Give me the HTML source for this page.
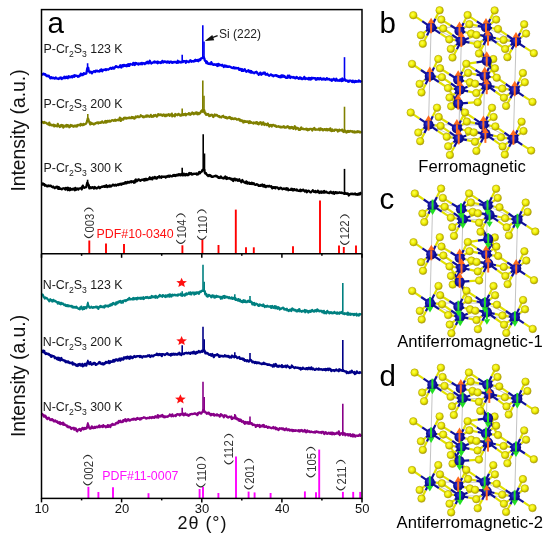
<!DOCTYPE html><html><head><meta charset="utf-8"><style>html,body{margin:0;padding:0;background:#fff;}svg{display:block;}text{font-family:"Liberation Sans",Arial,sans-serif;}</style></head><body>
<svg width="550" height="542" viewBox="0 0 550 542">
<rect width="550" height="542" fill="#fff"/>
<line x1="89.3" y1="240.5" x2="89.3" y2="253" stroke="#ff0000" stroke-width="1.9"/>
<line x1="106.0" y1="243.5" x2="106.0" y2="253" stroke="#ff0000" stroke-width="1.9"/>
<line x1="124.0" y1="244.0" x2="124.0" y2="253" stroke="#ff0000" stroke-width="1.9"/>
<line x1="182.4" y1="245.3" x2="182.4" y2="253" stroke="#ff0000" stroke-width="1.9"/>
<line x1="202.4" y1="239.5" x2="202.4" y2="253" stroke="#ff0000" stroke-width="1.9"/>
<line x1="218.5" y1="245.0" x2="218.5" y2="253" stroke="#ff0000" stroke-width="1.9"/>
<line x1="235.8" y1="209.6" x2="235.8" y2="253" stroke="#ff0000" stroke-width="1.9"/>
<line x1="246.0" y1="247.3" x2="246.0" y2="253" stroke="#ff0000" stroke-width="1.9"/>
<line x1="253.8" y1="247.3" x2="253.8" y2="253" stroke="#ff0000" stroke-width="1.9"/>
<line x1="293.0" y1="246.3" x2="293.0" y2="253" stroke="#ff0000" stroke-width="1.9"/>
<line x1="320.0" y1="200.5" x2="320.0" y2="253" stroke="#ff0000" stroke-width="1.9"/>
<line x1="339.0" y1="245.6" x2="339.0" y2="253" stroke="#ff0000" stroke-width="1.9"/>
<line x1="343.8" y1="247.0" x2="343.8" y2="253" stroke="#ff0000" stroke-width="1.9"/>
<line x1="356.0" y1="245.6" x2="356.0" y2="253" stroke="#ff0000" stroke-width="1.9"/>
<line x1="88.4" y1="486.8" x2="88.4" y2="498" stroke="#ff00ff" stroke-width="1.9"/>
<line x1="98.4" y1="492.0" x2="98.4" y2="498" stroke="#ff00ff" stroke-width="1.9"/>
<line x1="113.0" y1="487.3" x2="113.0" y2="498" stroke="#ff00ff" stroke-width="1.9"/>
<line x1="148.5" y1="493.2" x2="148.5" y2="498" stroke="#ff00ff" stroke-width="1.9"/>
<line x1="199.6" y1="489.0" x2="199.6" y2="498" stroke="#ff00ff" stroke-width="1.9"/>
<line x1="203.0" y1="487.0" x2="203.0" y2="498" stroke="#ff00ff" stroke-width="1.9"/>
<line x1="218.4" y1="493.0" x2="218.4" y2="498" stroke="#ff00ff" stroke-width="1.9"/>
<line x1="236.0" y1="456.4" x2="236.0" y2="498" stroke="#ff00ff" stroke-width="1.9"/>
<line x1="248.6" y1="491.6" x2="248.6" y2="498" stroke="#ff00ff" stroke-width="1.9"/>
<line x1="254.6" y1="492.4" x2="254.6" y2="498" stroke="#ff00ff" stroke-width="1.9"/>
<line x1="270.6" y1="493.0" x2="270.6" y2="498" stroke="#ff00ff" stroke-width="1.9"/>
<line x1="304.9" y1="491.4" x2="304.9" y2="498" stroke="#ff00ff" stroke-width="1.9"/>
<line x1="316.0" y1="492.2" x2="316.0" y2="498" stroke="#ff00ff" stroke-width="1.9"/>
<line x1="319.2" y1="449.6" x2="319.2" y2="498" stroke="#ff00ff" stroke-width="1.9"/>
<line x1="342.9" y1="491.9" x2="342.9" y2="498" stroke="#ff00ff" stroke-width="1.9"/>
<line x1="353.2" y1="491.9" x2="353.2" y2="498" stroke="#ff00ff" stroke-width="1.9"/>
<line x1="360.2" y1="491.9" x2="360.2" y2="498" stroke="#ff00ff" stroke-width="1.9"/>
<path d="M41.8 74.32 L42.3 74.67 L42.8 74.05 L43.3 73.63 L43.8 73.57 L44.3 74.44 L44.8 74.15 L45.3 74.08 L45.8 75.27 L46.3 75.62 L46.8 76.13 L47.3 75.52 L47.8 76.15 L48.3 76.33 L48.8 75.61 L49.3 76.85 L49.8 77.03 L50.3 78.42 L50.8 77.43 L51.3 77.19 L51.8 78.09 L52.3 77.72 L52.8 78.19 L53.3 77.59 L53.8 77.94 L54.3 78.55 L54.8 78.52 L55.3 78.23 L55.8 77.52 L56.3 78.36 L56.8 78.30 L57.3 78.69 L57.8 78.44 L58.3 78.92 L58.8 78.29 L59.3 78.33 L59.8 78.58 L60.3 77.53 L60.8 77.74 L61.3 77.67 L61.8 79.10 L62.3 78.01 L62.8 78.25 L63.3 78.21 L63.8 77.62 L64.3 76.72 L64.8 78.05 L65.3 77.39 L65.8 77.91 L66.3 76.73 L66.8 77.02 L67.3 78.03 L67.8 78.23 L68.3 76.56 L68.8 76.24 L69.3 76.91 L69.8 77.41 L70.3 77.09 L70.8 77.06 L71.3 76.23 L71.8 76.99 L72.3 77.36 L72.8 76.43 L73.3 75.62 L73.8 75.85 L74.3 76.73 L74.8 75.30 L75.3 76.01 L75.8 75.52 L76.3 75.90 L76.8 75.82 L77.3 75.90 L77.8 76.74 L78.3 76.15 L78.8 76.54 L79.3 75.64 L79.8 75.24 L80.3 75.61 L80.8 73.64 L81.3 74.94 L81.8 75.16 L82.3 74.26 L82.8 75.04 L83.3 74.45 L83.8 73.12 L84.3 74.16 L84.8 73.74 L85.3 73.81 L85.8 73.73 L86.3 73.61 L86.8 70.89 L87.3 68.26 L87.8 67.74 L88.3 67.85 L88.8 71.43 L89.3 71.47 L89.8 72.57 L90.3 71.80 L90.8 71.76 L91.3 72.05 L91.8 73.40 L92.3 72.80 L92.8 71.85 L93.3 71.80 L93.8 71.18 L94.3 71.66 L94.8 71.32 L95.3 71.95 L95.8 70.70 L96.3 71.03 L96.8 70.68 L97.3 70.61 L97.8 71.38 L98.3 71.05 L98.8 71.19 L99.3 71.50 L99.8 71.44 L100.3 69.84 L100.8 70.67 L101.3 69.35 L101.8 70.09 L102.3 71.32 L102.8 70.16 L103.3 69.81 L103.8 70.00 L104.3 69.86 L104.8 69.76 L105.3 69.19 L105.8 70.11 L106.3 70.04 L106.8 69.27 L107.3 69.37 L107.8 69.49 L108.3 69.63 L108.8 69.16 L109.3 69.17 L109.8 68.49 L110.3 67.80 L110.8 67.93 L111.3 68.76 L111.8 68.75 L112.3 68.15 L112.8 67.53 L113.3 67.86 L113.8 68.62 L114.3 68.44 L114.8 67.09 L115.3 67.16 L115.8 66.22 L116.3 66.17 L116.8 66.85 L117.3 66.75 L117.8 67.20 L118.3 67.35 L118.8 67.01 L119.3 67.15 L119.8 65.95 L120.3 65.34 L120.8 66.16 L121.3 67.52 L121.8 66.26 L122.3 65.09 L122.8 65.68 L123.3 66.41 L123.8 64.97 L124.3 65.79 L124.8 64.99 L125.3 65.94 L125.8 65.72 L126.3 65.33 L126.8 66.22 L127.3 64.84 L127.8 64.40 L128.3 65.79 L128.8 64.30 L129.3 65.86 L129.8 64.69 L130.3 63.87 L130.8 64.31 L131.3 64.41 L131.8 64.42 L132.3 64.14 L132.8 64.81 L133.3 62.83 L133.8 63.54 L134.3 63.78 L134.8 65.02 L135.3 62.88 L135.8 63.50 L136.3 63.07 L136.8 63.25 L137.3 64.02 L137.8 63.96 L138.3 64.53 L138.8 63.35 L139.3 63.65 L139.8 64.20 L140.3 64.08 L140.8 63.28 L141.3 64.00 L141.8 62.84 L142.3 64.26 L142.8 63.44 L143.3 63.11 L143.8 63.25 L144.3 63.58 L144.8 64.12 L145.3 63.03 L145.8 62.70 L146.3 63.18 L146.8 62.34 L147.3 61.68 L147.8 63.06 L148.3 62.50 L148.8 63.29 L149.3 62.08 L149.8 60.74 L150.3 62.42 L150.8 62.56 L151.3 63.42 L151.8 62.87 L152.3 62.63 L152.8 62.74 L153.3 62.16 L153.8 62.31 L154.3 61.46 L154.8 62.43 L155.3 61.76 L155.8 61.85 L156.3 62.53 L156.8 62.74 L157.3 61.60 L157.8 63.22 L158.3 61.89 L158.8 62.53 L159.3 62.68 L159.8 62.25 L160.3 62.13 L160.8 63.08 L161.3 62.66 L161.8 62.32 L162.3 60.89 L162.8 61.31 L163.3 62.51 L163.8 62.09 L164.3 61.33 L164.8 61.39 L165.3 61.59 L165.8 62.21 L166.3 62.12 L166.8 62.47 L167.3 61.43 L167.8 62.35 L168.3 61.59 L168.8 61.60 L169.3 62.82 L169.8 62.00 L170.3 61.75 L170.8 61.67 L171.3 61.55 L171.8 62.69 L172.3 62.75 L172.8 62.36 L173.3 61.98 L173.8 62.43 L174.3 61.83 L174.8 62.05 L175.3 62.05 L175.8 61.86 L176.3 62.77 L176.8 62.96 L177.3 62.73 L177.8 60.75 L178.3 62.70 L178.8 62.30 L179.3 61.54 L179.8 61.67 L180.3 62.38 L180.8 62.50 L181.3 62.31 L181.8 61.83 L182.3 61.68 L182.8 62.11 L183.3 61.60 L183.8 61.02 L184.3 61.08 L184.8 61.35 L185.3 61.65 L185.8 62.83 L186.3 60.80 L186.8 61.57 L187.3 61.32 L187.8 61.49 L188.3 62.11 L188.8 62.11 L189.3 61.24 L189.8 60.84 L190.3 60.26 L190.8 60.91 L191.3 61.76 L191.8 60.94 L192.3 61.36 L192.8 61.38 L193.3 61.15 L193.8 61.48 L194.3 60.76 L194.8 60.17 L195.3 59.83 L195.8 60.99 L196.3 60.33 L196.8 60.21 L197.3 60.82 L197.8 59.88 L198.3 61.21 L198.8 60.63 L199.3 59.67 L199.8 59.27 L200.3 60.03 L200.8 58.55 L201.3 58.38 L201.8 58.41 L202.3 58.07 L202.8 57.36 L203.3 57.20 L203.8 57.19 L204.3 58.35 L204.8 60.38 L205.3 61.14 L205.8 61.24 L206.3 63.05 L206.8 61.48 L207.3 62.73 L207.8 63.45 L208.3 63.89 L208.8 63.56 L209.3 63.32 L209.8 63.95 L210.3 63.66 L210.8 64.09 L211.3 62.22 L211.8 63.95 L212.3 63.57 L212.8 64.62 L213.3 64.74 L213.8 64.82 L214.3 64.25 L214.8 64.77 L215.3 64.43 L215.8 64.77 L216.3 64.68 L216.8 64.28 L217.3 65.99 L217.8 65.56 L218.3 63.89 L218.8 65.48 L219.3 64.41 L219.8 65.01 L220.3 64.96 L220.8 65.05 L221.3 65.60 L221.8 65.41 L222.3 64.78 L222.8 65.63 L223.3 66.05 L223.8 67.03 L224.3 65.94 L224.8 65.39 L225.3 65.87 L225.8 66.64 L226.3 65.91 L226.8 65.97 L227.3 66.83 L227.8 66.70 L228.3 66.90 L228.8 66.50 L229.3 66.40 L229.8 66.77 L230.3 67.01 L230.8 67.02 L231.3 67.58 L231.8 67.82 L232.3 67.95 L232.8 68.03 L233.3 67.31 L233.8 67.17 L234.3 68.40 L234.8 68.21 L235.3 68.34 L235.8 67.70 L236.3 68.27 L236.8 68.20 L237.3 68.16 L237.8 68.39 L238.3 68.00 L238.8 68.99 L239.3 69.89 L239.8 68.99 L240.3 69.43 L240.8 68.88 L241.3 69.94 L241.8 70.90 L242.3 69.27 L242.8 69.71 L243.3 70.84 L243.8 70.45 L244.3 70.32 L244.8 69.18 L245.3 70.29 L245.8 71.23 L246.3 71.79 L246.8 71.50 L247.3 70.82 L247.8 70.75 L248.3 70.16 L248.8 70.63 L249.3 72.13 L249.8 71.74 L250.3 71.03 L250.8 72.57 L251.3 71.06 L251.8 72.66 L252.3 72.00 L252.8 72.36 L253.3 72.68 L253.8 72.54 L254.3 73.19 L254.8 72.59 L255.3 72.36 L255.8 72.19 L256.3 71.76 L256.8 72.21 L257.3 73.35 L257.8 73.49 L258.3 73.92 L258.8 74.85 L259.3 73.85 L259.8 73.64 L260.3 72.58 L260.8 73.13 L261.3 74.74 L261.8 74.05 L262.3 73.61 L262.8 73.88 L263.3 72.66 L263.8 73.18 L264.3 73.04 L264.8 72.58 L265.3 74.32 L265.8 74.77 L266.3 74.21 L266.8 74.51 L267.3 73.81 L267.8 74.64 L268.3 75.02 L268.8 75.61 L269.3 75.78 L269.8 75.23 L270.3 74.84 L270.8 74.43 L271.3 74.57 L271.8 75.39 L272.3 75.55 L272.8 75.31 L273.3 76.33 L273.8 75.94 L274.3 75.56 L274.8 75.45 L275.3 75.65 L275.8 75.13 L276.3 75.09 L276.8 75.94 L277.3 75.57 L277.8 75.76 L278.3 76.74 L278.8 76.10 L279.3 76.96 L279.8 76.35 L280.3 77.22 L280.8 76.77 L281.3 75.42 L281.8 77.07 L282.3 76.50 L282.8 75.40 L283.3 76.53 L283.8 76.77 L284.3 75.99 L284.8 76.33 L285.3 77.11 L285.8 77.79 L286.3 77.77 L286.8 77.86 L287.3 77.86 L287.8 75.73 L288.3 76.51 L288.8 77.22 L289.3 75.64 L289.8 77.52 L290.3 77.91 L290.8 77.01 L291.3 77.15 L291.8 76.87 L292.3 77.42 L292.8 77.53 L293.3 77.60 L293.8 77.04 L294.3 77.84 L294.8 77.58 L295.3 78.36 L295.8 78.15 L296.3 77.09 L296.8 77.01 L297.3 77.96 L297.8 77.82 L298.3 78.42 L298.8 78.77 L299.3 78.39 L299.8 77.36 L300.3 77.55 L300.8 78.68 L301.3 77.92 L301.8 79.14 L302.3 78.64 L302.8 78.97 L303.3 78.21 L303.8 78.59 L304.3 76.96 L304.8 78.39 L305.3 79.10 L305.8 78.34 L306.3 78.27 L306.8 78.74 L307.3 78.88 L307.8 78.38 L308.3 79.19 L308.8 77.91 L309.3 79.37 L309.8 78.07 L310.3 78.21 L310.8 79.51 L311.3 78.30 L311.8 77.72 L312.3 78.66 L312.8 78.20 L313.3 78.02 L313.8 78.24 L314.3 78.25 L314.8 78.13 L315.3 78.09 L315.8 79.69 L316.3 78.58 L316.8 79.43 L317.3 78.16 L317.8 79.17 L318.3 78.27 L318.8 78.64 L319.3 79.39 L319.8 78.84 L320.3 77.93 L320.8 78.68 L321.3 79.06 L321.8 79.59 L322.3 78.76 L322.8 79.09 L323.3 79.39 L323.8 78.44 L324.3 79.25 L324.8 78.96 L325.3 79.70 L325.8 79.49 L326.3 79.45 L326.8 78.11 L327.3 79.31 L327.8 79.35 L328.3 79.03 L328.8 79.26 L329.3 78.86 L329.8 79.68 L330.3 80.11 L330.8 80.15 L331.3 79.50 L331.8 80.74 L332.3 80.44 L332.8 79.33 L333.3 79.66 L333.8 78.83 L334.3 79.62 L334.8 80.25 L335.3 80.68 L335.8 79.75 L336.3 78.79 L336.8 79.62 L337.3 80.67 L337.8 80.10 L338.3 80.70 L338.8 80.50 L339.3 80.86 L339.8 80.28 L340.3 79.38 L340.8 79.85 L341.3 81.14 L341.8 79.49 L342.3 78.46 L342.8 80.75 L343.3 80.18 L343.8 79.60 L344.3 79.67 L344.8 79.27 L345.3 80.71 L345.8 80.73 L346.3 80.39 L346.8 80.51 L347.3 80.55 L347.8 81.48 L348.3 80.90 L348.8 81.78 L349.3 80.61 L349.8 80.59 L350.3 80.70 L350.8 80.71 L351.3 81.00 L351.8 81.74 L352.3 81.99 L352.8 80.68 L353.3 81.92 L353.8 81.42 L354.3 82.27 L354.8 81.36 L355.3 80.85 L355.8 81.77 L356.3 81.83 L356.8 81.21 L357.3 81.43 L357.8 81.54 L358.3 81.69 L358.8 80.51 L359.3 80.66 L359.8 81.45 L360.3 81.71 L360.8 81.29 L361.3 80.49" fill="none" stroke="#0000f0" stroke-width="2.3" stroke-linejoin="round"/>
<line x1="87.6" y1="68.54" x2="87.6" y2="63.24" stroke="#0000f0" stroke-width="1.6"/>
<line x1="182.2" y1="62.48" x2="182.2" y2="54.68" stroke="#0000f0" stroke-width="1.6"/>
<line x1="202.8" y1="58.16" x2="202.8" y2="25.36" stroke="#0000f0" stroke-width="1.6"/>
<line x1="204.0" y1="57.99" x2="204.0" y2="41.59" stroke="#0000f0" stroke-width="1.6"/>
<line x1="344.5" y1="80.47" x2="344.5" y2="57.17" stroke="#0000f0" stroke-width="1.6"/>
<path d="M41.8 123.34 L42.3 121.87 L42.8 122.42 L43.3 122.50 L43.8 123.09 L44.3 122.01 L44.8 122.63 L45.3 122.71 L45.8 122.71 L46.3 123.04 L46.8 123.46 L47.3 123.82 L47.8 123.65 L48.3 124.54 L48.8 124.19 L49.3 122.65 L49.8 125.15 L50.3 124.68 L50.8 124.49 L51.3 125.17 L51.8 125.34 L52.3 125.35 L52.8 124.89 L53.3 125.54 L53.8 124.67 L54.3 126.41 L54.8 125.12 L55.3 125.62 L55.8 125.90 L56.3 126.11 L56.8 125.92 L57.3 126.37 L57.8 124.00 L58.3 125.72 L58.8 125.98 L59.3 125.88 L59.8 127.06 L60.3 125.75 L60.8 126.11 L61.3 125.00 L61.8 126.24 L62.3 125.29 L62.8 125.18 L63.3 127.54 L63.8 126.90 L64.3 126.38 L64.8 126.42 L65.3 125.45 L65.8 125.55 L66.3 126.46 L66.8 125.05 L67.3 126.29 L67.8 125.25 L68.3 126.21 L68.8 125.60 L69.3 127.24 L69.8 127.02 L70.3 126.04 L70.8 125.03 L71.3 125.53 L71.8 126.03 L72.3 125.51 L72.8 126.17 L73.3 126.67 L73.8 126.06 L74.3 125.70 L74.8 126.33 L75.3 125.72 L75.8 126.27 L76.3 125.59 L76.8 126.60 L77.3 125.54 L77.8 124.85 L78.3 125.39 L78.8 124.96 L79.3 124.66 L79.8 125.05 L80.3 125.57 L80.8 123.81 L81.3 124.76 L81.8 124.76 L82.3 124.69 L82.8 125.18 L83.3 123.89 L83.8 124.82 L84.3 124.33 L84.8 124.38 L85.3 124.08 L85.8 123.78 L86.3 123.01 L86.8 121.92 L87.3 120.49 L87.8 118.39 L88.3 118.97 L88.8 120.98 L89.3 122.04 L89.8 123.28 L90.3 124.42 L90.8 122.54 L91.3 123.54 L91.8 123.78 L92.3 123.34 L92.8 123.55 L93.3 123.91 L93.8 124.43 L94.3 123.91 L94.8 124.01 L95.3 123.18 L95.8 123.31 L96.3 122.89 L96.8 122.86 L97.3 122.36 L97.8 122.93 L98.3 123.45 L98.8 122.51 L99.3 122.59 L99.8 122.79 L100.3 122.42 L100.8 122.89 L101.3 122.52 L101.8 121.56 L102.3 121.47 L102.8 122.48 L103.3 122.54 L103.8 122.79 L104.3 122.27 L104.8 122.12 L105.3 120.96 L105.8 122.53 L106.3 121.30 L106.8 122.24 L107.3 120.99 L107.8 121.02 L108.3 121.45 L108.8 121.09 L109.3 120.79 L109.8 121.63 L110.3 121.55 L110.8 121.29 L111.3 120.72 L111.8 120.27 L112.3 120.33 L112.8 120.24 L113.3 120.45 L113.8 120.89 L114.3 120.31 L114.8 119.77 L115.3 119.72 L115.8 120.78 L116.3 120.19 L116.8 120.06 L117.3 120.00 L117.8 120.10 L118.3 119.76 L118.8 120.25 L119.3 120.03 L119.8 117.71 L120.3 118.92 L120.8 120.91 L121.3 118.59 L121.8 119.03 L122.3 119.61 L122.8 118.98 L123.3 119.63 L123.8 118.09 L124.3 117.80 L124.8 118.33 L125.3 118.02 L125.8 117.70 L126.3 118.58 L126.8 118.47 L127.3 118.23 L127.8 117.88 L128.3 118.17 L128.8 117.91 L129.3 117.45 L129.8 118.07 L130.3 118.02 L130.8 117.79 L131.3 118.07 L131.8 116.98 L132.3 117.35 L132.8 117.12 L133.3 118.15 L133.8 117.76 L134.3 118.62 L134.8 118.37 L135.3 117.12 L135.8 116.44 L136.3 117.24 L136.8 116.85 L137.3 116.82 L137.8 116.23 L138.3 117.10 L138.8 116.93 L139.3 116.99 L139.8 116.91 L140.3 116.12 L140.8 115.17 L141.3 116.16 L141.8 116.06 L142.3 116.07 L142.8 116.92 L143.3 116.38 L143.8 117.23 L144.3 116.53 L144.8 116.69 L145.3 116.58 L145.8 116.71 L146.3 115.47 L146.8 116.66 L147.3 116.23 L147.8 115.48 L148.3 116.30 L148.8 116.24 L149.3 116.77 L149.8 116.49 L150.3 116.20 L150.8 114.94 L151.3 116.71 L151.8 116.83 L152.3 116.40 L152.8 116.12 L153.3 116.51 L153.8 115.29 L154.3 116.02 L154.8 115.70 L155.3 115.02 L155.8 115.71 L156.3 115.78 L156.8 116.58 L157.3 116.22 L157.8 114.61 L158.3 114.13 L158.8 115.17 L159.3 115.22 L159.8 114.77 L160.3 114.37 L160.8 115.05 L161.3 114.55 L161.8 114.74 L162.3 115.68 L162.8 115.43 L163.3 114.78 L163.8 114.45 L164.3 114.94 L164.8 116.15 L165.3 114.98 L165.8 116.13 L166.3 114.78 L166.8 114.92 L167.3 115.47 L167.8 114.67 L168.3 115.04 L168.8 114.24 L169.3 115.32 L169.8 115.78 L170.3 114.75 L170.8 115.09 L171.3 114.78 L171.8 113.67 L172.3 116.43 L172.8 115.56 L173.3 115.54 L173.8 115.26 L174.3 115.08 L174.8 116.35 L175.3 114.02 L175.8 114.56 L176.3 114.56 L176.8 114.68 L177.3 115.22 L177.8 114.44 L178.3 113.94 L178.8 113.97 L179.3 114.91 L179.8 115.33 L180.3 115.29 L180.8 115.74 L181.3 114.51 L181.8 115.22 L182.3 115.12 L182.8 114.57 L183.3 114.11 L183.8 115.00 L184.3 114.17 L184.8 114.25 L185.3 113.83 L185.8 115.38 L186.3 114.50 L186.8 114.08 L187.3 114.14 L187.8 114.13 L188.3 114.29 L188.8 113.21 L189.3 113.35 L189.8 114.34 L190.3 114.80 L190.8 113.58 L191.3 114.04 L191.8 113.66 L192.3 112.55 L192.8 113.52 L193.3 113.16 L193.8 114.24 L194.3 113.71 L194.8 113.69 L195.3 112.79 L195.8 113.57 L196.3 112.39 L196.8 113.46 L197.3 114.26 L197.8 112.77 L198.3 113.72 L198.8 114.10 L199.3 113.05 L199.8 113.52 L200.3 112.79 L200.8 112.10 L201.3 110.80 L201.8 110.78 L202.3 110.01 L202.8 111.61 L203.3 110.23 L203.8 110.15 L204.3 110.35 L204.8 113.15 L205.3 112.55 L205.8 114.55 L206.3 114.92 L206.8 114.56 L207.3 114.22 L207.8 114.66 L208.3 114.04 L208.8 115.21 L209.3 116.06 L209.8 115.76 L210.3 115.85 L210.8 114.85 L211.3 115.34 L211.8 114.66 L212.3 114.94 L212.8 115.73 L213.3 116.97 L213.8 115.75 L214.3 115.61 L214.8 114.50 L215.3 115.62 L215.8 115.19 L216.3 114.88 L216.8 114.84 L217.3 115.87 L217.8 115.76 L218.3 116.45 L218.8 116.06 L219.3 116.21 L219.8 117.17 L220.3 116.99 L220.8 117.00 L221.3 117.50 L221.8 116.89 L222.3 116.14 L222.8 116.21 L223.3 115.84 L223.8 117.01 L224.3 116.80 L224.8 117.39 L225.3 117.75 L225.8 116.89 L226.3 117.44 L226.8 118.26 L227.3 117.74 L227.8 118.25 L228.3 117.73 L228.8 117.28 L229.3 117.72 L229.8 116.87 L230.3 118.39 L230.8 117.97 L231.3 119.12 L231.8 117.83 L232.3 118.54 L232.8 118.88 L233.3 118.69 L233.8 119.12 L234.3 118.59 L234.8 118.42 L235.3 118.30 L235.8 118.89 L236.3 118.93 L236.8 119.67 L237.3 119.52 L237.8 119.42 L238.3 119.46 L238.8 118.86 L239.3 119.79 L239.8 120.50 L240.3 119.64 L240.8 120.26 L241.3 121.00 L241.8 120.37 L242.3 120.90 L242.8 120.68 L243.3 122.47 L243.8 122.17 L244.3 122.07 L244.8 121.03 L245.3 121.77 L245.8 121.47 L246.3 121.83 L246.8 121.39 L247.3 121.84 L247.8 121.41 L248.3 122.06 L248.8 123.11 L249.3 121.42 L249.8 121.26 L250.3 122.40 L250.8 122.81 L251.3 122.21 L251.8 122.77 L252.3 122.81 L252.8 122.95 L253.3 123.53 L253.8 122.45 L254.3 123.14 L254.8 123.03 L255.3 122.53 L255.8 123.24 L256.3 122.31 L256.8 122.12 L257.3 123.71 L257.8 122.67 L258.3 124.28 L258.8 124.18 L259.3 123.27 L259.8 122.97 L260.3 122.16 L260.8 123.41 L261.3 122.71 L261.8 124.62 L262.3 122.98 L262.8 123.87 L263.3 122.36 L263.8 123.66 L264.3 124.95 L264.8 124.13 L265.3 123.83 L265.8 124.05 L266.3 124.67 L266.8 125.13 L267.3 124.58 L267.8 123.45 L268.3 124.78 L268.8 125.46 L269.3 126.44 L269.8 125.35 L270.3 125.25 L270.8 124.87 L271.3 125.67 L271.8 126.48 L272.3 124.98 L272.8 125.48 L273.3 124.94 L273.8 125.14 L274.3 125.55 L274.8 126.09 L275.3 125.42 L275.8 125.72 L276.3 126.85 L276.8 126.55 L277.3 126.69 L277.8 126.58 L278.3 126.27 L278.8 126.65 L279.3 126.83 L279.8 126.58 L280.3 127.23 L280.8 126.75 L281.3 127.28 L281.8 126.87 L282.3 127.29 L282.8 126.54 L283.3 126.55 L283.8 126.23 L284.3 127.68 L284.8 127.51 L285.3 127.35 L285.8 127.62 L286.3 126.82 L286.8 127.31 L287.3 127.05 L287.8 126.22 L288.3 127.12 L288.8 126.92 L289.3 128.35 L289.8 127.26 L290.3 127.22 L290.8 128.23 L291.3 127.81 L291.8 126.98 L292.3 127.85 L292.8 127.41 L293.3 128.89 L293.8 127.45 L294.3 127.46 L294.8 126.29 L295.3 127.43 L295.8 129.20 L296.3 128.29 L296.8 127.68 L297.3 128.39 L297.8 128.18 L298.3 128.34 L298.8 129.96 L299.3 129.94 L299.8 129.72 L300.3 129.76 L300.8 128.21 L301.3 127.38 L301.8 128.94 L302.3 128.99 L302.8 128.82 L303.3 128.72 L303.8 129.25 L304.3 129.26 L304.8 129.10 L305.3 129.24 L305.8 128.85 L306.3 128.71 L306.8 129.79 L307.3 128.95 L307.8 130.22 L308.3 129.59 L308.8 129.15 L309.3 129.74 L309.8 128.85 L310.3 128.92 L310.8 128.84 L311.3 129.05 L311.8 129.51 L312.3 130.45 L312.8 129.64 L313.3 128.55 L313.8 128.55 L314.3 127.95 L314.8 129.43 L315.3 129.75 L315.8 129.48 L316.3 129.46 L316.8 129.58 L317.3 129.54 L317.8 129.69 L318.3 129.46 L318.8 128.70 L319.3 129.79 L319.8 130.21 L320.3 128.46 L320.8 129.08 L321.3 128.64 L321.8 129.61 L322.3 129.29 L322.8 130.32 L323.3 130.31 L323.8 129.37 L324.3 129.25 L324.8 129.20 L325.3 129.94 L325.8 129.16 L326.3 129.92 L326.8 128.95 L327.3 130.34 L327.8 130.23 L328.3 129.25 L328.8 129.37 L329.3 130.00 L329.8 130.22 L330.3 128.36 L330.8 130.00 L331.3 131.09 L331.8 130.08 L332.3 129.41 L332.8 130.92 L333.3 130.58 L333.8 130.53 L334.3 130.81 L334.8 129.75 L335.3 129.96 L335.8 129.73 L336.3 129.71 L336.8 130.23 L337.3 129.87 L337.8 131.47 L338.3 131.05 L338.8 131.18 L339.3 129.63 L339.8 130.22 L340.3 130.26 L340.8 130.38 L341.3 130.51 L341.8 129.73 L342.3 129.56 L342.8 130.74 L343.3 131.82 L343.8 132.00 L344.3 130.72 L344.8 130.37 L345.3 131.07 L345.8 131.49 L346.3 132.47 L346.8 131.44 L347.3 131.00 L347.8 132.05 L348.3 131.16 L348.8 130.97 L349.3 131.82 L349.8 131.53 L350.3 130.99 L350.8 131.42 L351.3 131.42 L351.8 131.56 L352.3 131.29 L352.8 132.08 L353.3 131.65 L353.8 131.46 L354.3 132.48 L354.8 131.44 L355.3 132.33 L355.8 132.39 L356.3 131.87 L356.8 132.13 L357.3 131.15 L357.8 132.08 L358.3 131.45 L358.8 131.48 L359.3 132.19 L359.8 131.70 L360.3 132.17 L360.8 132.43 L361.3 132.87" fill="none" stroke="#808000" stroke-width="2.3" stroke-linejoin="round"/>
<line x1="87.8" y1="119.19" x2="87.8" y2="113.89" stroke="#808000" stroke-width="1.6"/>
<line x1="182.2" y1="115.92" x2="182.2" y2="108.62" stroke="#808000" stroke-width="1.6"/>
<line x1="202.8" y1="112.41" x2="202.8" y2="80.61" stroke="#808000" stroke-width="1.6"/>
<line x1="204.0" y1="110.95" x2="204.0" y2="95.75" stroke="#808000" stroke-width="1.6"/>
<line x1="344.5" y1="131.52" x2="344.5" y2="106.72" stroke="#808000" stroke-width="1.6"/>
<path d="M41.8 183.60 L42.3 184.43 L42.8 183.38 L43.3 184.53 L43.8 184.12 L44.3 184.23 L44.8 185.74 L45.3 185.11 L45.8 185.09 L46.3 185.75 L46.8 186.27 L47.3 185.83 L47.8 186.29 L48.3 185.55 L48.8 185.91 L49.3 186.04 L49.8 185.63 L50.3 185.58 L50.8 185.61 L51.3 186.55 L51.8 186.84 L52.3 186.90 L52.8 187.25 L53.3 186.56 L53.8 187.30 L54.3 187.70 L54.8 188.16 L55.3 187.35 L55.8 187.58 L56.3 186.73 L56.8 187.58 L57.3 186.76 L57.8 187.17 L58.3 188.80 L58.8 187.12 L59.3 188.73 L59.8 188.74 L60.3 188.41 L60.8 188.87 L61.3 189.02 L61.8 189.40 L62.3 188.73 L62.8 188.46 L63.3 188.44 L63.8 188.25 L64.3 188.82 L64.8 188.49 L65.3 189.59 L65.8 188.03 L66.3 188.29 L66.8 188.44 L67.3 187.81 L67.8 190.14 L68.3 187.93 L68.8 188.89 L69.3 188.91 L69.8 190.23 L70.3 188.26 L70.8 189.80 L71.3 188.95 L71.8 189.17 L72.3 188.88 L72.8 189.61 L73.3 188.63 L73.8 189.09 L74.3 189.39 L74.8 190.28 L75.3 187.82 L75.8 189.76 L76.3 189.66 L76.8 188.73 L77.3 189.00 L77.8 188.52 L78.3 189.66 L78.8 188.91 L79.3 188.49 L79.8 188.36 L80.3 188.29 L80.8 188.22 L81.3 187.70 L81.8 189.29 L82.3 187.05 L82.8 185.60 L83.3 187.38 L83.8 187.55 L84.3 187.80 L84.8 187.42 L85.3 187.31 L85.8 187.36 L86.3 187.03 L86.8 184.57 L87.3 182.57 L87.8 183.51 L88.3 184.27 L88.8 185.19 L89.3 188.36 L89.8 188.30 L90.3 187.64 L90.8 187.27 L91.3 188.13 L91.8 187.59 L92.3 187.37 L92.8 187.18 L93.3 187.60 L93.8 188.60 L94.3 187.79 L94.8 187.02 L95.3 188.13 L95.8 187.89 L96.3 188.28 L96.8 188.51 L97.3 187.67 L97.8 187.52 L98.3 187.52 L98.8 186.83 L99.3 187.77 L99.8 188.29 L100.3 187.61 L100.8 187.22 L101.3 187.11 L101.8 186.74 L102.3 186.62 L102.8 186.80 L103.3 186.52 L103.8 186.67 L104.3 185.95 L104.8 186.95 L105.3 186.86 L105.8 186.07 L106.3 185.20 L106.8 186.37 L107.3 187.14 L107.8 186.08 L108.3 186.00 L108.8 185.86 L109.3 186.50 L109.8 185.57 L110.3 186.49 L110.8 185.78 L111.3 186.33 L111.8 185.80 L112.3 185.49 L112.8 184.62 L113.3 184.90 L113.8 185.12 L114.3 185.64 L114.8 185.41 L115.3 184.75 L115.8 185.25 L116.3 185.61 L116.8 184.92 L117.3 184.57 L117.8 184.48 L118.3 185.11 L118.8 184.96 L119.3 183.96 L119.8 184.50 L120.3 183.98 L120.8 183.66 L121.3 184.72 L121.8 184.54 L122.3 183.49 L122.8 183.72 L123.3 183.91 L123.8 183.15 L124.3 183.25 L124.8 183.63 L125.3 182.11 L125.8 183.04 L126.3 183.32 L126.8 183.12 L127.3 181.88 L127.8 182.58 L128.3 181.88 L128.8 182.53 L129.3 182.55 L129.8 182.23 L130.3 181.51 L130.8 181.43 L131.3 182.21 L131.8 181.20 L132.3 181.81 L132.8 181.84 L133.3 181.29 L133.8 182.74 L134.3 181.49 L134.8 182.47 L135.3 180.05 L135.8 179.48 L136.3 181.26 L136.8 181.24 L137.3 180.60 L137.8 180.59 L138.3 179.41 L138.8 179.93 L139.3 179.69 L139.8 180.08 L140.3 180.73 L140.8 180.26 L141.3 180.31 L141.8 179.61 L142.3 179.59 L142.8 179.84 L143.3 179.56 L143.8 180.38 L144.3 179.14 L144.8 180.54 L145.3 178.96 L145.8 179.88 L146.3 178.84 L146.8 180.07 L147.3 179.28 L147.8 179.25 L148.3 179.38 L148.8 178.50 L149.3 178.06 L149.8 177.33 L150.3 179.11 L150.8 178.15 L151.3 178.00 L151.8 178.25 L152.3 179.43 L152.8 177.32 L153.3 178.13 L153.8 177.80 L154.3 178.25 L154.8 176.85 L155.3 177.42 L155.8 178.18 L156.3 178.67 L156.8 178.70 L157.3 177.17 L157.8 177.43 L158.3 177.30 L158.8 176.47 L159.3 176.24 L159.8 177.47 L160.3 177.29 L160.8 176.97 L161.3 177.69 L161.8 176.41 L162.3 177.08 L162.8 176.83 L163.3 176.70 L163.8 176.95 L164.3 176.74 L164.8 176.71 L165.3 176.65 L165.8 177.60 L166.3 176.34 L166.8 176.90 L167.3 176.70 L167.8 176.05 L168.3 176.60 L168.8 175.65 L169.3 176.68 L169.8 175.61 L170.3 175.60 L170.8 176.05 L171.3 176.38 L171.8 176.43 L172.3 176.39 L172.8 175.69 L173.3 175.09 L173.8 175.87 L174.3 175.80 L174.8 174.99 L175.3 175.99 L175.8 175.64 L176.3 174.85 L176.8 175.54 L177.3 174.54 L177.8 174.63 L178.3 175.37 L178.8 174.27 L179.3 175.02 L179.8 174.26 L180.3 175.36 L180.8 174.61 L181.3 175.01 L181.8 174.02 L182.3 174.52 L182.8 175.33 L183.3 175.12 L183.8 173.67 L184.3 175.07 L184.8 175.22 L185.3 174.44 L185.8 175.36 L186.3 173.97 L186.8 174.31 L187.3 175.04 L187.8 175.23 L188.3 175.20 L188.8 173.73 L189.3 173.06 L189.8 174.23 L190.3 173.27 L190.8 173.87 L191.3 173.23 L191.8 174.51 L192.3 174.50 L192.8 174.32 L193.3 173.93 L193.8 173.85 L194.3 173.59 L194.8 173.92 L195.3 173.85 L195.8 173.92 L196.3 173.35 L196.8 174.61 L197.3 173.78 L197.8 174.27 L198.3 174.23 L198.8 172.80 L199.3 171.94 L199.8 173.40 L200.3 172.42 L200.8 172.31 L201.3 171.79 L201.8 171.57 L202.3 170.23 L202.8 170.09 L203.3 169.54 L203.8 170.13 L204.3 169.78 L204.8 172.59 L205.3 173.47 L205.8 172.92 L206.3 173.77 L206.8 174.59 L207.3 175.27 L207.8 175.15 L208.3 176.09 L208.8 175.54 L209.3 174.94 L209.8 175.15 L210.3 176.12 L210.8 175.54 L211.3 176.41 L211.8 176.73 L212.3 176.60 L212.8 176.92 L213.3 176.33 L213.8 176.42 L214.3 176.17 L214.8 176.21 L215.3 175.69 L215.8 176.27 L216.3 176.11 L216.8 175.92 L217.3 176.89 L217.8 177.27 L218.3 176.91 L218.8 177.93 L219.3 177.88 L219.8 177.99 L220.3 177.08 L220.8 176.46 L221.3 177.65 L221.8 177.74 L222.3 178.06 L222.8 177.97 L223.3 178.52 L223.8 177.73 L224.3 178.25 L224.8 177.44 L225.3 176.53 L225.8 177.57 L226.3 178.95 L226.8 177.32 L227.3 178.75 L227.8 178.00 L228.3 178.12 L228.8 178.47 L229.3 178.68 L229.8 178.08 L230.3 178.74 L230.8 179.12 L231.3 179.50 L231.8 178.69 L232.3 180.05 L232.8 180.56 L233.3 181.03 L233.8 178.94 L234.3 179.63 L234.8 178.61 L235.3 179.89 L235.8 180.29 L236.3 179.43 L236.8 179.14 L237.3 180.26 L237.8 180.80 L238.3 180.13 L238.8 180.46 L239.3 179.26 L239.8 180.28 L240.3 181.04 L240.8 181.23 L241.3 182.20 L241.8 180.79 L242.3 180.00 L242.8 181.59 L243.3 181.29 L243.8 181.86 L244.3 182.30 L244.8 182.38 L245.3 182.99 L245.8 183.12 L246.3 181.43 L246.8 182.23 L247.3 183.68 L247.8 182.54 L248.3 183.29 L248.8 182.88 L249.3 182.70 L249.8 183.96 L250.3 183.92 L250.8 183.23 L251.3 183.91 L251.8 182.77 L252.3 183.04 L252.8 184.14 L253.3 183.87 L253.8 183.26 L254.3 184.15 L254.8 184.29 L255.3 184.97 L255.8 184.96 L256.3 184.31 L256.8 184.18 L257.3 184.45 L257.8 184.52 L258.3 185.63 L258.8 185.96 L259.3 185.95 L259.8 185.44 L260.3 185.07 L260.8 185.78 L261.3 185.21 L261.8 185.55 L262.3 184.54 L262.8 185.21 L263.3 186.50 L263.8 185.29 L264.3 184.90 L264.8 185.71 L265.3 187.00 L265.8 187.14 L266.3 186.14 L266.8 186.00 L267.3 186.27 L267.8 185.89 L268.3 186.48 L268.8 186.44 L269.3 185.80 L269.8 186.31 L270.3 186.65 L270.8 186.41 L271.3 186.28 L271.8 187.55 L272.3 188.40 L272.8 187.29 L273.3 187.11 L273.8 187.70 L274.3 187.42 L274.8 187.11 L275.3 188.43 L275.8 187.24 L276.3 187.31 L276.8 187.42 L277.3 187.37 L277.8 187.81 L278.3 188.43 L278.8 189.10 L279.3 188.80 L279.8 188.44 L280.3 187.67 L280.8 188.32 L281.3 187.95 L281.8 188.46 L282.3 189.23 L282.8 188.94 L283.3 188.70 L283.8 188.39 L284.3 188.84 L284.8 189.03 L285.3 188.49 L285.8 188.71 L286.3 189.63 L286.8 188.29 L287.3 188.87 L287.8 188.57 L288.3 190.20 L288.8 189.92 L289.3 189.87 L289.8 189.84 L290.3 189.82 L290.8 189.86 L291.3 188.79 L291.8 189.78 L292.3 190.18 L292.8 189.07 L293.3 190.30 L293.8 190.43 L294.3 189.19 L294.8 189.68 L295.3 189.90 L295.8 189.85 L296.3 190.44 L296.8 189.58 L297.3 190.13 L297.8 190.53 L298.3 190.94 L298.8 190.64 L299.3 190.47 L299.8 191.05 L300.3 189.58 L300.8 191.15 L301.3 190.69 L301.8 190.10 L302.3 190.55 L302.8 189.82 L303.3 189.62 L303.8 190.66 L304.3 190.59 L304.8 191.52 L305.3 190.73 L305.8 190.40 L306.3 190.59 L306.8 192.25 L307.3 191.52 L307.8 191.05 L308.3 190.78 L308.8 190.70 L309.3 191.28 L309.8 191.74 L310.3 192.27 L310.8 192.37 L311.3 191.88 L311.8 191.27 L312.3 191.08 L312.8 190.20 L313.3 190.87 L313.8 191.85 L314.3 191.56 L314.8 191.96 L315.3 191.01 L315.8 192.23 L316.3 192.07 L316.8 191.92 L317.3 192.13 L317.8 190.59 L318.3 191.39 L318.8 191.33 L319.3 192.96 L319.8 192.03 L320.3 191.72 L320.8 192.51 L321.3 191.51 L321.8 192.87 L322.3 191.82 L322.8 192.08 L323.3 191.62 L323.8 192.61 L324.3 191.00 L324.8 192.50 L325.3 191.84 L325.8 192.29 L326.3 191.66 L326.8 192.41 L327.3 192.52 L327.8 192.80 L328.3 192.70 L328.8 192.89 L329.3 193.16 L329.8 192.39 L330.3 191.82 L330.8 191.69 L331.3 192.86 L331.8 192.42 L332.3 193.22 L332.8 192.75 L333.3 192.05 L333.8 193.11 L334.3 193.89 L334.8 192.74 L335.3 192.11 L335.8 192.08 L336.3 193.12 L336.8 192.39 L337.3 192.39 L337.8 193.05 L338.3 192.74 L338.8 192.77 L339.3 192.38 L339.8 192.27 L340.3 192.75 L340.8 192.83 L341.3 193.12 L341.8 192.52 L342.3 192.96 L342.8 193.18 L343.3 193.07 L343.8 193.45 L344.3 193.89 L344.8 193.59 L345.3 193.59 L345.8 193.07 L346.3 193.87 L346.8 193.78 L347.3 193.65 L347.8 193.34 L348.3 194.16 L348.8 195.49 L349.3 194.44 L349.8 194.10 L350.3 194.28 L350.8 193.71 L351.3 194.05 L351.8 193.67 L352.3 193.64 L352.8 194.18 L353.3 194.28 L353.8 194.11 L354.3 193.69 L354.8 194.28 L355.3 193.57 L355.8 194.60 L356.3 194.10 L356.8 194.25 L357.3 194.75 L357.8 194.71 L358.3 193.60 L358.8 194.08 L359.3 194.53 L359.8 193.74 L360.3 192.84 L360.8 194.11 L361.3 194.33" fill="none" stroke="#000000" stroke-width="2.3" stroke-linejoin="round"/>
<line x1="87.6" y1="184.31" x2="87.6" y2="179.71" stroke="#000000" stroke-width="1.6"/>
<line x1="182.2" y1="175.32" x2="182.2" y2="167.72" stroke="#000000" stroke-width="1.6"/>
<line x1="203.2" y1="170.34" x2="203.2" y2="134.24" stroke="#000000" stroke-width="1.6"/>
<line x1="204.5" y1="170.58" x2="204.5" y2="153.48" stroke="#000000" stroke-width="1.6"/>
<line x1="344.5" y1="194.69" x2="344.5" y2="168.89" stroke="#000000" stroke-width="1.6"/>
<path d="M41.8 293.70 L42.3 294.58 L42.8 294.86 L43.3 296.12 L43.8 297.31 L44.3 297.54 L44.8 298.53 L45.3 297.46 L45.8 298.12 L46.3 298.00 L46.8 298.17 L47.3 298.79 L47.8 299.37 L48.3 299.80 L48.8 300.03 L49.3 301.23 L49.8 300.71 L50.3 299.29 L50.8 300.29 L51.3 300.07 L51.8 300.23 L52.3 301.48 L52.8 300.88 L53.3 299.88 L53.8 301.22 L54.3 301.19 L54.8 300.78 L55.3 301.00 L55.8 301.34 L56.3 301.88 L56.8 301.86 L57.3 302.30 L57.8 303.57 L58.3 302.31 L58.8 302.26 L59.3 302.73 L59.8 303.75 L60.3 302.97 L60.8 304.27 L61.3 302.96 L61.8 303.07 L62.3 303.81 L62.8 303.58 L63.3 303.83 L63.8 304.64 L64.3 305.05 L64.8 304.86 L65.3 304.72 L65.8 305.79 L66.3 305.50 L66.8 305.20 L67.3 306.14 L67.8 305.13 L68.3 305.73 L68.8 306.24 L69.3 306.02 L69.8 305.76 L70.3 306.39 L70.8 306.05 L71.3 306.07 L71.8 305.92 L72.3 307.39 L72.8 306.59 L73.3 307.58 L73.8 307.34 L74.3 307.00 L74.8 307.59 L75.3 307.53 L75.8 307.51 L76.3 306.69 L76.8 307.51 L77.3 308.20 L77.8 308.13 L78.3 308.49 L78.8 308.91 L79.3 308.38 L79.8 309.30 L80.3 307.39 L80.8 307.92 L81.3 306.66 L81.8 308.52 L82.3 308.38 L82.8 309.35 L83.3 308.27 L83.8 307.08 L84.3 308.83 L84.8 307.46 L85.3 307.22 L85.8 307.75 L86.3 308.16 L86.8 307.05 L87.3 306.15 L87.8 303.65 L88.3 305.76 L88.8 306.29 L89.3 307.25 L89.8 307.80 L90.3 307.59 L90.8 307.52 L91.3 306.79 L91.8 307.12 L92.3 307.45 L92.8 307.83 L93.3 307.16 L93.8 307.15 L94.3 307.26 L94.8 307.38 L95.3 307.15 L95.8 306.81 L96.3 306.57 L96.8 307.48 L97.3 307.08 L97.8 306.83 L98.3 308.83 L98.8 307.54 L99.3 307.29 L99.8 306.80 L100.3 305.99 L100.8 307.12 L101.3 306.52 L101.8 306.49 L102.3 307.04 L102.8 307.09 L103.3 306.59 L103.8 306.34 L104.3 307.49 L104.8 306.68 L105.3 305.51 L105.8 306.32 L106.3 305.99 L106.8 305.78 L107.3 306.04 L107.8 305.70 L108.3 306.60 L108.8 305.53 L109.3 305.28 L109.8 305.67 L110.3 304.56 L110.8 305.22 L111.3 304.54 L111.8 305.06 L112.3 303.80 L112.8 304.25 L113.3 302.98 L113.8 303.35 L114.3 303.56 L114.8 303.74 L115.3 304.53 L115.8 304.43 L116.3 302.38 L116.8 302.29 L117.3 303.35 L117.8 302.88 L118.3 301.59 L118.8 302.37 L119.3 301.38 L119.8 301.25 L120.3 300.88 L120.8 301.32 L121.3 302.78 L121.8 301.77 L122.3 301.22 L122.8 302.59 L123.3 300.89 L123.8 300.71 L124.3 300.50 L124.8 300.76 L125.3 300.25 L125.8 301.12 L126.3 300.09 L126.8 300.34 L127.3 300.07 L127.8 299.27 L128.3 298.99 L128.8 299.41 L129.3 298.04 L129.8 299.14 L130.3 299.27 L130.8 299.27 L131.3 299.08 L131.8 299.26 L132.3 298.82 L132.8 299.30 L133.3 297.97 L133.8 299.25 L134.3 298.33 L134.8 298.98 L135.3 298.47 L135.8 298.38 L136.3 298.12 L136.8 299.33 L137.3 298.02 L137.8 297.72 L138.3 298.50 L138.8 298.61 L139.3 298.46 L139.8 297.80 L140.3 297.86 L140.8 298.76 L141.3 297.70 L141.8 298.48 L142.3 298.62 L142.8 298.24 L143.3 297.32 L143.8 299.00 L144.3 298.14 L144.8 298.00 L145.3 297.58 L145.8 297.13 L146.3 297.42 L146.8 297.69 L147.3 297.05 L147.8 297.48 L148.3 298.11 L148.8 297.73 L149.3 297.30 L149.8 297.87 L150.3 297.83 L150.8 297.77 L151.3 296.69 L151.8 295.88 L152.3 297.28 L152.8 297.00 L153.3 296.67 L153.8 297.09 L154.3 296.55 L154.8 296.33 L155.3 297.71 L155.8 295.84 L156.3 296.98 L156.8 297.21 L157.3 297.66 L157.8 296.79 L158.3 296.77 L158.8 295.88 L159.3 296.27 L159.8 295.02 L160.3 295.72 L160.8 296.11 L161.3 296.09 L161.8 295.83 L162.3 296.74 L162.8 295.20 L163.3 295.97 L163.8 295.73 L164.3 295.92 L164.8 295.92 L165.3 297.01 L165.8 295.35 L166.3 296.50 L166.8 296.68 L167.3 295.76 L167.8 295.31 L168.3 294.84 L168.8 294.97 L169.3 296.69 L169.8 294.41 L170.3 295.61 L170.8 295.07 L171.3 296.51 L171.8 295.76 L172.3 294.62 L172.8 294.92 L173.3 295.37 L173.8 295.38 L174.3 294.71 L174.8 294.99 L175.3 294.91 L175.8 295.44 L176.3 295.37 L176.8 295.31 L177.3 294.79 L177.8 295.52 L178.3 294.79 L178.8 294.50 L179.3 294.67 L179.8 294.73 L180.3 294.72 L180.8 293.72 L181.3 295.49 L181.8 295.29 L182.3 295.64 L182.8 294.63 L183.3 295.12 L183.8 294.83 L184.3 294.64 L184.8 295.62 L185.3 294.30 L185.8 294.76 L186.3 293.40 L186.8 294.52 L187.3 294.20 L187.8 293.61 L188.3 293.72 L188.8 292.77 L189.3 293.21 L189.8 293.96 L190.3 292.35 L190.8 294.26 L191.3 294.42 L191.8 293.35 L192.3 292.68 L192.8 292.56 L193.3 292.54 L193.8 292.78 L194.3 294.49 L194.8 292.70 L195.3 293.48 L195.8 293.82 L196.3 292.48 L196.8 292.62 L197.3 293.13 L197.8 292.34 L198.3 293.28 L198.8 293.84 L199.3 292.45 L199.8 291.61 L200.3 292.16 L200.8 291.90 L201.3 291.00 L201.8 290.99 L202.3 290.80 L202.8 290.69 L203.3 290.94 L203.8 290.45 L204.3 290.76 L204.8 291.47 L205.3 294.33 L205.8 293.90 L206.3 294.15 L206.8 296.13 L207.3 295.80 L207.8 296.57 L208.3 295.36 L208.8 294.96 L209.3 295.09 L209.8 295.89 L210.3 295.94 L210.8 296.00 L211.3 297.20 L211.8 296.90 L212.3 295.46 L212.8 296.22 L213.3 296.48 L213.8 295.78 L214.3 297.56 L214.8 297.03 L215.3 297.36 L215.8 296.24 L216.3 295.75 L216.8 296.86 L217.3 296.51 L217.8 296.28 L218.3 296.59 L218.8 296.85 L219.3 296.90 L219.8 296.74 L220.3 297.16 L220.8 298.73 L221.3 297.97 L221.8 296.89 L222.3 298.30 L222.8 297.05 L223.3 296.26 L223.8 296.29 L224.3 295.94 L224.8 297.84 L225.3 296.82 L225.8 296.51 L226.3 297.03 L226.8 297.38 L227.3 296.84 L227.8 297.20 L228.3 297.63 L228.8 298.13 L229.3 297.29 L229.8 298.13 L230.3 298.16 L230.8 298.44 L231.3 297.91 L231.8 297.52 L232.3 298.81 L232.8 298.83 L233.3 298.13 L233.8 297.95 L234.3 298.69 L234.8 299.27 L235.3 298.14 L235.8 299.87 L236.3 299.35 L236.8 299.60 L237.3 299.93 L237.8 300.50 L238.3 299.18 L238.8 300.10 L239.3 301.02 L239.8 299.56 L240.3 300.53 L240.8 301.08 L241.3 301.84 L241.8 301.94 L242.3 301.08 L242.8 302.28 L243.3 300.62 L243.8 300.26 L244.3 301.92 L244.8 301.84 L245.3 300.81 L245.8 302.07 L246.3 302.20 L246.8 302.21 L247.3 301.59 L247.8 301.07 L248.3 300.81 L248.8 301.69 L249.3 301.82 L249.8 301.40 L250.3 300.95 L250.8 302.10 L251.3 301.73 L251.8 302.31 L252.3 304.30 L252.8 303.23 L253.3 303.25 L253.8 304.45 L254.3 303.05 L254.8 305.06 L255.3 303.75 L255.8 303.91 L256.3 303.74 L256.8 303.99 L257.3 304.23 L257.8 305.35 L258.3 304.99 L258.8 305.88 L259.3 305.72 L259.8 304.55 L260.3 305.20 L260.8 304.99 L261.3 305.13 L261.8 305.56 L262.3 305.84 L262.8 305.98 L263.3 304.53 L263.8 305.56 L264.3 305.60 L264.8 307.06 L265.3 306.08 L265.8 306.13 L266.3 306.22 L266.8 306.77 L267.3 305.76 L267.8 306.29 L268.3 306.43 L268.8 306.58 L269.3 306.53 L269.8 306.41 L270.3 306.84 L270.8 306.12 L271.3 307.85 L271.8 307.19 L272.3 306.06 L272.8 306.89 L273.3 307.82 L273.8 307.33 L274.3 307.35 L274.8 306.12 L275.3 308.24 L275.8 307.80 L276.3 306.57 L276.8 307.37 L277.3 308.70 L277.8 308.31 L278.3 307.18 L278.8 307.63 L279.3 308.24 L279.8 309.50 L280.3 308.64 L280.8 308.86 L281.3 308.31 L281.8 308.50 L282.3 307.95 L282.8 307.72 L283.3 307.72 L283.8 308.23 L284.3 309.47 L284.8 308.93 L285.3 309.64 L285.8 309.53 L286.3 309.19 L286.8 308.79 L287.3 310.38 L287.8 310.05 L288.3 310.11 L288.8 310.92 L289.3 310.49 L289.8 309.69 L290.3 309.71 L290.8 309.86 L291.3 310.94 L291.8 309.18 L292.3 308.47 L292.8 309.21 L293.3 309.66 L293.8 309.41 L294.3 310.33 L294.8 310.31 L295.3 309.97 L295.8 310.03 L296.3 311.19 L296.8 311.46 L297.3 311.38 L297.8 310.14 L298.3 310.96 L298.8 309.69 L299.3 309.13 L299.8 311.22 L300.3 311.08 L300.8 310.97 L301.3 311.44 L301.8 311.70 L302.3 310.94 L302.8 310.86 L303.3 311.08 L303.8 311.29 L304.3 310.95 L304.8 310.01 L305.3 312.21 L305.8 310.61 L306.3 310.49 L306.8 311.22 L307.3 310.96 L307.8 311.29 L308.3 312.49 L308.8 312.09 L309.3 310.90 L309.8 311.20 L310.3 311.02 L310.8 311.80 L311.3 310.61 L311.8 310.40 L312.3 309.94 L312.8 311.19 L313.3 311.30 L313.8 311.51 L314.3 311.61 L314.8 310.36 L315.3 310.64 L315.8 310.19 L316.3 311.39 L316.8 311.11 L317.3 309.30 L317.8 310.02 L318.3 310.25 L318.8 310.72 L319.3 311.40 L319.8 310.87 L320.3 311.08 L320.8 310.98 L321.3 311.04 L321.8 310.89 L322.3 312.25 L322.8 312.17 L323.3 311.72 L323.8 310.86 L324.3 313.15 L324.8 312.19 L325.3 312.21 L325.8 312.53 L326.3 313.27 L326.8 312.22 L327.3 310.87 L327.8 311.95 L328.3 312.33 L328.8 312.10 L329.3 313.34 L329.8 312.41 L330.3 312.77 L330.8 312.17 L331.3 313.06 L331.8 312.35 L332.3 313.20 L332.8 312.94 L333.3 312.93 L333.8 313.04 L334.3 311.92 L334.8 312.45 L335.3 312.94 L335.8 312.66 L336.3 313.57 L336.8 313.52 L337.3 312.55 L337.8 313.56 L338.3 312.87 L338.8 313.24 L339.3 313.72 L339.8 312.40 L340.3 312.40 L340.8 312.88 L341.3 312.89 L341.8 312.08 L342.3 313.44 L342.8 313.41 L343.3 313.50 L343.8 313.66 L344.3 314.01 L344.8 313.22 L345.3 313.86 L345.8 313.58 L346.3 313.58 L346.8 313.41 L347.3 314.68 L347.8 312.69 L348.3 313.45 L348.8 314.44 L349.3 314.00 L349.8 313.76 L350.3 314.77 L350.8 313.76 L351.3 314.02 L351.8 314.50 L352.3 314.04 L352.8 314.00 L353.3 314.36 L353.8 314.99 L354.3 313.96 L354.8 314.70 L355.3 314.48 L355.8 314.29 L356.3 313.70 L356.8 315.47 L357.3 315.05 L357.8 314.82 L358.3 314.46 L358.8 315.58 L359.3 314.40 L359.8 314.02 L360.3 314.11 L360.8 314.58 L361.3 314.88" fill="none" stroke="#008080" stroke-width="2.3" stroke-linejoin="round"/>
<line x1="87.8" y1="304.45" x2="87.8" y2="301.65" stroke="#008080" stroke-width="1.6"/>
<line x1="182.2" y1="296.44" x2="182.2" y2="291.14" stroke="#008080" stroke-width="1.6"/>
<line x1="203.0" y1="291.49" x2="203.0" y2="264.69" stroke="#008080" stroke-width="1.6"/>
<line x1="204.2" y1="291.56" x2="204.2" y2="281.76" stroke="#008080" stroke-width="1.6"/>
<line x1="234.8" y1="300.07" x2="234.8" y2="294.27" stroke="#008080" stroke-width="1.6"/>
<line x1="250.0" y1="302.20" x2="250.0" y2="295.90" stroke="#008080" stroke-width="1.6"/>
<line x1="342.8" y1="314.21" x2="342.8" y2="282.91" stroke="#008080" stroke-width="1.6"/>
<path d="M41.8 350.84 L42.3 350.89 L42.8 352.13 L43.3 350.70 L43.8 351.95 L44.3 351.07 L44.8 353.15 L45.3 353.14 L45.8 354.04 L46.3 353.28 L46.8 353.93 L47.3 353.83 L47.8 353.75 L48.3 354.45 L48.8 353.87 L49.3 354.49 L49.8 355.38 L50.3 355.30 L50.8 355.17 L51.3 356.88 L51.8 356.03 L52.3 355.68 L52.8 356.25 L53.3 356.09 L53.8 356.32 L54.3 356.54 L54.8 358.17 L55.3 357.37 L55.8 357.51 L56.3 357.99 L56.8 359.03 L57.3 358.01 L57.8 357.78 L58.3 359.77 L58.8 357.87 L59.3 358.40 L59.8 359.26 L60.3 360.52 L60.8 358.92 L61.3 357.96 L61.8 359.82 L62.3 359.56 L62.8 359.76 L63.3 360.46 L63.8 360.59 L64.3 360.80 L64.8 360.55 L65.3 361.71 L65.8 362.17 L66.3 361.52 L66.8 361.30 L67.3 362.14 L67.8 362.28 L68.3 361.55 L68.8 361.95 L69.3 363.08 L69.8 362.71 L70.3 362.67 L70.8 363.13 L71.3 363.19 L71.8 363.35 L72.3 362.33 L72.8 364.50 L73.3 363.99 L73.8 363.35 L74.3 364.46 L74.8 364.31 L75.3 364.19 L75.8 364.87 L76.3 365.77 L76.8 364.95 L77.3 365.51 L77.8 366.00 L78.3 364.22 L78.8 364.30 L79.3 365.15 L79.8 363.83 L80.3 364.54 L80.8 365.61 L81.3 365.66 L81.8 365.42 L82.3 363.92 L82.8 366.28 L83.3 365.56 L83.8 365.56 L84.3 365.36 L84.8 363.95 L85.3 363.85 L85.8 363.89 L86.3 365.63 L86.8 363.79 L87.3 362.79 L87.8 361.57 L88.3 362.17 L88.8 363.41 L89.3 364.16 L89.8 363.46 L90.3 362.17 L90.8 363.90 L91.3 364.16 L91.8 364.73 L92.3 363.96 L92.8 363.51 L93.3 364.02 L93.8 362.89 L94.3 363.00 L94.8 363.01 L95.3 363.76 L95.8 364.93 L96.3 364.28 L96.8 364.38 L97.3 363.83 L97.8 363.74 L98.3 363.27 L98.8 363.27 L99.3 361.96 L99.8 362.47 L100.3 362.46 L100.8 363.70 L101.3 363.76 L101.8 364.03 L102.3 364.30 L102.8 363.19 L103.3 363.81 L103.8 364.41 L104.3 363.27 L104.8 363.70 L105.3 362.94 L105.8 361.89 L106.3 362.70 L106.8 362.17 L107.3 362.57 L107.8 362.19 L108.3 362.51 L108.8 360.98 L109.3 363.19 L109.8 362.98 L110.3 361.81 L110.8 361.19 L111.3 361.54 L111.8 361.89 L112.3 361.68 L112.8 361.54 L113.3 359.98 L113.8 360.14 L114.3 361.54 L114.8 360.97 L115.3 359.72 L115.8 359.81 L116.3 359.36 L116.8 359.43 L117.3 360.64 L117.8 359.87 L118.3 360.44 L118.8 359.85 L119.3 358.61 L119.8 358.83 L120.3 360.55 L120.8 358.87 L121.3 358.35 L121.8 359.58 L122.3 358.97 L122.8 358.73 L123.3 359.49 L123.8 357.54 L124.3 358.49 L124.8 357.63 L125.3 357.20 L125.8 357.40 L126.3 358.55 L126.8 357.84 L127.3 356.62 L127.8 356.80 L128.3 358.36 L128.8 358.22 L129.3 356.84 L129.8 358.73 L130.3 357.25 L130.8 356.48 L131.3 356.98 L131.8 357.68 L132.3 358.17 L132.8 357.86 L133.3 356.90 L133.8 356.66 L134.3 356.05 L134.8 356.80 L135.3 356.57 L135.8 357.04 L136.3 356.17 L136.8 356.49 L137.3 356.30 L137.8 356.06 L138.3 356.03 L138.8 356.11 L139.3 356.00 L139.8 357.04 L140.3 356.89 L140.8 355.97 L141.3 356.93 L141.8 356.90 L142.3 357.58 L142.8 356.62 L143.3 356.43 L143.8 356.06 L144.3 356.45 L144.8 356.69 L145.3 356.48 L145.8 356.13 L146.3 356.53 L146.8 356.24 L147.3 356.24 L147.8 355.46 L148.3 355.99 L148.8 355.27 L149.3 355.21 L149.8 355.76 L150.3 356.99 L150.8 356.44 L151.3 355.70 L151.8 355.43 L152.3 356.06 L152.8 356.36 L153.3 356.26 L153.8 355.34 L154.3 355.39 L154.8 355.04 L155.3 354.97 L155.8 354.57 L156.3 354.84 L156.8 353.68 L157.3 354.05 L157.8 355.06 L158.3 354.34 L158.8 355.10 L159.3 354.05 L159.8 354.42 L160.3 354.92 L160.8 354.08 L161.3 354.12 L161.8 356.05 L162.3 354.37 L162.8 354.08 L163.3 354.09 L163.8 354.44 L164.3 354.42 L164.8 355.02 L165.3 354.97 L165.8 354.21 L166.3 354.11 L166.8 353.43 L167.3 353.27 L167.8 353.70 L168.3 354.65 L168.8 354.41 L169.3 354.78 L169.8 354.92 L170.3 354.25 L170.8 355.52 L171.3 354.09 L171.8 353.80 L172.3 353.86 L172.8 354.81 L173.3 354.15 L173.8 353.67 L174.3 354.30 L174.8 354.80 L175.3 354.10 L175.8 353.89 L176.3 354.65 L176.8 354.69 L177.3 354.65 L177.8 353.58 L178.3 354.04 L178.8 354.14 L179.3 352.81 L179.8 354.42 L180.3 353.97 L180.8 353.61 L181.3 355.13 L181.8 354.04 L182.3 353.32 L182.8 353.59 L183.3 354.00 L183.8 354.19 L184.3 353.66 L184.8 353.06 L185.3 353.05 L185.8 352.95 L186.3 352.76 L186.8 353.34 L187.3 353.12 L187.8 353.39 L188.3 352.86 L188.8 352.73 L189.3 353.10 L189.8 353.03 L190.3 353.91 L190.8 352.75 L191.3 353.22 L191.8 353.11 L192.3 352.28 L192.8 353.36 L193.3 353.14 L193.8 351.68 L194.3 353.08 L194.8 353.45 L195.3 352.41 L195.8 353.73 L196.3 352.95 L196.8 351.98 L197.3 352.84 L197.8 352.36 L198.3 351.63 L198.8 350.94 L199.3 352.19 L199.8 351.65 L200.3 352.26 L200.8 352.02 L201.3 351.21 L201.8 350.79 L202.3 351.75 L202.8 351.40 L203.3 350.51 L203.8 349.99 L204.3 350.23 L204.8 351.34 L205.3 353.31 L205.8 353.27 L206.3 353.07 L206.8 352.67 L207.3 353.62 L207.8 353.26 L208.3 353.87 L208.8 354.52 L209.3 354.91 L209.8 354.49 L210.3 354.22 L210.8 354.61 L211.3 355.70 L211.8 355.07 L212.3 353.96 L212.8 355.67 L213.3 355.20 L213.8 357.16 L214.3 355.10 L214.8 355.09 L215.3 355.02 L215.8 355.48 L216.3 355.02 L216.8 354.46 L217.3 354.16 L217.8 355.27 L218.3 355.24 L218.8 355.23 L219.3 356.92 L219.8 356.41 L220.3 356.55 L220.8 355.64 L221.3 356.03 L221.8 355.82 L222.3 355.83 L222.8 356.45 L223.3 356.49 L223.8 356.35 L224.3 356.27 L224.8 355.32 L225.3 355.64 L225.8 356.41 L226.3 356.11 L226.8 355.85 L227.3 356.53 L227.8 355.89 L228.3 355.97 L228.8 356.96 L229.3 356.38 L229.8 357.43 L230.3 357.08 L230.8 357.27 L231.3 357.54 L231.8 355.60 L232.3 356.61 L232.8 356.03 L233.3 356.44 L233.8 356.67 L234.3 357.34 L234.8 356.27 L235.3 356.85 L235.8 356.16 L236.3 356.85 L236.8 357.29 L237.3 358.03 L237.8 357.67 L238.3 357.38 L238.8 357.61 L239.3 357.09 L239.8 358.73 L240.3 358.77 L240.8 358.71 L241.3 358.73 L241.8 358.34 L242.3 358.53 L242.8 359.44 L243.3 358.75 L243.8 358.80 L244.3 360.38 L244.8 360.75 L245.3 360.18 L245.8 360.38 L246.3 360.33 L246.8 361.20 L247.3 360.31 L247.8 360.60 L248.3 360.96 L248.8 361.63 L249.3 360.66 L249.8 360.57 L250.3 359.73 L250.8 359.80 L251.3 360.49 L251.8 361.40 L252.3 362.26 L252.8 361.60 L253.3 361.71 L253.8 361.98 L254.3 362.60 L254.8 363.02 L255.3 362.02 L255.8 362.92 L256.3 362.30 L256.8 363.31 L257.3 362.51 L257.8 362.38 L258.3 362.65 L258.8 363.14 L259.3 362.71 L259.8 363.43 L260.3 363.56 L260.8 363.60 L261.3 363.77 L261.8 364.22 L262.3 363.37 L262.8 363.74 L263.3 363.84 L263.8 362.69 L264.3 364.04 L264.8 363.60 L265.3 363.62 L265.8 363.85 L266.3 364.27 L266.8 364.53 L267.3 364.72 L267.8 364.10 L268.3 364.90 L268.8 364.91 L269.3 364.48 L269.8 364.70 L270.3 365.29 L270.8 365.22 L271.3 365.43 L271.8 365.17 L272.3 365.81 L272.8 366.63 L273.3 365.75 L273.8 364.44 L274.3 366.31 L274.8 365.27 L275.3 364.69 L275.8 364.07 L276.3 365.72 L276.8 366.42 L277.3 366.53 L277.8 365.78 L278.3 366.82 L278.8 366.11 L279.3 365.75 L279.8 366.15 L280.3 366.34 L280.8 366.32 L281.3 366.58 L281.8 365.11 L282.3 367.19 L282.8 366.26 L283.3 366.89 L283.8 366.16 L284.3 366.66 L284.8 366.57 L285.3 365.75 L285.8 366.85 L286.3 367.19 L286.8 366.23 L287.3 365.53 L287.8 366.33 L288.3 366.37 L288.8 366.98 L289.3 367.02 L289.8 368.04 L290.3 367.65 L290.8 367.08 L291.3 367.27 L291.8 365.51 L292.3 366.46 L292.8 366.63 L293.3 367.18 L293.8 367.55 L294.3 367.58 L294.8 368.05 L295.3 367.18 L295.8 367.68 L296.3 367.53 L296.8 367.63 L297.3 367.87 L297.8 367.58 L298.3 367.86 L298.8 367.79 L299.3 368.45 L299.8 367.90 L300.3 368.11 L300.8 369.54 L301.3 368.61 L301.8 368.44 L302.3 368.79 L302.8 367.62 L303.3 368.51 L303.8 368.70 L304.3 368.58 L304.8 368.91 L305.3 368.88 L305.8 369.15 L306.3 368.13 L306.8 368.65 L307.3 368.17 L307.8 369.20 L308.3 368.72 L308.8 367.81 L309.3 368.55 L309.8 368.03 L310.3 369.16 L310.8 368.57 L311.3 367.41 L311.8 368.34 L312.3 369.35 L312.8 369.11 L313.3 368.53 L313.8 369.24 L314.3 369.33 L314.8 369.91 L315.3 369.68 L315.8 369.35 L316.3 368.64 L316.8 369.20 L317.3 369.33 L317.8 369.20 L318.3 369.45 L318.8 368.55 L319.3 369.50 L319.8 369.33 L320.3 369.54 L320.8 369.33 L321.3 369.21 L321.8 369.56 L322.3 369.96 L322.8 369.39 L323.3 369.72 L323.8 369.15 L324.3 369.80 L324.8 369.70 L325.3 368.93 L325.8 370.31 L326.3 369.32 L326.8 369.78 L327.3 369.05 L327.8 368.72 L328.3 370.12 L328.8 369.13 L329.3 368.61 L329.8 369.66 L330.3 369.05 L330.8 369.78 L331.3 371.13 L331.8 370.02 L332.3 370.33 L332.8 370.51 L333.3 370.36 L333.8 370.13 L334.3 371.07 L334.8 370.27 L335.3 370.41 L335.8 370.28 L336.3 369.44 L336.8 370.27 L337.3 370.24 L337.8 370.60 L338.3 370.69 L338.8 371.24 L339.3 369.28 L339.8 369.81 L340.3 369.98 L340.8 369.81 L341.3 370.62 L341.8 370.55 L342.3 370.79 L342.8 369.91 L343.3 370.33 L343.8 371.07 L344.3 371.11 L344.8 371.17 L345.3 371.61 L345.8 371.71 L346.3 371.38 L346.8 373.05 L347.3 371.95 L347.8 372.61 L348.3 372.70 L348.8 372.96 L349.3 372.11 L349.8 371.76 L350.3 372.58 L350.8 372.62 L351.3 371.09 L351.8 370.72 L352.3 371.91 L352.8 372.20 L353.3 372.33 L353.8 372.76 L354.3 372.02 L354.8 374.06 L355.3 373.35 L355.8 373.48 L356.3 372.90 L356.8 371.43 L357.3 372.59 L357.8 372.31 L358.3 372.86 L358.8 372.62 L359.3 373.05 L359.8 372.21 L360.3 372.39 L360.8 372.65 L361.3 372.24" fill="none" stroke="#000088" stroke-width="2.3" stroke-linejoin="round"/>
<line x1="87.8" y1="362.37" x2="87.8" y2="359.77" stroke="#000088" stroke-width="1.6"/>
<line x1="182.2" y1="354.12" x2="182.2" y2="345.32" stroke="#000088" stroke-width="1.6"/>
<line x1="203.0" y1="352.20" x2="203.0" y2="326.70" stroke="#000088" stroke-width="1.6"/>
<line x1="204.2" y1="351.03" x2="204.2" y2="339.23" stroke="#000088" stroke-width="1.6"/>
<line x1="234.8" y1="357.07" x2="234.8" y2="352.27" stroke="#000088" stroke-width="1.6"/>
<line x1="250.0" y1="361.37" x2="250.0" y2="353.07" stroke="#000088" stroke-width="1.6"/>
<line x1="342.8" y1="370.71" x2="342.8" y2="339.91" stroke="#000088" stroke-width="1.6"/>
<path d="M41.8 415.16 L42.3 414.01 L42.8 414.64 L43.3 415.46 L43.8 416.66 L44.3 416.22 L44.8 415.42 L45.3 416.76 L45.8 416.34 L46.3 418.01 L46.8 417.64 L47.3 419.06 L47.8 418.37 L48.3 417.94 L48.8 417.77 L49.3 418.57 L49.8 419.34 L50.3 420.06 L50.8 419.77 L51.3 419.28 L51.8 420.11 L52.3 419.22 L52.8 420.40 L53.3 419.97 L53.8 421.41 L54.3 421.47 L54.8 421.25 L55.3 420.54 L55.8 421.53 L56.3 421.72 L56.8 421.37 L57.3 421.44 L57.8 422.76 L58.3 422.12 L58.8 422.70 L59.3 423.53 L59.8 422.10 L60.3 424.02 L60.8 424.01 L61.3 423.18 L61.8 423.04 L62.3 423.02 L62.8 424.48 L63.3 422.76 L63.8 424.76 L64.3 424.79 L64.8 424.50 L65.3 424.76 L65.8 425.09 L66.3 425.43 L66.8 426.35 L67.3 425.65 L67.8 426.90 L68.3 427.20 L68.8 426.69 L69.3 427.30 L69.8 426.86 L70.3 427.32 L70.8 427.83 L71.3 428.93 L71.8 428.04 L72.3 427.99 L72.8 428.23 L73.3 428.26 L73.8 427.84 L74.3 429.66 L74.8 428.53 L75.3 428.49 L75.8 428.52 L76.3 429.46 L76.8 431.05 L77.3 431.40 L77.8 430.29 L78.3 429.78 L78.8 429.52 L79.3 428.90 L79.8 429.86 L80.3 429.48 L80.8 430.70 L81.3 429.42 L81.8 428.73 L82.3 428.07 L82.8 427.94 L83.3 429.29 L83.8 429.27 L84.3 428.30 L84.8 427.87 L85.3 428.83 L85.8 428.51 L86.3 428.65 L86.8 427.98 L87.3 426.13 L87.8 424.01 L88.3 425.15 L88.8 426.69 L89.3 427.80 L89.8 428.56 L90.3 428.59 L90.8 427.66 L91.3 428.11 L91.8 426.45 L92.3 427.87 L92.8 427.59 L93.3 428.12 L93.8 428.11 L94.3 426.87 L94.8 427.13 L95.3 427.89 L95.8 426.97 L96.3 427.17 L96.8 426.75 L97.3 427.37 L97.8 427.25 L98.3 426.52 L98.8 426.01 L99.3 425.41 L99.8 427.14 L100.3 426.58 L100.8 426.30 L101.3 426.32 L101.8 426.05 L102.3 426.94 L102.8 426.99 L103.3 425.22 L103.8 426.26 L104.3 426.45 L104.8 426.18 L105.3 426.35 L105.8 427.27 L106.3 426.52 L106.8 426.87 L107.3 426.76 L107.8 425.14 L108.3 426.83 L108.8 426.07 L109.3 425.58 L109.8 426.11 L110.3 426.95 L110.8 425.15 L111.3 424.84 L111.8 425.31 L112.3 423.95 L112.8 423.98 L113.3 424.52 L113.8 424.84 L114.3 424.57 L114.8 424.51 L115.3 424.44 L115.8 423.30 L116.3 422.99 L116.8 422.77 L117.3 422.55 L117.8 423.22 L118.3 423.00 L118.8 421.00 L119.3 422.08 L119.8 421.14 L120.3 420.81 L120.8 422.08 L121.3 422.15 L121.8 421.93 L122.3 421.46 L122.8 421.95 L123.3 420.12 L123.8 420.97 L124.3 420.10 L124.8 419.93 L125.3 419.20 L125.8 420.96 L126.3 421.31 L126.8 420.74 L127.3 419.70 L127.8 419.94 L128.3 419.15 L128.8 419.45 L129.3 420.52 L129.8 420.66 L130.3 420.05 L130.8 419.99 L131.3 419.38 L131.8 419.54 L132.3 419.19 L132.8 419.49 L133.3 418.80 L133.8 419.65 L134.3 418.97 L134.8 419.09 L135.3 418.85 L135.8 419.79 L136.3 419.50 L136.8 418.36 L137.3 418.05 L137.8 418.89 L138.3 418.68 L138.8 418.39 L139.3 418.58 L139.8 419.44 L140.3 418.46 L140.8 419.20 L141.3 418.09 L141.8 418.04 L142.3 418.32 L142.8 418.08 L143.3 417.74 L143.8 417.30 L144.3 417.63 L144.8 417.60 L145.3 417.79 L145.8 418.42 L146.3 418.15 L146.8 418.46 L147.3 417.89 L147.8 417.91 L148.3 417.98 L148.8 418.01 L149.3 418.16 L149.8 417.18 L150.3 417.60 L150.8 417.48 L151.3 418.05 L151.8 417.86 L152.3 416.94 L152.8 417.37 L153.3 417.57 L153.8 417.17 L154.3 417.81 L154.8 417.26 L155.3 416.21 L155.8 416.98 L156.3 417.35 L156.8 416.41 L157.3 417.15 L157.8 415.12 L158.3 417.70 L158.8 415.96 L159.3 416.23 L159.8 416.33 L160.3 415.65 L160.8 416.56 L161.3 415.93 L161.8 415.54 L162.3 414.86 L162.8 416.55 L163.3 417.07 L163.8 416.23 L164.3 416.36 L164.8 417.19 L165.3 416.54 L165.8 416.87 L166.3 416.80 L166.8 416.60 L167.3 416.41 L167.8 416.74 L168.3 416.18 L168.8 416.00 L169.3 415.43 L169.8 414.48 L170.3 415.01 L170.8 415.41 L171.3 416.27 L171.8 415.51 L172.3 414.37 L172.8 415.77 L173.3 416.28 L173.8 415.75 L174.3 415.62 L174.8 415.54 L175.3 415.27 L175.8 416.08 L176.3 414.80 L176.8 414.61 L177.3 414.10 L177.8 414.56 L178.3 414.47 L178.8 414.44 L179.3 414.91 L179.8 415.46 L180.3 414.04 L180.8 414.69 L181.3 414.26 L181.8 414.18 L182.3 414.27 L182.8 414.76 L183.3 413.60 L183.8 415.30 L184.3 414.56 L184.8 414.04 L185.3 413.41 L185.8 414.91 L186.3 414.90 L186.8 414.98 L187.3 414.53 L187.8 415.41 L188.3 415.41 L188.8 415.74 L189.3 414.67 L189.8 414.85 L190.3 414.04 L190.8 414.18 L191.3 413.91 L191.8 414.05 L192.3 414.05 L192.8 413.99 L193.3 413.92 L193.8 413.97 L194.3 413.59 L194.8 413.32 L195.3 413.38 L195.8 414.03 L196.3 414.12 L196.8 414.31 L197.3 415.11 L197.8 413.08 L198.3 413.86 L198.8 412.58 L199.3 412.74 L199.8 412.51 L200.3 412.87 L200.8 413.52 L201.3 413.52 L201.8 412.47 L202.3 412.25 L202.8 411.35 L203.3 409.85 L203.8 411.56 L204.3 411.02 L204.8 411.58 L205.3 412.39 L205.8 412.29 L206.3 412.70 L206.8 413.78 L207.3 413.04 L207.8 413.23 L208.3 412.71 L208.8 412.63 L209.3 414.05 L209.8 414.41 L210.3 414.06 L210.8 415.34 L211.3 413.96 L211.8 414.74 L212.3 414.16 L212.8 414.56 L213.3 415.01 L213.8 414.00 L214.3 415.57 L214.8 414.97 L215.3 415.03 L215.8 414.96 L216.3 415.33 L216.8 414.48 L217.3 414.43 L217.8 415.44 L218.3 415.30 L218.8 415.22 L219.3 415.71 L219.8 416.59 L220.3 415.20 L220.8 414.19 L221.3 415.39 L221.8 414.78 L222.3 415.65 L222.8 415.41 L223.3 416.04 L223.8 417.31 L224.3 416.37 L224.8 415.32 L225.3 415.57 L225.8 415.69 L226.3 415.56 L226.8 416.77 L227.3 416.86 L227.8 417.44 L228.3 417.49 L228.8 416.98 L229.3 416.72 L229.8 416.82 L230.3 417.24 L230.8 417.06 L231.3 416.58 L231.8 418.99 L232.3 418.88 L232.8 417.93 L233.3 417.74 L233.8 417.80 L234.3 418.21 L234.8 417.49 L235.3 416.05 L235.8 417.96 L236.3 419.00 L236.8 418.33 L237.3 418.42 L237.8 419.45 L238.3 419.16 L238.8 420.58 L239.3 420.83 L239.8 419.43 L240.3 420.70 L240.8 419.86 L241.3 420.32 L241.8 421.77 L242.3 421.14 L242.8 421.73 L243.3 421.27 L243.8 422.82 L244.3 421.94 L244.8 423.79 L245.3 422.66 L245.8 422.05 L246.3 422.33 L246.8 422.28 L247.3 423.48 L247.8 422.18 L248.3 423.26 L248.8 423.83 L249.3 423.64 L249.8 421.92 L250.3 422.91 L250.8 423.10 L251.3 424.00 L251.8 423.22 L252.3 424.08 L252.8 425.03 L253.3 424.70 L253.8 424.87 L254.3 424.65 L254.8 424.91 L255.3 425.21 L255.8 426.90 L256.3 425.59 L256.8 425.23 L257.3 424.93 L257.8 425.86 L258.3 425.93 L258.8 425.58 L259.3 424.88 L259.8 427.06 L260.3 426.18 L260.8 425.78 L261.3 426.39 L261.8 425.84 L262.3 426.21 L262.8 425.28 L263.3 426.06 L263.8 424.97 L264.3 426.98 L264.8 426.82 L265.3 426.72 L265.8 426.93 L266.3 426.16 L266.8 426.95 L267.3 427.13 L267.8 427.76 L268.3 426.93 L268.8 426.99 L269.3 427.33 L269.8 427.61 L270.3 427.64 L270.8 427.80 L271.3 428.25 L271.8 427.99 L272.3 428.06 L272.8 427.82 L273.3 427.05 L273.8 428.22 L274.3 427.85 L274.8 428.02 L275.3 427.41 L275.8 429.20 L276.3 429.14 L276.8 428.29 L277.3 428.75 L277.8 429.12 L278.3 429.92 L278.8 428.95 L279.3 429.33 L279.8 428.31 L280.3 428.58 L280.8 428.70 L281.3 428.69 L281.8 428.23 L282.3 429.27 L282.8 428.54 L283.3 428.52 L283.8 429.02 L284.3 430.09 L284.8 430.13 L285.3 429.39 L285.8 428.74 L286.3 428.49 L286.8 429.40 L287.3 430.06 L287.8 430.23 L288.3 429.71 L288.8 429.25 L289.3 430.00 L289.8 430.65 L290.3 430.01 L290.8 430.28 L291.3 429.86 L291.8 429.91 L292.3 430.96 L292.8 429.94 L293.3 431.00 L293.8 430.15 L294.3 430.30 L294.8 430.87 L295.3 430.92 L295.8 430.18 L296.3 430.40 L296.8 430.55 L297.3 430.64 L297.8 430.61 L298.3 431.21 L298.8 430.21 L299.3 431.23 L299.8 431.48 L300.3 430.22 L300.8 430.80 L301.3 430.46 L301.8 429.97 L302.3 430.92 L302.8 431.43 L303.3 430.91 L303.8 431.34 L304.3 431.26 L304.8 430.06 L305.3 431.01 L305.8 431.90 L306.3 432.34 L306.8 430.81 L307.3 430.45 L307.8 431.59 L308.3 431.39 L308.8 431.65 L309.3 431.32 L309.8 432.06 L310.3 432.16 L310.8 431.57 L311.3 431.76 L311.8 431.74 L312.3 432.20 L312.8 432.11 L313.3 432.15 L313.8 432.40 L314.3 432.12 L314.8 431.75 L315.3 432.57 L315.8 431.89 L316.3 431.32 L316.8 431.52 L317.3 432.15 L317.8 431.93 L318.3 431.97 L318.8 432.40 L319.3 432.62 L319.8 432.27 L320.3 432.12 L320.8 432.52 L321.3 433.07 L321.8 431.84 L322.3 432.16 L322.8 431.91 L323.3 432.14 L323.8 433.13 L324.3 434.09 L324.8 432.98 L325.3 432.29 L325.8 432.21 L326.3 433.34 L326.8 433.70 L327.3 433.75 L327.8 433.68 L328.3 432.91 L328.8 432.69 L329.3 433.16 L329.8 433.75 L330.3 433.06 L330.8 432.69 L331.3 434.00 L331.8 432.59 L332.3 434.25 L332.8 432.91 L333.3 433.83 L333.8 433.30 L334.3 434.26 L334.8 433.39 L335.3 433.60 L335.8 433.86 L336.3 433.42 L336.8 432.79 L337.3 433.09 L337.8 433.04 L338.3 433.68 L338.8 431.43 L339.3 434.04 L339.8 435.02 L340.3 434.04 L340.8 433.29 L341.3 433.33 L341.8 433.26 L342.3 433.21 L342.8 434.70 L343.3 432.75 L343.8 433.41 L344.3 434.07 L344.8 433.44 L345.3 435.27 L345.8 434.39 L346.3 434.59 L346.8 434.41 L347.3 434.53 L347.8 434.24 L348.3 435.44 L348.8 434.38 L349.3 434.34 L349.8 435.26 L350.3 434.32 L350.8 436.02 L351.3 435.04 L351.8 435.05 L352.3 436.23 L352.8 434.48 L353.3 436.30 L353.8 435.05 L354.3 434.94 L354.8 435.92 L355.3 436.62 L355.8 435.67 L356.3 435.71 L356.8 435.70 L357.3 435.65 L357.8 435.88 L358.3 435.85 L358.8 435.37 L359.3 435.19 L359.8 434.41 L360.3 435.86 L360.8 435.55 L361.3 436.00" fill="none" stroke="#880088" stroke-width="2.3" stroke-linejoin="round"/>
<line x1="87.8" y1="424.81" x2="87.8" y2="422.21" stroke="#880088" stroke-width="1.6"/>
<line x1="182.2" y1="415.07" x2="182.2" y2="407.77" stroke="#880088" stroke-width="1.6"/>
<line x1="203.0" y1="412.15" x2="203.0" y2="381.85" stroke="#880088" stroke-width="1.6"/>
<line x1="204.2" y1="411.82" x2="204.2" y2="397.02" stroke="#880088" stroke-width="1.6"/>
<line x1="234.8" y1="418.29" x2="234.8" y2="413.99" stroke="#880088" stroke-width="1.6"/>
<line x1="250.0" y1="422.72" x2="250.0" y2="416.42" stroke="#880088" stroke-width="1.6"/>
<line x1="342.8" y1="435.50" x2="342.8" y2="403.70" stroke="#880088" stroke-width="1.6"/>
<g stroke="#000" stroke-width="1.5" fill="none">
<rect x="41.5" y="9.6" width="320.5" height="488.8"/>
<line x1="41.5" y1="253.8" x2="362" y2="253.8"/>
<line x1="41.5" y1="253.8" x2="41.5" y2="257.8"/>
<line x1="81.6" y1="253.8" x2="81.6" y2="255.8"/>
<line x1="121.6" y1="253.8" x2="121.6" y2="257.8"/>
<line x1="161.7" y1="253.8" x2="161.7" y2="255.8"/>
<line x1="201.8" y1="253.8" x2="201.8" y2="257.8"/>
<line x1="241.8" y1="253.8" x2="241.8" y2="255.8"/>
<line x1="281.9" y1="253.8" x2="281.9" y2="257.8"/>
<line x1="321.9" y1="253.8" x2="321.9" y2="255.8"/>
<line x1="362.0" y1="253.8" x2="362.0" y2="257.8"/>
<line x1="41.5" y1="498.4" x2="41.5" y2="502.4"/>
<line x1="81.6" y1="498.4" x2="81.6" y2="500.4"/>
<line x1="121.6" y1="498.4" x2="121.6" y2="502.4"/>
<line x1="161.7" y1="498.4" x2="161.7" y2="500.4"/>
<line x1="201.8" y1="498.4" x2="201.8" y2="502.4"/>
<line x1="241.8" y1="498.4" x2="241.8" y2="500.4"/>
<line x1="281.9" y1="498.4" x2="281.9" y2="502.4"/>
<line x1="321.9" y1="498.4" x2="321.9" y2="500.4"/>
<line x1="362.0" y1="498.4" x2="362.0" y2="502.4"/>
</g>
<text x="47.5" y="32.5" font-size="29.50" fill="#000" text-anchor="start" >a</text>
<text x="41.8" y="512.8" font-size="13.00" fill="#111" text-anchor="middle" >10</text>
<text x="121.9" y="512.8" font-size="13.00" fill="#111" text-anchor="middle" >20</text>
<text x="202.1" y="512.8" font-size="13.00" fill="#111" text-anchor="middle" >30</text>
<text x="282.2" y="512.8" font-size="13.00" fill="#111" text-anchor="middle" >40</text>
<text x="362.3" y="512.8" font-size="13.00" fill="#111" text-anchor="middle" >50</text>
<text x="202" y="529.3" font-size="18" fill="#111" text-anchor="middle" textLength="49" lengthAdjust="spacing">2θ (°)</text>
<text transform="translate(25.0,130.5) rotate(-90)" font-size="19.3" fill="#111" text-anchor="middle">Intensity (a.u.)</text>
<text transform="translate(25.0,376) rotate(-90)" font-size="19.3" fill="#111" text-anchor="middle">Intensity (a.u.)</text>
<text x="43.5" y="52.8" font-size="12.4" fill="#1a1a1a">P-Cr<tspan font-size="8.6" dy="3.9">2</tspan><tspan dy="-3.9">S</tspan><tspan font-size="8.6" dy="3.9">3</tspan><tspan dy="-3.9"> 123 K</tspan></text>
<text x="43.5" y="107.5" font-size="12.4" fill="#1a1a1a">P-Cr<tspan font-size="8.6" dy="3.9">2</tspan><tspan dy="-3.9">S</tspan><tspan font-size="8.6" dy="3.9">3</tspan><tspan dy="-3.9"> 200 K</tspan></text>
<text x="43.5" y="172.1" font-size="12.4" fill="#1a1a1a">P-Cr<tspan font-size="8.6" dy="3.9">2</tspan><tspan dy="-3.9">S</tspan><tspan font-size="8.6" dy="3.9">3</tspan><tspan dy="-3.9"> 300 K</tspan></text>
<text x="42.8" y="289.3" font-size="12.4" fill="#1a1a1a">N-Cr<tspan font-size="8.6" dy="3.9">2</tspan><tspan dy="-3.9">S</tspan><tspan font-size="8.6" dy="3.9">3</tspan><tspan dy="-3.9"> 123 K</tspan></text>
<text x="42.8" y="345.7" font-size="12.4" fill="#1a1a1a">N-Cr<tspan font-size="8.6" dy="3.9">2</tspan><tspan dy="-3.9">S</tspan><tspan font-size="8.6" dy="3.9">3</tspan><tspan dy="-3.9"> 200 K</tspan></text>
<text x="42.8" y="411.1" font-size="12.4" fill="#1a1a1a">N-Cr<tspan font-size="8.6" dy="3.9">2</tspan><tspan dy="-3.9">S</tspan><tspan font-size="8.6" dy="3.9">3</tspan><tspan dy="-3.9"> 300 K</tspan></text>
<text x="219.0" y="37.8" font-size="12.00" fill="#222" text-anchor="start" >Si (222)</text>
<line x1="217.6" y1="35.6" x2="209" y2="38.9" stroke="#111" stroke-width="1.4"/>
<polygon points="204.6,41.1 212.3,34.9 214.2,40.3" fill="#111"/>
<text x="96.5" y="237.5" font-size="12.40" fill="#ff1010" text-anchor="start" >PDF#10-0340</text>
<text x="102.2" y="479.7" font-size="12.40" fill="#ff10ff" text-anchor="start" >PDF#11-0007</text>
<text transform="translate(93.80,223.05) rotate(-90) scale(0.90,1)" font-size="12.60" fill="#383838" text-anchor="middle" style="font-family:'Liberation Sans',sans-serif">003</text>
<text transform="translate(93.16,250.02) rotate(-90) scale(1.70,1)" font-size="10" fill="#2a2a2a" style="font-family:'Liberation Sans','Noto Sans CJK SC',sans-serif">（</text>
<text transform="translate(93.16,212.74) rotate(-90) scale(1.70,1)" font-size="10" fill="#2a2a2a" style="font-family:'Liberation Sans','Noto Sans CJK SC',sans-serif">）</text>
<text transform="translate(185.80,228.85) rotate(-90) scale(0.90,1)" font-size="12.60" fill="#383838" text-anchor="middle" style="font-family:'Liberation Sans',sans-serif">104</text>
<text transform="translate(185.16,255.82) rotate(-90) scale(1.70,1)" font-size="10" fill="#2a2a2a" style="font-family:'Liberation Sans','Noto Sans CJK SC',sans-serif">（</text>
<text transform="translate(185.16,218.54) rotate(-90) scale(1.70,1)" font-size="10" fill="#2a2a2a" style="font-family:'Liberation Sans','Noto Sans CJK SC',sans-serif">）</text>
<text transform="translate(206.50,224.70) rotate(-90) scale(0.90,1)" font-size="12.60" fill="#383838" text-anchor="middle" style="font-family:'Liberation Sans',sans-serif">110</text>
<text transform="translate(205.86,251.67) rotate(-90) scale(1.70,1)" font-size="10" fill="#2a2a2a" style="font-family:'Liberation Sans','Noto Sans CJK SC',sans-serif">（</text>
<text transform="translate(205.86,214.39) rotate(-90) scale(1.70,1)" font-size="10" fill="#2a2a2a" style="font-family:'Liberation Sans','Noto Sans CJK SC',sans-serif">）</text>
<text transform="translate(349.20,229.80) rotate(-90) scale(0.90,1)" font-size="12.60" fill="#383838" text-anchor="middle" style="font-family:'Liberation Sans',sans-serif">122</text>
<text transform="translate(348.56,256.77) rotate(-90) scale(1.70,1)" font-size="10" fill="#2a2a2a" style="font-family:'Liberation Sans','Noto Sans CJK SC',sans-serif">（</text>
<text transform="translate(348.56,219.49) rotate(-90) scale(1.70,1)" font-size="10" fill="#2a2a2a" style="font-family:'Liberation Sans','Noto Sans CJK SC',sans-serif">）</text>
<text transform="translate(93.00,470.30) rotate(-90) scale(0.90,1)" font-size="12.60" fill="#383838" text-anchor="middle" style="font-family:'Liberation Sans',sans-serif">002</text>
<text transform="translate(92.36,497.27) rotate(-90) scale(1.70,1)" font-size="10" fill="#2a2a2a" style="font-family:'Liberation Sans','Noto Sans CJK SC',sans-serif">（</text>
<text transform="translate(92.36,459.99) rotate(-90) scale(1.70,1)" font-size="10" fill="#2a2a2a" style="font-family:'Liberation Sans','Noto Sans CJK SC',sans-serif">）</text>
<text transform="translate(205.80,472.30) rotate(-90) scale(0.90,1)" font-size="12.60" fill="#383838" text-anchor="middle" style="font-family:'Liberation Sans',sans-serif">110</text>
<text transform="translate(205.16,499.27) rotate(-90) scale(1.70,1)" font-size="10" fill="#2a2a2a" style="font-family:'Liberation Sans','Noto Sans CJK SC',sans-serif">（</text>
<text transform="translate(205.16,461.99) rotate(-90) scale(1.70,1)" font-size="10" fill="#2a2a2a" style="font-family:'Liberation Sans','Noto Sans CJK SC',sans-serif">）</text>
<text transform="translate(233.40,449.30) rotate(-90) scale(0.90,1)" font-size="12.60" fill="#383838" text-anchor="middle" style="font-family:'Liberation Sans',sans-serif">112</text>
<text transform="translate(232.76,476.27) rotate(-90) scale(1.70,1)" font-size="10" fill="#2a2a2a" style="font-family:'Liberation Sans','Noto Sans CJK SC',sans-serif">（</text>
<text transform="translate(232.76,438.99) rotate(-90) scale(1.70,1)" font-size="10" fill="#2a2a2a" style="font-family:'Liberation Sans','Noto Sans CJK SC',sans-serif">）</text>
<text transform="translate(253.50,474.40) rotate(-90) scale(0.90,1)" font-size="12.60" fill="#383838" text-anchor="middle" style="font-family:'Liberation Sans',sans-serif">201</text>
<text transform="translate(252.86,501.37) rotate(-90) scale(1.70,1)" font-size="10" fill="#2a2a2a" style="font-family:'Liberation Sans','Noto Sans CJK SC',sans-serif">（</text>
<text transform="translate(252.86,464.09) rotate(-90) scale(1.70,1)" font-size="10" fill="#2a2a2a" style="font-family:'Liberation Sans','Noto Sans CJK SC',sans-serif">）</text>
<text transform="translate(316.00,462.40) rotate(-90) scale(0.90,1)" font-size="12.60" fill="#383838" text-anchor="middle" style="font-family:'Liberation Sans',sans-serif">105</text>
<text transform="translate(315.36,489.37) rotate(-90) scale(1.70,1)" font-size="10" fill="#2a2a2a" style="font-family:'Liberation Sans','Noto Sans CJK SC',sans-serif">（</text>
<text transform="translate(315.36,452.09) rotate(-90) scale(1.70,1)" font-size="10" fill="#2a2a2a" style="font-family:'Liberation Sans','Noto Sans CJK SC',sans-serif">）</text>
<text transform="translate(345.80,475.40) rotate(-90) scale(0.90,1)" font-size="12.60" fill="#383838" text-anchor="middle" style="font-family:'Liberation Sans',sans-serif">211</text>
<text transform="translate(345.16,502.37) rotate(-90) scale(1.70,1)" font-size="10" fill="#2a2a2a" style="font-family:'Liberation Sans','Noto Sans CJK SC',sans-serif">（</text>
<text transform="translate(345.16,465.09) rotate(-90) scale(1.70,1)" font-size="10" fill="#2a2a2a" style="font-family:'Liberation Sans','Noto Sans CJK SC',sans-serif">）</text>
<polygon points="181.60,277.86 183.08,281.07 186.93,281.34 184.00,283.60 184.89,286.98 181.60,285.17 178.31,286.98 179.20,283.60 176.27,281.34 180.12,281.07" fill="#ff1010"/>
<polygon points="181.60,335.96 183.08,339.17 186.93,339.44 184.00,341.70 184.89,345.08 181.60,343.27 178.31,345.08 179.20,341.70 176.27,339.44 180.12,339.17" fill="#ff1010"/>
<polygon points="180.40,394.26 181.88,397.47 185.73,397.74 182.80,400.00 183.69,403.38 180.40,401.57 177.11,403.38 178.00,400.00 175.07,397.74 178.92,397.47" fill="#ff1010"/>
<defs><radialGradient id="gS" cx="0.42" cy="0.4" r="0.62"><stop offset="0" stop-color="#ffff58"/><stop offset="0.55" stop-color="#eded00"/><stop offset="1" stop-color="#a89c00"/></radialGradient><radialGradient id="gCr" cx="0.45" cy="0.42" r="0.62"><stop offset="0" stop-color="#4040e0"/><stop offset="0.5" stop-color="#1414a8"/><stop offset="1" stop-color="#06066e"/></radialGradient></defs>
<g transform="translate(0.00,0.00)">
<line x1="431.1" y1="27.3" x2="428.5" y2="124.7" stroke="#c4c4c4" stroke-width="1"/>
<line x1="461.3" y1="41.0" x2="458.7" y2="138.4" stroke="#c4c4c4" stroke-width="1"/>
<line x1="486.0" y1="27.5" x2="483.4" y2="124.9" stroke="#c4c4c4" stroke-width="1"/>
<line x1="516.0" y1="41.5" x2="513.4" y2="138.9" stroke="#c4c4c4" stroke-width="1"/>
<polygon points="431.1,27.3 461.3,41.0 516.0,41.5 486.0,27.5" fill="none" stroke="#c8c8c8" stroke-width="0.9"/>
<polygon points="428.5,124.7 458.7,138.4 513.4,138.9 483.4,124.9" fill="none" stroke="#c8c8c8" stroke-width="0.9"/>
<line x1="422.2" y1="21.2" x2="413.3" y2="15.2" stroke="#e0e000" stroke-width="2.2"/>
<line x1="435.4" y1="18.8" x2="439.6" y2="10.3" stroke="#e0e000" stroke-width="2.2"/>
<line x1="450.4" y1="25.3" x2="441.3" y2="19.6" stroke="#e0e000" stroke-width="2.2"/>
<line x1="452.2" y1="34.8" x2="443.2" y2="28.5" stroke="#e0e000" stroke-width="2.2"/>
<line x1="437.1" y1="27.9" x2="443.2" y2="28.5" stroke="#e0e000" stroke-width="2.2"/>
<line x1="426.0" y1="31.2" x2="420.9" y2="35.2" stroke="#e0e000" stroke-width="2.2"/>
<line x1="427.0" y1="35.5" x2="422.8" y2="43.8" stroke="#e0e000" stroke-width="2.2"/>
<line x1="440.2" y1="33.4" x2="449.3" y2="39.4" stroke="#e0e000" stroke-width="2.2"/>
<line x1="455.3" y1="40.2" x2="449.3" y2="39.4" stroke="#e0e000" stroke-width="2.2"/>
<line x1="456.1" y1="45.0" x2="450.8" y2="48.9" stroke="#e0e000" stroke-width="2.2"/>
<line x1="456.9" y1="49.3" x2="452.5" y2="57.6" stroke="#e0e000" stroke-width="2.2"/>
<line x1="476.8" y1="21.3" x2="467.6" y2="15.1" stroke="#e0e000" stroke-width="2.2"/>
<line x1="463.6" y1="23.1" x2="467.6" y2="15.1" stroke="#e0e000" stroke-width="2.2"/>
<line x1="464.4" y1="27.6" x2="469.4" y2="24.2" stroke="#e0e000" stroke-width="2.2"/>
<line x1="477.7" y1="25.9" x2="469.4" y2="24.2" stroke="#e0e000" stroke-width="2.2"/>
<line x1="479.6" y1="35.0" x2="471.2" y2="33.6" stroke="#e0e000" stroke-width="2.2"/>
<line x1="465.4" y1="32.3" x2="471.2" y2="33.6" stroke="#e0e000" stroke-width="2.2"/>
<line x1="490.3" y1="18.9" x2="494.6" y2="10.4" stroke="#e0e000" stroke-width="2.2"/>
<line x1="491.1" y1="23.6" x2="496.2" y2="19.6" stroke="#e0e000" stroke-width="2.2"/>
<line x1="507.0" y1="35.2" x2="498.0" y2="29.0" stroke="#e0e000" stroke-width="2.2"/>
<line x1="492.0" y1="28.2" x2="498.0" y2="29.0" stroke="#e0e000" stroke-width="2.2"/>
<line x1="482.2" y1="35.8" x2="476.4" y2="35.0" stroke="#e0e000" stroke-width="2.2"/>
<line x1="468.9" y1="38.0" x2="476.4" y2="35.0" stroke="#e0e000" stroke-width="2.2"/>
<line x1="482.8" y1="40.5" x2="477.6" y2="44.4" stroke="#e0e000" stroke-width="2.2"/>
<line x1="469.5" y1="42.7" x2="477.6" y2="44.4" stroke="#e0e000" stroke-width="2.2"/>
<line x1="483.5" y1="45.0" x2="479.0" y2="53.5" stroke="#e0e000" stroke-width="2.2"/>
<line x1="509.8" y1="40.7" x2="503.6" y2="39.9" stroke="#e0e000" stroke-width="2.2"/>
<line x1="495.8" y1="38.2" x2="503.6" y2="39.9" stroke="#e0e000" stroke-width="2.2"/>
<line x1="510.6" y1="45.2" x2="505.2" y2="49.0" stroke="#e0e000" stroke-width="2.2"/>
<line x1="496.6" y1="42.8" x2="505.2" y2="49.0" stroke="#e0e000" stroke-width="2.2"/>
<line x1="511.7" y1="49.4" x2="507.4" y2="57.2" stroke="#e0e000" stroke-width="2.2"/>
<line x1="520.1" y1="32.9" x2="524.2" y2="24.3" stroke="#e0e000" stroke-width="2.2"/>
<line x1="521.0" y1="37.5" x2="526.1" y2="33.6" stroke="#e0e000" stroke-width="2.2"/>
<line x1="524.9" y1="47.4" x2="533.8" y2="53.2" stroke="#e0e000" stroke-width="2.2"/>
<line x1="420.9" y1="70.0" x2="412.0" y2="63.9" stroke="#e0e000" stroke-width="2.2"/>
<line x1="434.1" y1="67.5" x2="438.3" y2="59.0" stroke="#e0e000" stroke-width="2.2"/>
<line x1="449.1" y1="74.0" x2="440.0" y2="68.3" stroke="#e0e000" stroke-width="2.2"/>
<line x1="450.9" y1="83.5" x2="441.9" y2="77.2" stroke="#e0e000" stroke-width="2.2"/>
<line x1="435.9" y1="76.6" x2="441.9" y2="77.2" stroke="#e0e000" stroke-width="2.2"/>
<line x1="424.7" y1="80.0" x2="419.6" y2="83.9" stroke="#e0e000" stroke-width="2.2"/>
<line x1="425.6" y1="84.2" x2="421.5" y2="92.5" stroke="#e0e000" stroke-width="2.2"/>
<line x1="438.9" y1="82.0" x2="448.0" y2="88.1" stroke="#e0e000" stroke-width="2.2"/>
<line x1="454.0" y1="88.9" x2="448.0" y2="88.1" stroke="#e0e000" stroke-width="2.2"/>
<line x1="454.8" y1="93.7" x2="449.5" y2="97.6" stroke="#e0e000" stroke-width="2.2"/>
<line x1="455.6" y1="98.0" x2="451.2" y2="106.3" stroke="#e0e000" stroke-width="2.2"/>
<line x1="475.5" y1="70.0" x2="466.3" y2="63.8" stroke="#e0e000" stroke-width="2.2"/>
<line x1="462.2" y1="71.8" x2="466.3" y2="63.8" stroke="#e0e000" stroke-width="2.2"/>
<line x1="463.1" y1="76.3" x2="468.1" y2="72.9" stroke="#e0e000" stroke-width="2.2"/>
<line x1="476.4" y1="74.6" x2="468.1" y2="72.9" stroke="#e0e000" stroke-width="2.2"/>
<line x1="478.3" y1="83.8" x2="469.9" y2="82.3" stroke="#e0e000" stroke-width="2.2"/>
<line x1="464.0" y1="81.0" x2="469.9" y2="82.3" stroke="#e0e000" stroke-width="2.2"/>
<line x1="489.0" y1="67.7" x2="493.3" y2="59.1" stroke="#e0e000" stroke-width="2.2"/>
<line x1="489.8" y1="72.2" x2="494.9" y2="68.3" stroke="#e0e000" stroke-width="2.2"/>
<line x1="505.7" y1="84.0" x2="496.7" y2="77.7" stroke="#e0e000" stroke-width="2.2"/>
<line x1="490.7" y1="77.0" x2="496.7" y2="77.7" stroke="#e0e000" stroke-width="2.2"/>
<line x1="480.9" y1="84.5" x2="475.1" y2="83.7" stroke="#e0e000" stroke-width="2.2"/>
<line x1="467.5" y1="86.7" x2="475.1" y2="83.7" stroke="#e0e000" stroke-width="2.2"/>
<line x1="481.5" y1="89.2" x2="476.3" y2="93.1" stroke="#e0e000" stroke-width="2.2"/>
<line x1="468.1" y1="91.4" x2="476.3" y2="93.1" stroke="#e0e000" stroke-width="2.2"/>
<line x1="482.2" y1="93.7" x2="477.7" y2="102.2" stroke="#e0e000" stroke-width="2.2"/>
<line x1="508.5" y1="89.4" x2="502.3" y2="88.6" stroke="#e0e000" stroke-width="2.2"/>
<line x1="494.5" y1="86.9" x2="502.3" y2="88.6" stroke="#e0e000" stroke-width="2.2"/>
<line x1="509.3" y1="94.0" x2="503.9" y2="97.7" stroke="#e0e000" stroke-width="2.2"/>
<line x1="495.3" y1="91.5" x2="503.9" y2="97.7" stroke="#e0e000" stroke-width="2.2"/>
<line x1="510.4" y1="98.1" x2="506.1" y2="105.9" stroke="#e0e000" stroke-width="2.2"/>
<line x1="518.8" y1="81.6" x2="522.9" y2="73.0" stroke="#e0e000" stroke-width="2.2"/>
<line x1="519.8" y1="86.2" x2="524.8" y2="82.3" stroke="#e0e000" stroke-width="2.2"/>
<line x1="523.6" y1="96.1" x2="532.5" y2="101.9" stroke="#e0e000" stroke-width="2.2"/>
<line x1="419.6" y1="118.7" x2="410.7" y2="112.6" stroke="#e0e000" stroke-width="2.2"/>
<line x1="432.8" y1="116.2" x2="437.0" y2="107.7" stroke="#e0e000" stroke-width="2.2"/>
<line x1="447.8" y1="122.7" x2="438.7" y2="117.0" stroke="#e0e000" stroke-width="2.2"/>
<line x1="449.6" y1="132.2" x2="440.6" y2="125.9" stroke="#e0e000" stroke-width="2.2"/>
<line x1="434.5" y1="125.3" x2="440.6" y2="125.9" stroke="#e0e000" stroke-width="2.2"/>
<line x1="423.4" y1="128.7" x2="418.3" y2="132.6" stroke="#e0e000" stroke-width="2.2"/>
<line x1="424.4" y1="132.9" x2="420.2" y2="141.2" stroke="#e0e000" stroke-width="2.2"/>
<line x1="437.6" y1="130.8" x2="446.7" y2="136.8" stroke="#e0e000" stroke-width="2.2"/>
<line x1="452.7" y1="137.6" x2="446.7" y2="136.8" stroke="#e0e000" stroke-width="2.2"/>
<line x1="453.4" y1="142.4" x2="448.2" y2="146.3" stroke="#e0e000" stroke-width="2.2"/>
<line x1="454.3" y1="146.7" x2="449.9" y2="155.0" stroke="#e0e000" stroke-width="2.2"/>
<line x1="474.2" y1="118.7" x2="465.0" y2="112.5" stroke="#e0e000" stroke-width="2.2"/>
<line x1="460.9" y1="120.5" x2="465.0" y2="112.5" stroke="#e0e000" stroke-width="2.2"/>
<line x1="461.8" y1="125.0" x2="466.8" y2="121.6" stroke="#e0e000" stroke-width="2.2"/>
<line x1="475.1" y1="123.2" x2="466.8" y2="121.6" stroke="#e0e000" stroke-width="2.2"/>
<line x1="477.0" y1="132.4" x2="468.6" y2="131.0" stroke="#e0e000" stroke-width="2.2"/>
<line x1="462.8" y1="129.7" x2="468.6" y2="131.0" stroke="#e0e000" stroke-width="2.2"/>
<line x1="487.7" y1="116.4" x2="492.0" y2="107.8" stroke="#e0e000" stroke-width="2.2"/>
<line x1="488.5" y1="121.0" x2="493.6" y2="117.0" stroke="#e0e000" stroke-width="2.2"/>
<line x1="504.4" y1="132.7" x2="495.4" y2="126.4" stroke="#e0e000" stroke-width="2.2"/>
<line x1="489.4" y1="125.7" x2="495.4" y2="126.4" stroke="#e0e000" stroke-width="2.2"/>
<line x1="479.6" y1="133.2" x2="473.8" y2="132.4" stroke="#e0e000" stroke-width="2.2"/>
<line x1="466.2" y1="135.4" x2="473.8" y2="132.4" stroke="#e0e000" stroke-width="2.2"/>
<line x1="480.2" y1="137.9" x2="475.0" y2="141.8" stroke="#e0e000" stroke-width="2.2"/>
<line x1="466.9" y1="140.1" x2="475.0" y2="141.8" stroke="#e0e000" stroke-width="2.2"/>
<line x1="480.9" y1="142.4" x2="476.4" y2="150.9" stroke="#e0e000" stroke-width="2.2"/>
<line x1="507.2" y1="138.1" x2="501.0" y2="137.3" stroke="#e0e000" stroke-width="2.2"/>
<line x1="493.2" y1="135.6" x2="501.0" y2="137.3" stroke="#e0e000" stroke-width="2.2"/>
<line x1="508.0" y1="142.7" x2="502.6" y2="146.4" stroke="#e0e000" stroke-width="2.2"/>
<line x1="494.0" y1="140.2" x2="502.6" y2="146.4" stroke="#e0e000" stroke-width="2.2"/>
<line x1="509.1" y1="146.8" x2="504.8" y2="154.6" stroke="#e0e000" stroke-width="2.2"/>
<line x1="517.5" y1="130.3" x2="521.6" y2="121.7" stroke="#e0e000" stroke-width="2.2"/>
<line x1="518.5" y1="134.9" x2="523.5" y2="131.0" stroke="#e0e000" stroke-width="2.2"/>
<line x1="522.3" y1="144.8" x2="531.2" y2="150.6" stroke="#e0e000" stroke-width="2.2"/>
<line x1="490.0" y1="60.0" x2="493.3" y2="59.1" stroke="#e0e000" stroke-width="2.2"/>
<line x1="482.9" y1="57.1" x2="479.0" y2="53.5" stroke="#e0e000" stroke-width="2.2"/>
<line x1="490.8" y1="64.6" x2="494.9" y2="68.3" stroke="#e0e000" stroke-width="2.2"/>
<line x1="482.1" y1="52.6" x2="477.6" y2="44.4" stroke="#e0e000" stroke-width="2.2"/>
<line x1="491.7" y1="69.2" x2="496.7" y2="77.7" stroke="#e0e000" stroke-width="2.2"/>
<line x1="476.5" y1="62.3" x2="466.3" y2="63.8" stroke="#e0e000" stroke-width="2.2"/>
<line x1="454.7" y1="105.0" x2="451.2" y2="106.3" stroke="#e0e000" stroke-width="2.2"/>
<line x1="453.9" y1="100.6" x2="449.5" y2="97.6" stroke="#e0e000" stroke-width="2.2"/>
<line x1="461.6" y1="108.0" x2="465.0" y2="112.5" stroke="#e0e000" stroke-width="2.2"/>
<line x1="453.1" y1="95.8" x2="448.0" y2="88.1" stroke="#e0e000" stroke-width="2.2"/>
<line x1="467.9" y1="102.9" x2="477.7" y2="102.2" stroke="#e0e000" stroke-width="2.2"/>
<line x1="462.5" y1="112.6" x2="466.8" y2="121.6" stroke="#e0e000" stroke-width="2.2"/>
<line x1="431.1" y1="27.3" x2="422.2" y2="21.2" stroke="#10109a" stroke-width="2.2"/>
<line x1="431.1" y1="27.3" x2="435.4" y2="18.8" stroke="#10109a" stroke-width="2.2"/>
<line x1="459.5" y1="31.0" x2="450.4" y2="25.3" stroke="#10109a" stroke-width="2.2"/>
<line x1="461.3" y1="41.0" x2="452.2" y2="34.8" stroke="#10109a" stroke-width="2.2"/>
<line x1="431.1" y1="27.3" x2="437.1" y2="27.9" stroke="#10109a" stroke-width="2.2"/>
<line x1="431.1" y1="27.3" x2="426.0" y2="31.2" stroke="#10109a" stroke-width="2.2"/>
<line x1="431.1" y1="27.3" x2="427.0" y2="35.5" stroke="#10109a" stroke-width="2.2"/>
<line x1="431.1" y1="27.3" x2="440.2" y2="33.4" stroke="#10109a" stroke-width="2.2"/>
<line x1="461.3" y1="41.0" x2="455.3" y2="40.2" stroke="#10109a" stroke-width="2.2"/>
<line x1="461.3" y1="41.0" x2="456.1" y2="45.0" stroke="#10109a" stroke-width="2.2"/>
<line x1="461.3" y1="41.0" x2="456.9" y2="49.3" stroke="#10109a" stroke-width="2.2"/>
<line x1="486.0" y1="27.5" x2="476.8" y2="21.3" stroke="#10109a" stroke-width="2.2"/>
<line x1="459.5" y1="31.0" x2="463.6" y2="23.1" stroke="#10109a" stroke-width="2.2"/>
<line x1="459.5" y1="31.0" x2="464.4" y2="27.6" stroke="#10109a" stroke-width="2.2"/>
<line x1="486.0" y1="27.5" x2="477.7" y2="25.9" stroke="#10109a" stroke-width="2.2"/>
<line x1="488.0" y1="36.5" x2="479.6" y2="35.0" stroke="#10109a" stroke-width="2.2"/>
<line x1="459.5" y1="31.0" x2="465.4" y2="32.3" stroke="#10109a" stroke-width="2.2"/>
<line x1="486.0" y1="27.5" x2="490.3" y2="18.9" stroke="#10109a" stroke-width="2.2"/>
<line x1="486.0" y1="27.5" x2="491.1" y2="23.6" stroke="#10109a" stroke-width="2.2"/>
<line x1="516.0" y1="41.5" x2="507.0" y2="35.2" stroke="#10109a" stroke-width="2.2"/>
<line x1="486.0" y1="27.5" x2="492.0" y2="28.2" stroke="#10109a" stroke-width="2.2"/>
<line x1="488.0" y1="36.5" x2="482.2" y2="35.8" stroke="#10109a" stroke-width="2.2"/>
<line x1="461.3" y1="41.0" x2="468.9" y2="38.0" stroke="#10109a" stroke-width="2.2"/>
<line x1="488.0" y1="36.5" x2="482.8" y2="40.5" stroke="#10109a" stroke-width="2.2"/>
<line x1="461.3" y1="41.0" x2="469.5" y2="42.7" stroke="#10109a" stroke-width="2.2"/>
<line x1="488.0" y1="36.5" x2="483.5" y2="45.0" stroke="#10109a" stroke-width="2.2"/>
<line x1="516.0" y1="41.5" x2="509.8" y2="40.7" stroke="#10109a" stroke-width="2.2"/>
<line x1="488.0" y1="36.5" x2="495.8" y2="38.2" stroke="#10109a" stroke-width="2.2"/>
<line x1="516.0" y1="41.5" x2="510.6" y2="45.2" stroke="#10109a" stroke-width="2.2"/>
<line x1="488.0" y1="36.5" x2="496.6" y2="42.8" stroke="#10109a" stroke-width="2.2"/>
<line x1="516.0" y1="41.5" x2="511.7" y2="49.4" stroke="#10109a" stroke-width="2.2"/>
<line x1="516.0" y1="41.5" x2="520.1" y2="32.9" stroke="#10109a" stroke-width="2.2"/>
<line x1="516.0" y1="41.5" x2="521.0" y2="37.5" stroke="#10109a" stroke-width="2.2"/>
<line x1="516.0" y1="41.5" x2="524.9" y2="47.4" stroke="#10109a" stroke-width="2.2"/>
<line x1="429.8" y1="76.0" x2="420.9" y2="70.0" stroke="#10109a" stroke-width="2.2"/>
<line x1="429.8" y1="76.0" x2="434.1" y2="67.5" stroke="#10109a" stroke-width="2.2"/>
<line x1="458.2" y1="79.7" x2="449.1" y2="74.0" stroke="#10109a" stroke-width="2.2"/>
<line x1="460.0" y1="89.7" x2="450.9" y2="83.5" stroke="#10109a" stroke-width="2.2"/>
<line x1="429.8" y1="76.0" x2="435.9" y2="76.6" stroke="#10109a" stroke-width="2.2"/>
<line x1="429.8" y1="76.0" x2="424.7" y2="80.0" stroke="#10109a" stroke-width="2.2"/>
<line x1="429.8" y1="76.0" x2="425.6" y2="84.2" stroke="#10109a" stroke-width="2.2"/>
<line x1="429.8" y1="76.0" x2="438.9" y2="82.0" stroke="#10109a" stroke-width="2.2"/>
<line x1="460.0" y1="89.7" x2="454.0" y2="88.9" stroke="#10109a" stroke-width="2.2"/>
<line x1="460.0" y1="89.7" x2="454.8" y2="93.7" stroke="#10109a" stroke-width="2.2"/>
<line x1="460.0" y1="89.7" x2="455.6" y2="98.0" stroke="#10109a" stroke-width="2.2"/>
<line x1="484.7" y1="76.2" x2="475.5" y2="70.0" stroke="#10109a" stroke-width="2.2"/>
<line x1="458.2" y1="79.7" x2="462.2" y2="71.8" stroke="#10109a" stroke-width="2.2"/>
<line x1="458.2" y1="79.7" x2="463.1" y2="76.3" stroke="#10109a" stroke-width="2.2"/>
<line x1="484.7" y1="76.2" x2="476.4" y2="74.6" stroke="#10109a" stroke-width="2.2"/>
<line x1="486.7" y1="85.2" x2="478.3" y2="83.8" stroke="#10109a" stroke-width="2.2"/>
<line x1="458.2" y1="79.7" x2="464.0" y2="81.0" stroke="#10109a" stroke-width="2.2"/>
<line x1="484.7" y1="76.2" x2="489.0" y2="67.7" stroke="#10109a" stroke-width="2.2"/>
<line x1="484.7" y1="76.2" x2="489.8" y2="72.2" stroke="#10109a" stroke-width="2.2"/>
<line x1="514.7" y1="90.2" x2="505.7" y2="84.0" stroke="#10109a" stroke-width="2.2"/>
<line x1="484.7" y1="76.2" x2="490.7" y2="77.0" stroke="#10109a" stroke-width="2.2"/>
<line x1="486.7" y1="85.2" x2="480.9" y2="84.5" stroke="#10109a" stroke-width="2.2"/>
<line x1="460.0" y1="89.7" x2="467.5" y2="86.7" stroke="#10109a" stroke-width="2.2"/>
<line x1="486.7" y1="85.2" x2="481.5" y2="89.2" stroke="#10109a" stroke-width="2.2"/>
<line x1="460.0" y1="89.7" x2="468.1" y2="91.4" stroke="#10109a" stroke-width="2.2"/>
<line x1="486.7" y1="85.2" x2="482.2" y2="93.7" stroke="#10109a" stroke-width="2.2"/>
<line x1="514.7" y1="90.2" x2="508.5" y2="89.4" stroke="#10109a" stroke-width="2.2"/>
<line x1="486.7" y1="85.2" x2="494.5" y2="86.9" stroke="#10109a" stroke-width="2.2"/>
<line x1="514.7" y1="90.2" x2="509.3" y2="94.0" stroke="#10109a" stroke-width="2.2"/>
<line x1="486.7" y1="85.2" x2="495.3" y2="91.5" stroke="#10109a" stroke-width="2.2"/>
<line x1="514.7" y1="90.2" x2="510.4" y2="98.1" stroke="#10109a" stroke-width="2.2"/>
<line x1="514.7" y1="90.2" x2="518.8" y2="81.6" stroke="#10109a" stroke-width="2.2"/>
<line x1="514.7" y1="90.2" x2="519.8" y2="86.2" stroke="#10109a" stroke-width="2.2"/>
<line x1="514.7" y1="90.2" x2="523.6" y2="96.1" stroke="#10109a" stroke-width="2.2"/>
<line x1="428.5" y1="124.7" x2="419.6" y2="118.7" stroke="#10109a" stroke-width="2.2"/>
<line x1="428.5" y1="124.7" x2="432.8" y2="116.2" stroke="#10109a" stroke-width="2.2"/>
<line x1="456.9" y1="128.4" x2="447.8" y2="122.7" stroke="#10109a" stroke-width="2.2"/>
<line x1="458.7" y1="138.4" x2="449.6" y2="132.2" stroke="#10109a" stroke-width="2.2"/>
<line x1="428.5" y1="124.7" x2="434.5" y2="125.3" stroke="#10109a" stroke-width="2.2"/>
<line x1="428.5" y1="124.7" x2="423.4" y2="128.7" stroke="#10109a" stroke-width="2.2"/>
<line x1="428.5" y1="124.7" x2="424.4" y2="132.9" stroke="#10109a" stroke-width="2.2"/>
<line x1="428.5" y1="124.7" x2="437.6" y2="130.8" stroke="#10109a" stroke-width="2.2"/>
<line x1="458.7" y1="138.4" x2="452.7" y2="137.6" stroke="#10109a" stroke-width="2.2"/>
<line x1="458.7" y1="138.4" x2="453.4" y2="142.4" stroke="#10109a" stroke-width="2.2"/>
<line x1="458.7" y1="138.4" x2="454.3" y2="146.7" stroke="#10109a" stroke-width="2.2"/>
<line x1="483.4" y1="124.9" x2="474.2" y2="118.7" stroke="#10109a" stroke-width="2.2"/>
<line x1="456.9" y1="128.4" x2="460.9" y2="120.5" stroke="#10109a" stroke-width="2.2"/>
<line x1="456.9" y1="128.4" x2="461.8" y2="125.0" stroke="#10109a" stroke-width="2.2"/>
<line x1="483.4" y1="124.9" x2="475.1" y2="123.2" stroke="#10109a" stroke-width="2.2"/>
<line x1="485.4" y1="133.9" x2="477.0" y2="132.4" stroke="#10109a" stroke-width="2.2"/>
<line x1="456.9" y1="128.4" x2="462.8" y2="129.7" stroke="#10109a" stroke-width="2.2"/>
<line x1="483.4" y1="124.9" x2="487.7" y2="116.4" stroke="#10109a" stroke-width="2.2"/>
<line x1="483.4" y1="124.9" x2="488.5" y2="121.0" stroke="#10109a" stroke-width="2.2"/>
<line x1="513.4" y1="138.9" x2="504.4" y2="132.7" stroke="#10109a" stroke-width="2.2"/>
<line x1="483.4" y1="124.9" x2="489.4" y2="125.7" stroke="#10109a" stroke-width="2.2"/>
<line x1="485.4" y1="133.9" x2="479.6" y2="133.2" stroke="#10109a" stroke-width="2.2"/>
<line x1="458.7" y1="138.4" x2="466.2" y2="135.4" stroke="#10109a" stroke-width="2.2"/>
<line x1="485.4" y1="133.9" x2="480.2" y2="137.9" stroke="#10109a" stroke-width="2.2"/>
<line x1="458.7" y1="138.4" x2="466.9" y2="140.1" stroke="#10109a" stroke-width="2.2"/>
<line x1="485.4" y1="133.9" x2="480.9" y2="142.4" stroke="#10109a" stroke-width="2.2"/>
<line x1="513.4" y1="138.9" x2="507.2" y2="138.1" stroke="#10109a" stroke-width="2.2"/>
<line x1="485.4" y1="133.9" x2="493.2" y2="135.6" stroke="#10109a" stroke-width="2.2"/>
<line x1="513.4" y1="138.9" x2="508.0" y2="142.7" stroke="#10109a" stroke-width="2.2"/>
<line x1="485.4" y1="133.9" x2="494.0" y2="140.2" stroke="#10109a" stroke-width="2.2"/>
<line x1="513.4" y1="138.9" x2="509.1" y2="146.8" stroke="#10109a" stroke-width="2.2"/>
<line x1="513.4" y1="138.9" x2="517.5" y2="130.3" stroke="#10109a" stroke-width="2.2"/>
<line x1="513.4" y1="138.9" x2="518.5" y2="134.9" stroke="#10109a" stroke-width="2.2"/>
<line x1="513.4" y1="138.9" x2="522.3" y2="144.8" stroke="#10109a" stroke-width="2.2"/>
<line x1="486.7" y1="60.8" x2="490.0" y2="60.0" stroke="#10109a" stroke-width="2.2"/>
<line x1="486.7" y1="60.8" x2="482.9" y2="57.1" stroke="#10109a" stroke-width="2.2"/>
<line x1="486.7" y1="60.8" x2="490.8" y2="64.6" stroke="#10109a" stroke-width="2.2"/>
<line x1="486.7" y1="60.8" x2="482.1" y2="52.6" stroke="#10109a" stroke-width="2.2"/>
<line x1="486.7" y1="60.8" x2="491.7" y2="69.2" stroke="#10109a" stroke-width="2.2"/>
<line x1="486.7" y1="60.8" x2="476.5" y2="62.3" stroke="#10109a" stroke-width="2.2"/>
<line x1="458.2" y1="103.6" x2="454.7" y2="105.0" stroke="#10109a" stroke-width="2.2"/>
<line x1="458.2" y1="103.6" x2="453.9" y2="100.6" stroke="#10109a" stroke-width="2.2"/>
<line x1="458.2" y1="103.6" x2="461.6" y2="108.0" stroke="#10109a" stroke-width="2.2"/>
<line x1="458.2" y1="103.6" x2="453.1" y2="95.8" stroke="#10109a" stroke-width="2.2"/>
<line x1="458.2" y1="103.6" x2="467.9" y2="102.9" stroke="#10109a" stroke-width="2.2"/>
<line x1="458.2" y1="103.6" x2="462.5" y2="112.6" stroke="#10109a" stroke-width="2.2"/>
<circle cx="413.3" cy="15.2" r="3.75" fill="url(#gS)" stroke="#b0a010" stroke-width="0.6"/>
<circle cx="439.6" cy="10.3" r="3.75" fill="url(#gS)" stroke="#b0a010" stroke-width="0.6"/>
<circle cx="441.3" cy="19.6" r="3.75" fill="url(#gS)" stroke="#b0a010" stroke-width="0.6"/>
<circle cx="443.2" cy="28.5" r="3.75" fill="url(#gS)" stroke="#b0a010" stroke-width="0.6"/>
<circle cx="420.9" cy="35.2" r="3.75" fill="url(#gS)" stroke="#b0a010" stroke-width="0.6"/>
<circle cx="422.8" cy="43.8" r="3.75" fill="url(#gS)" stroke="#b0a010" stroke-width="0.6"/>
<circle cx="449.3" cy="39.4" r="3.75" fill="url(#gS)" stroke="#b0a010" stroke-width="0.6"/>
<circle cx="450.8" cy="48.9" r="3.75" fill="url(#gS)" stroke="#b0a010" stroke-width="0.6"/>
<circle cx="452.5" cy="57.6" r="3.75" fill="url(#gS)" stroke="#b0a010" stroke-width="0.6"/>
<circle cx="467.6" cy="15.1" r="3.75" fill="url(#gS)" stroke="#b0a010" stroke-width="0.6"/>
<circle cx="469.4" cy="24.2" r="3.75" fill="url(#gS)" stroke="#b0a010" stroke-width="0.6"/>
<circle cx="471.2" cy="33.6" r="3.75" fill="url(#gS)" stroke="#b0a010" stroke-width="0.6"/>
<circle cx="494.6" cy="10.4" r="3.75" fill="url(#gS)" stroke="#b0a010" stroke-width="0.6"/>
<circle cx="496.2" cy="19.6" r="3.75" fill="url(#gS)" stroke="#b0a010" stroke-width="0.6"/>
<circle cx="498.0" cy="29.0" r="3.75" fill="url(#gS)" stroke="#b0a010" stroke-width="0.6"/>
<circle cx="476.4" cy="35.0" r="3.75" fill="url(#gS)" stroke="#b0a010" stroke-width="0.6"/>
<circle cx="477.6" cy="44.4" r="3.75" fill="url(#gS)" stroke="#b0a010" stroke-width="0.6"/>
<circle cx="479.0" cy="53.5" r="3.75" fill="url(#gS)" stroke="#b0a010" stroke-width="0.6"/>
<circle cx="503.6" cy="39.9" r="3.75" fill="url(#gS)" stroke="#b0a010" stroke-width="0.6"/>
<circle cx="505.2" cy="49.0" r="3.75" fill="url(#gS)" stroke="#b0a010" stroke-width="0.6"/>
<circle cx="507.4" cy="57.2" r="3.75" fill="url(#gS)" stroke="#b0a010" stroke-width="0.6"/>
<circle cx="524.2" cy="24.3" r="3.75" fill="url(#gS)" stroke="#b0a010" stroke-width="0.6"/>
<circle cx="526.1" cy="33.6" r="3.75" fill="url(#gS)" stroke="#b0a010" stroke-width="0.6"/>
<circle cx="533.8" cy="53.2" r="3.75" fill="url(#gS)" stroke="#b0a010" stroke-width="0.6"/>
<circle cx="412.0" cy="63.9" r="3.75" fill="url(#gS)" stroke="#b0a010" stroke-width="0.6"/>
<circle cx="438.3" cy="59.0" r="3.75" fill="url(#gS)" stroke="#b0a010" stroke-width="0.6"/>
<circle cx="440.0" cy="68.3" r="3.75" fill="url(#gS)" stroke="#b0a010" stroke-width="0.6"/>
<circle cx="441.9" cy="77.2" r="3.75" fill="url(#gS)" stroke="#b0a010" stroke-width="0.6"/>
<circle cx="419.6" cy="83.9" r="3.75" fill="url(#gS)" stroke="#b0a010" stroke-width="0.6"/>
<circle cx="421.5" cy="92.5" r="3.75" fill="url(#gS)" stroke="#b0a010" stroke-width="0.6"/>
<circle cx="448.0" cy="88.1" r="3.75" fill="url(#gS)" stroke="#b0a010" stroke-width="0.6"/>
<circle cx="449.5" cy="97.6" r="3.75" fill="url(#gS)" stroke="#b0a010" stroke-width="0.6"/>
<circle cx="451.2" cy="106.3" r="3.75" fill="url(#gS)" stroke="#b0a010" stroke-width="0.6"/>
<circle cx="466.3" cy="63.8" r="3.75" fill="url(#gS)" stroke="#b0a010" stroke-width="0.6"/>
<circle cx="468.1" cy="72.9" r="3.75" fill="url(#gS)" stroke="#b0a010" stroke-width="0.6"/>
<circle cx="469.9" cy="82.3" r="3.75" fill="url(#gS)" stroke="#b0a010" stroke-width="0.6"/>
<circle cx="493.3" cy="59.1" r="3.75" fill="url(#gS)" stroke="#b0a010" stroke-width="0.6"/>
<circle cx="494.9" cy="68.3" r="3.75" fill="url(#gS)" stroke="#b0a010" stroke-width="0.6"/>
<circle cx="496.7" cy="77.7" r="3.75" fill="url(#gS)" stroke="#b0a010" stroke-width="0.6"/>
<circle cx="475.1" cy="83.7" r="3.75" fill="url(#gS)" stroke="#b0a010" stroke-width="0.6"/>
<circle cx="476.3" cy="93.1" r="3.75" fill="url(#gS)" stroke="#b0a010" stroke-width="0.6"/>
<circle cx="477.7" cy="102.2" r="3.75" fill="url(#gS)" stroke="#b0a010" stroke-width="0.6"/>
<circle cx="502.3" cy="88.6" r="3.75" fill="url(#gS)" stroke="#b0a010" stroke-width="0.6"/>
<circle cx="503.9" cy="97.7" r="3.75" fill="url(#gS)" stroke="#b0a010" stroke-width="0.6"/>
<circle cx="506.1" cy="105.9" r="3.75" fill="url(#gS)" stroke="#b0a010" stroke-width="0.6"/>
<circle cx="522.9" cy="73.0" r="3.75" fill="url(#gS)" stroke="#b0a010" stroke-width="0.6"/>
<circle cx="524.8" cy="82.3" r="3.75" fill="url(#gS)" stroke="#b0a010" stroke-width="0.6"/>
<circle cx="532.5" cy="101.9" r="3.75" fill="url(#gS)" stroke="#b0a010" stroke-width="0.6"/>
<circle cx="410.7" cy="112.6" r="3.75" fill="url(#gS)" stroke="#b0a010" stroke-width="0.6"/>
<circle cx="437.0" cy="107.7" r="3.75" fill="url(#gS)" stroke="#b0a010" stroke-width="0.6"/>
<circle cx="438.7" cy="117.0" r="3.75" fill="url(#gS)" stroke="#b0a010" stroke-width="0.6"/>
<circle cx="440.6" cy="125.9" r="3.75" fill="url(#gS)" stroke="#b0a010" stroke-width="0.6"/>
<circle cx="418.3" cy="132.6" r="3.75" fill="url(#gS)" stroke="#b0a010" stroke-width="0.6"/>
<circle cx="420.2" cy="141.2" r="3.75" fill="url(#gS)" stroke="#b0a010" stroke-width="0.6"/>
<circle cx="446.7" cy="136.8" r="3.75" fill="url(#gS)" stroke="#b0a010" stroke-width="0.6"/>
<circle cx="448.2" cy="146.3" r="3.75" fill="url(#gS)" stroke="#b0a010" stroke-width="0.6"/>
<circle cx="449.9" cy="155.0" r="3.75" fill="url(#gS)" stroke="#b0a010" stroke-width="0.6"/>
<circle cx="465.0" cy="112.5" r="3.75" fill="url(#gS)" stroke="#b0a010" stroke-width="0.6"/>
<circle cx="466.8" cy="121.6" r="3.75" fill="url(#gS)" stroke="#b0a010" stroke-width="0.6"/>
<circle cx="468.6" cy="131.0" r="3.75" fill="url(#gS)" stroke="#b0a010" stroke-width="0.6"/>
<circle cx="492.0" cy="107.8" r="3.75" fill="url(#gS)" stroke="#b0a010" stroke-width="0.6"/>
<circle cx="493.6" cy="117.0" r="3.75" fill="url(#gS)" stroke="#b0a010" stroke-width="0.6"/>
<circle cx="495.4" cy="126.4" r="3.75" fill="url(#gS)" stroke="#b0a010" stroke-width="0.6"/>
<circle cx="473.8" cy="132.4" r="3.75" fill="url(#gS)" stroke="#b0a010" stroke-width="0.6"/>
<circle cx="475.0" cy="141.8" r="3.75" fill="url(#gS)" stroke="#b0a010" stroke-width="0.6"/>
<circle cx="476.4" cy="150.9" r="3.75" fill="url(#gS)" stroke="#b0a010" stroke-width="0.6"/>
<circle cx="501.0" cy="137.3" r="3.75" fill="url(#gS)" stroke="#b0a010" stroke-width="0.6"/>
<circle cx="502.6" cy="146.4" r="3.75" fill="url(#gS)" stroke="#b0a010" stroke-width="0.6"/>
<circle cx="504.8" cy="154.6" r="3.75" fill="url(#gS)" stroke="#b0a010" stroke-width="0.6"/>
<circle cx="521.6" cy="121.7" r="3.75" fill="url(#gS)" stroke="#b0a010" stroke-width="0.6"/>
<circle cx="523.5" cy="131.0" r="3.75" fill="url(#gS)" stroke="#b0a010" stroke-width="0.6"/>
<circle cx="531.2" cy="150.6" r="3.75" fill="url(#gS)" stroke="#b0a010" stroke-width="0.6"/>
<circle cx="431.1" cy="27.3" r="5.1" fill="url(#gCr)"/>
<circle cx="459.5" cy="31.0" r="5.1" fill="url(#gCr)"/>
<circle cx="461.3" cy="41.0" r="5.1" fill="url(#gCr)"/>
<circle cx="486.0" cy="27.5" r="5.1" fill="url(#gCr)"/>
<circle cx="488.0" cy="36.5" r="5.1" fill="url(#gCr)"/>
<circle cx="516.0" cy="41.5" r="5.1" fill="url(#gCr)"/>
<circle cx="429.8" cy="76.0" r="5.1" fill="url(#gCr)"/>
<circle cx="458.2" cy="79.7" r="5.1" fill="url(#gCr)"/>
<circle cx="460.0" cy="89.7" r="5.1" fill="url(#gCr)"/>
<circle cx="484.7" cy="76.2" r="5.1" fill="url(#gCr)"/>
<circle cx="486.7" cy="85.2" r="5.1" fill="url(#gCr)"/>
<circle cx="514.7" cy="90.2" r="5.1" fill="url(#gCr)"/>
<circle cx="428.5" cy="124.7" r="5.1" fill="url(#gCr)"/>
<circle cx="456.9" cy="128.4" r="5.1" fill="url(#gCr)"/>
<circle cx="458.7" cy="138.4" r="5.1" fill="url(#gCr)"/>
<circle cx="483.4" cy="124.9" r="5.1" fill="url(#gCr)"/>
<circle cx="485.4" cy="133.9" r="5.1" fill="url(#gCr)"/>
<circle cx="513.4" cy="138.9" r="5.1" fill="url(#gCr)"/>
<circle cx="486.7" cy="60.8" r="5.1" fill="url(#gCr)"/>
<circle cx="458.2" cy="103.6" r="5.1" fill="url(#gCr)"/>
<line x1="431.1" y1="33.3" x2="431.1" y2="23.3" stroke="#ff6a1c" stroke-width="2"/>
<polygon points="431.1,17.8 427.8,23.3 434.4,23.3" fill="#ff6a1c"/>
<line x1="459.5" y1="37.0" x2="459.5" y2="27.0" stroke="#ff6a1c" stroke-width="2"/>
<polygon points="459.5,21.5 456.2,27.0 462.8,27.0" fill="#ff6a1c"/>
<line x1="461.3" y1="47.0" x2="461.3" y2="37.0" stroke="#ff6a1c" stroke-width="2"/>
<polygon points="461.3,31.5 458.0,37.0 464.6,37.0" fill="#ff6a1c"/>
<line x1="486.0" y1="33.5" x2="486.0" y2="23.5" stroke="#ff6a1c" stroke-width="2"/>
<polygon points="486.0,18.0 482.7,23.5 489.3,23.5" fill="#ff6a1c"/>
<line x1="488.0" y1="45.5" x2="488.0" y2="35.5" stroke="#ff6a1c" stroke-width="2"/>
<polygon points="488.0,30.0 484.7,35.5 491.3,35.5" fill="#ff6a1c"/>
<line x1="516.0" y1="47.5" x2="516.0" y2="37.5" stroke="#ff6a1c" stroke-width="2"/>
<polygon points="516.0,32.0 512.7,37.5 519.3,37.5" fill="#ff6a1c"/>
<line x1="429.8" y1="82.0" x2="429.8" y2="72.0" stroke="#ff6a1c" stroke-width="2"/>
<polygon points="429.8,66.5 426.5,72.0 433.1,72.0" fill="#ff6a1c"/>
<line x1="458.2" y1="85.7" x2="458.2" y2="75.7" stroke="#ff6a1c" stroke-width="2"/>
<polygon points="458.2,70.2 454.9,75.7 461.5,75.7" fill="#ff6a1c"/>
<line x1="460.0" y1="95.7" x2="460.0" y2="85.7" stroke="#ff6a1c" stroke-width="2"/>
<polygon points="460.0,80.2 456.7,85.7 463.3,85.7" fill="#ff6a1c"/>
<line x1="484.7" y1="82.2" x2="484.7" y2="72.2" stroke="#ff6a1c" stroke-width="2"/>
<polygon points="484.7,66.7 481.4,72.2 488.0,72.2" fill="#ff6a1c"/>
<line x1="486.7" y1="94.2" x2="486.7" y2="84.2" stroke="#ff6a1c" stroke-width="2"/>
<polygon points="486.7,78.7 483.4,84.2 490.0,84.2" fill="#ff6a1c"/>
<line x1="514.7" y1="96.2" x2="514.7" y2="86.2" stroke="#ff6a1c" stroke-width="2"/>
<polygon points="514.7,80.7 511.4,86.2 518.0,86.2" fill="#ff6a1c"/>
<line x1="428.5" y1="130.7" x2="428.5" y2="120.7" stroke="#ff6a1c" stroke-width="2"/>
<polygon points="428.5,115.2 425.2,120.7 431.8,120.7" fill="#ff6a1c"/>
<line x1="456.9" y1="134.4" x2="456.9" y2="124.4" stroke="#ff6a1c" stroke-width="2"/>
<polygon points="456.9,118.9 453.6,124.4 460.2,124.4" fill="#ff6a1c"/>
<line x1="458.7" y1="144.4" x2="458.7" y2="134.4" stroke="#ff6a1c" stroke-width="2"/>
<polygon points="458.7,128.9 455.4,134.4 462.0,134.4" fill="#ff6a1c"/>
<line x1="483.4" y1="130.9" x2="483.4" y2="120.9" stroke="#ff6a1c" stroke-width="2"/>
<polygon points="483.4,115.4 480.1,120.9 486.7,120.9" fill="#ff6a1c"/>
<line x1="485.4" y1="142.9" x2="485.4" y2="132.9" stroke="#ff6a1c" stroke-width="2"/>
<polygon points="485.4,127.4 482.1,132.9 488.7,132.9" fill="#ff6a1c"/>
<line x1="513.4" y1="144.9" x2="513.4" y2="134.9" stroke="#ff6a1c" stroke-width="2"/>
<polygon points="513.4,129.4 510.1,134.9 516.7,134.9" fill="#ff6a1c"/>
<line x1="486.7" y1="66.8" x2="486.7" y2="56.8" stroke="#ff6a1c" stroke-width="2"/>
<polygon points="486.7,51.3 483.4,56.8 490.0,56.8" fill="#ff6a1c"/>
<line x1="458.2" y1="109.6" x2="458.2" y2="99.6" stroke="#ff6a1c" stroke-width="2"/>
<polygon points="458.2,94.1 454.9,99.6 461.5,99.6" fill="#ff6a1c"/>
</g>
<g transform="translate(1.50,178.30)">
<line x1="431.1" y1="27.3" x2="428.5" y2="124.7" stroke="#c4c4c4" stroke-width="1"/>
<line x1="461.3" y1="41.0" x2="458.7" y2="138.4" stroke="#c4c4c4" stroke-width="1"/>
<line x1="486.0" y1="27.5" x2="483.4" y2="124.9" stroke="#c4c4c4" stroke-width="1"/>
<line x1="516.0" y1="41.5" x2="513.4" y2="138.9" stroke="#c4c4c4" stroke-width="1"/>
<polygon points="431.1,27.3 461.3,41.0 516.0,41.5 486.0,27.5" fill="none" stroke="#c8c8c8" stroke-width="0.9"/>
<polygon points="428.5,124.7 458.7,138.4 513.4,138.9 483.4,124.9" fill="none" stroke="#c8c8c8" stroke-width="0.9"/>
<line x1="422.2" y1="21.2" x2="413.3" y2="15.2" stroke="#e0e000" stroke-width="2.2"/>
<line x1="435.4" y1="18.8" x2="439.6" y2="10.3" stroke="#e0e000" stroke-width="2.2"/>
<line x1="450.4" y1="25.3" x2="441.3" y2="19.6" stroke="#e0e000" stroke-width="2.2"/>
<line x1="452.2" y1="34.8" x2="443.2" y2="28.5" stroke="#e0e000" stroke-width="2.2"/>
<line x1="437.1" y1="27.9" x2="443.2" y2="28.5" stroke="#e0e000" stroke-width="2.2"/>
<line x1="426.0" y1="31.2" x2="420.9" y2="35.2" stroke="#e0e000" stroke-width="2.2"/>
<line x1="427.0" y1="35.5" x2="422.8" y2="43.8" stroke="#e0e000" stroke-width="2.2"/>
<line x1="440.2" y1="33.4" x2="449.3" y2="39.4" stroke="#e0e000" stroke-width="2.2"/>
<line x1="455.3" y1="40.2" x2="449.3" y2="39.4" stroke="#e0e000" stroke-width="2.2"/>
<line x1="456.1" y1="45.0" x2="450.8" y2="48.9" stroke="#e0e000" stroke-width="2.2"/>
<line x1="456.9" y1="49.3" x2="452.5" y2="57.6" stroke="#e0e000" stroke-width="2.2"/>
<line x1="476.8" y1="21.3" x2="467.6" y2="15.1" stroke="#e0e000" stroke-width="2.2"/>
<line x1="463.6" y1="23.1" x2="467.6" y2="15.1" stroke="#e0e000" stroke-width="2.2"/>
<line x1="464.4" y1="27.6" x2="469.4" y2="24.2" stroke="#e0e000" stroke-width="2.2"/>
<line x1="477.7" y1="25.9" x2="469.4" y2="24.2" stroke="#e0e000" stroke-width="2.2"/>
<line x1="479.6" y1="35.0" x2="471.2" y2="33.6" stroke="#e0e000" stroke-width="2.2"/>
<line x1="465.4" y1="32.3" x2="471.2" y2="33.6" stroke="#e0e000" stroke-width="2.2"/>
<line x1="490.3" y1="18.9" x2="494.6" y2="10.4" stroke="#e0e000" stroke-width="2.2"/>
<line x1="491.1" y1="23.6" x2="496.2" y2="19.6" stroke="#e0e000" stroke-width="2.2"/>
<line x1="507.0" y1="35.2" x2="498.0" y2="29.0" stroke="#e0e000" stroke-width="2.2"/>
<line x1="492.0" y1="28.2" x2="498.0" y2="29.0" stroke="#e0e000" stroke-width="2.2"/>
<line x1="482.2" y1="35.8" x2="476.4" y2="35.0" stroke="#e0e000" stroke-width="2.2"/>
<line x1="468.9" y1="38.0" x2="476.4" y2="35.0" stroke="#e0e000" stroke-width="2.2"/>
<line x1="482.8" y1="40.5" x2="477.6" y2="44.4" stroke="#e0e000" stroke-width="2.2"/>
<line x1="469.5" y1="42.7" x2="477.6" y2="44.4" stroke="#e0e000" stroke-width="2.2"/>
<line x1="483.5" y1="45.0" x2="479.0" y2="53.5" stroke="#e0e000" stroke-width="2.2"/>
<line x1="509.8" y1="40.7" x2="503.6" y2="39.9" stroke="#e0e000" stroke-width="2.2"/>
<line x1="495.8" y1="38.2" x2="503.6" y2="39.9" stroke="#e0e000" stroke-width="2.2"/>
<line x1="510.6" y1="45.2" x2="505.2" y2="49.0" stroke="#e0e000" stroke-width="2.2"/>
<line x1="496.6" y1="42.8" x2="505.2" y2="49.0" stroke="#e0e000" stroke-width="2.2"/>
<line x1="511.7" y1="49.4" x2="507.4" y2="57.2" stroke="#e0e000" stroke-width="2.2"/>
<line x1="520.1" y1="32.9" x2="524.2" y2="24.3" stroke="#e0e000" stroke-width="2.2"/>
<line x1="521.0" y1="37.5" x2="526.1" y2="33.6" stroke="#e0e000" stroke-width="2.2"/>
<line x1="524.9" y1="47.4" x2="533.8" y2="53.2" stroke="#e0e000" stroke-width="2.2"/>
<line x1="420.9" y1="70.0" x2="412.0" y2="63.9" stroke="#e0e000" stroke-width="2.2"/>
<line x1="434.1" y1="67.5" x2="438.3" y2="59.0" stroke="#e0e000" stroke-width="2.2"/>
<line x1="449.1" y1="74.0" x2="440.0" y2="68.3" stroke="#e0e000" stroke-width="2.2"/>
<line x1="450.9" y1="83.5" x2="441.9" y2="77.2" stroke="#e0e000" stroke-width="2.2"/>
<line x1="435.9" y1="76.6" x2="441.9" y2="77.2" stroke="#e0e000" stroke-width="2.2"/>
<line x1="424.7" y1="80.0" x2="419.6" y2="83.9" stroke="#e0e000" stroke-width="2.2"/>
<line x1="425.6" y1="84.2" x2="421.5" y2="92.5" stroke="#e0e000" stroke-width="2.2"/>
<line x1="438.9" y1="82.0" x2="448.0" y2="88.1" stroke="#e0e000" stroke-width="2.2"/>
<line x1="454.0" y1="88.9" x2="448.0" y2="88.1" stroke="#e0e000" stroke-width="2.2"/>
<line x1="454.8" y1="93.7" x2="449.5" y2="97.6" stroke="#e0e000" stroke-width="2.2"/>
<line x1="455.6" y1="98.0" x2="451.2" y2="106.3" stroke="#e0e000" stroke-width="2.2"/>
<line x1="475.5" y1="70.0" x2="466.3" y2="63.8" stroke="#e0e000" stroke-width="2.2"/>
<line x1="462.2" y1="71.8" x2="466.3" y2="63.8" stroke="#e0e000" stroke-width="2.2"/>
<line x1="463.1" y1="76.3" x2="468.1" y2="72.9" stroke="#e0e000" stroke-width="2.2"/>
<line x1="476.4" y1="74.6" x2="468.1" y2="72.9" stroke="#e0e000" stroke-width="2.2"/>
<line x1="478.3" y1="83.8" x2="469.9" y2="82.3" stroke="#e0e000" stroke-width="2.2"/>
<line x1="464.0" y1="81.0" x2="469.9" y2="82.3" stroke="#e0e000" stroke-width="2.2"/>
<line x1="489.0" y1="67.7" x2="493.3" y2="59.1" stroke="#e0e000" stroke-width="2.2"/>
<line x1="489.8" y1="72.2" x2="494.9" y2="68.3" stroke="#e0e000" stroke-width="2.2"/>
<line x1="505.7" y1="84.0" x2="496.7" y2="77.7" stroke="#e0e000" stroke-width="2.2"/>
<line x1="490.7" y1="77.0" x2="496.7" y2="77.7" stroke="#e0e000" stroke-width="2.2"/>
<line x1="480.9" y1="84.5" x2="475.1" y2="83.7" stroke="#e0e000" stroke-width="2.2"/>
<line x1="467.5" y1="86.7" x2="475.1" y2="83.7" stroke="#e0e000" stroke-width="2.2"/>
<line x1="481.5" y1="89.2" x2="476.3" y2="93.1" stroke="#e0e000" stroke-width="2.2"/>
<line x1="468.1" y1="91.4" x2="476.3" y2="93.1" stroke="#e0e000" stroke-width="2.2"/>
<line x1="482.2" y1="93.7" x2="477.7" y2="102.2" stroke="#e0e000" stroke-width="2.2"/>
<line x1="508.5" y1="89.4" x2="502.3" y2="88.6" stroke="#e0e000" stroke-width="2.2"/>
<line x1="494.5" y1="86.9" x2="502.3" y2="88.6" stroke="#e0e000" stroke-width="2.2"/>
<line x1="509.3" y1="94.0" x2="503.9" y2="97.7" stroke="#e0e000" stroke-width="2.2"/>
<line x1="495.3" y1="91.5" x2="503.9" y2="97.7" stroke="#e0e000" stroke-width="2.2"/>
<line x1="510.4" y1="98.1" x2="506.1" y2="105.9" stroke="#e0e000" stroke-width="2.2"/>
<line x1="518.8" y1="81.6" x2="522.9" y2="73.0" stroke="#e0e000" stroke-width="2.2"/>
<line x1="519.8" y1="86.2" x2="524.8" y2="82.3" stroke="#e0e000" stroke-width="2.2"/>
<line x1="523.6" y1="96.1" x2="532.5" y2="101.9" stroke="#e0e000" stroke-width="2.2"/>
<line x1="419.6" y1="118.7" x2="410.7" y2="112.6" stroke="#e0e000" stroke-width="2.2"/>
<line x1="432.8" y1="116.2" x2="437.0" y2="107.7" stroke="#e0e000" stroke-width="2.2"/>
<line x1="447.8" y1="122.7" x2="438.7" y2="117.0" stroke="#e0e000" stroke-width="2.2"/>
<line x1="449.6" y1="132.2" x2="440.6" y2="125.9" stroke="#e0e000" stroke-width="2.2"/>
<line x1="434.5" y1="125.3" x2="440.6" y2="125.9" stroke="#e0e000" stroke-width="2.2"/>
<line x1="423.4" y1="128.7" x2="418.3" y2="132.6" stroke="#e0e000" stroke-width="2.2"/>
<line x1="424.4" y1="132.9" x2="420.2" y2="141.2" stroke="#e0e000" stroke-width="2.2"/>
<line x1="437.6" y1="130.8" x2="446.7" y2="136.8" stroke="#e0e000" stroke-width="2.2"/>
<line x1="452.7" y1="137.6" x2="446.7" y2="136.8" stroke="#e0e000" stroke-width="2.2"/>
<line x1="453.4" y1="142.4" x2="448.2" y2="146.3" stroke="#e0e000" stroke-width="2.2"/>
<line x1="454.3" y1="146.7" x2="449.9" y2="155.0" stroke="#e0e000" stroke-width="2.2"/>
<line x1="474.2" y1="118.7" x2="465.0" y2="112.5" stroke="#e0e000" stroke-width="2.2"/>
<line x1="460.9" y1="120.5" x2="465.0" y2="112.5" stroke="#e0e000" stroke-width="2.2"/>
<line x1="461.8" y1="125.0" x2="466.8" y2="121.6" stroke="#e0e000" stroke-width="2.2"/>
<line x1="475.1" y1="123.2" x2="466.8" y2="121.6" stroke="#e0e000" stroke-width="2.2"/>
<line x1="477.0" y1="132.4" x2="468.6" y2="131.0" stroke="#e0e000" stroke-width="2.2"/>
<line x1="462.8" y1="129.7" x2="468.6" y2="131.0" stroke="#e0e000" stroke-width="2.2"/>
<line x1="487.7" y1="116.4" x2="492.0" y2="107.8" stroke="#e0e000" stroke-width="2.2"/>
<line x1="488.5" y1="121.0" x2="493.6" y2="117.0" stroke="#e0e000" stroke-width="2.2"/>
<line x1="504.4" y1="132.7" x2="495.4" y2="126.4" stroke="#e0e000" stroke-width="2.2"/>
<line x1="489.4" y1="125.7" x2="495.4" y2="126.4" stroke="#e0e000" stroke-width="2.2"/>
<line x1="479.6" y1="133.2" x2="473.8" y2="132.4" stroke="#e0e000" stroke-width="2.2"/>
<line x1="466.2" y1="135.4" x2="473.8" y2="132.4" stroke="#e0e000" stroke-width="2.2"/>
<line x1="480.2" y1="137.9" x2="475.0" y2="141.8" stroke="#e0e000" stroke-width="2.2"/>
<line x1="466.9" y1="140.1" x2="475.0" y2="141.8" stroke="#e0e000" stroke-width="2.2"/>
<line x1="480.9" y1="142.4" x2="476.4" y2="150.9" stroke="#e0e000" stroke-width="2.2"/>
<line x1="507.2" y1="138.1" x2="501.0" y2="137.3" stroke="#e0e000" stroke-width="2.2"/>
<line x1="493.2" y1="135.6" x2="501.0" y2="137.3" stroke="#e0e000" stroke-width="2.2"/>
<line x1="508.0" y1="142.7" x2="502.6" y2="146.4" stroke="#e0e000" stroke-width="2.2"/>
<line x1="494.0" y1="140.2" x2="502.6" y2="146.4" stroke="#e0e000" stroke-width="2.2"/>
<line x1="509.1" y1="146.8" x2="504.8" y2="154.6" stroke="#e0e000" stroke-width="2.2"/>
<line x1="517.5" y1="130.3" x2="521.6" y2="121.7" stroke="#e0e000" stroke-width="2.2"/>
<line x1="518.5" y1="134.9" x2="523.5" y2="131.0" stroke="#e0e000" stroke-width="2.2"/>
<line x1="522.3" y1="144.8" x2="531.2" y2="150.6" stroke="#e0e000" stroke-width="2.2"/>
<line x1="490.0" y1="60.0" x2="493.3" y2="59.1" stroke="#e0e000" stroke-width="2.2"/>
<line x1="482.9" y1="57.1" x2="479.0" y2="53.5" stroke="#e0e000" stroke-width="2.2"/>
<line x1="490.8" y1="64.6" x2="494.9" y2="68.3" stroke="#e0e000" stroke-width="2.2"/>
<line x1="482.1" y1="52.6" x2="477.6" y2="44.4" stroke="#e0e000" stroke-width="2.2"/>
<line x1="491.7" y1="69.2" x2="496.7" y2="77.7" stroke="#e0e000" stroke-width="2.2"/>
<line x1="476.5" y1="62.3" x2="466.3" y2="63.8" stroke="#e0e000" stroke-width="2.2"/>
<line x1="454.7" y1="105.0" x2="451.2" y2="106.3" stroke="#e0e000" stroke-width="2.2"/>
<line x1="453.9" y1="100.6" x2="449.5" y2="97.6" stroke="#e0e000" stroke-width="2.2"/>
<line x1="461.6" y1="108.0" x2="465.0" y2="112.5" stroke="#e0e000" stroke-width="2.2"/>
<line x1="453.1" y1="95.8" x2="448.0" y2="88.1" stroke="#e0e000" stroke-width="2.2"/>
<line x1="467.9" y1="102.9" x2="477.7" y2="102.2" stroke="#e0e000" stroke-width="2.2"/>
<line x1="462.5" y1="112.6" x2="466.8" y2="121.6" stroke="#e0e000" stroke-width="2.2"/>
<line x1="431.1" y1="27.3" x2="422.2" y2="21.2" stroke="#10109a" stroke-width="2.2"/>
<line x1="431.1" y1="27.3" x2="435.4" y2="18.8" stroke="#10109a" stroke-width="2.2"/>
<line x1="459.5" y1="31.0" x2="450.4" y2="25.3" stroke="#10109a" stroke-width="2.2"/>
<line x1="461.3" y1="41.0" x2="452.2" y2="34.8" stroke="#10109a" stroke-width="2.2"/>
<line x1="431.1" y1="27.3" x2="437.1" y2="27.9" stroke="#10109a" stroke-width="2.2"/>
<line x1="431.1" y1="27.3" x2="426.0" y2="31.2" stroke="#10109a" stroke-width="2.2"/>
<line x1="431.1" y1="27.3" x2="427.0" y2="35.5" stroke="#10109a" stroke-width="2.2"/>
<line x1="431.1" y1="27.3" x2="440.2" y2="33.4" stroke="#10109a" stroke-width="2.2"/>
<line x1="461.3" y1="41.0" x2="455.3" y2="40.2" stroke="#10109a" stroke-width="2.2"/>
<line x1="461.3" y1="41.0" x2="456.1" y2="45.0" stroke="#10109a" stroke-width="2.2"/>
<line x1="461.3" y1="41.0" x2="456.9" y2="49.3" stroke="#10109a" stroke-width="2.2"/>
<line x1="486.0" y1="27.5" x2="476.8" y2="21.3" stroke="#10109a" stroke-width="2.2"/>
<line x1="459.5" y1="31.0" x2="463.6" y2="23.1" stroke="#10109a" stroke-width="2.2"/>
<line x1="459.5" y1="31.0" x2="464.4" y2="27.6" stroke="#10109a" stroke-width="2.2"/>
<line x1="486.0" y1="27.5" x2="477.7" y2="25.9" stroke="#10109a" stroke-width="2.2"/>
<line x1="488.0" y1="36.5" x2="479.6" y2="35.0" stroke="#10109a" stroke-width="2.2"/>
<line x1="459.5" y1="31.0" x2="465.4" y2="32.3" stroke="#10109a" stroke-width="2.2"/>
<line x1="486.0" y1="27.5" x2="490.3" y2="18.9" stroke="#10109a" stroke-width="2.2"/>
<line x1="486.0" y1="27.5" x2="491.1" y2="23.6" stroke="#10109a" stroke-width="2.2"/>
<line x1="516.0" y1="41.5" x2="507.0" y2="35.2" stroke="#10109a" stroke-width="2.2"/>
<line x1="486.0" y1="27.5" x2="492.0" y2="28.2" stroke="#10109a" stroke-width="2.2"/>
<line x1="488.0" y1="36.5" x2="482.2" y2="35.8" stroke="#10109a" stroke-width="2.2"/>
<line x1="461.3" y1="41.0" x2="468.9" y2="38.0" stroke="#10109a" stroke-width="2.2"/>
<line x1="488.0" y1="36.5" x2="482.8" y2="40.5" stroke="#10109a" stroke-width="2.2"/>
<line x1="461.3" y1="41.0" x2="469.5" y2="42.7" stroke="#10109a" stroke-width="2.2"/>
<line x1="488.0" y1="36.5" x2="483.5" y2="45.0" stroke="#10109a" stroke-width="2.2"/>
<line x1="516.0" y1="41.5" x2="509.8" y2="40.7" stroke="#10109a" stroke-width="2.2"/>
<line x1="488.0" y1="36.5" x2="495.8" y2="38.2" stroke="#10109a" stroke-width="2.2"/>
<line x1="516.0" y1="41.5" x2="510.6" y2="45.2" stroke="#10109a" stroke-width="2.2"/>
<line x1="488.0" y1="36.5" x2="496.6" y2="42.8" stroke="#10109a" stroke-width="2.2"/>
<line x1="516.0" y1="41.5" x2="511.7" y2="49.4" stroke="#10109a" stroke-width="2.2"/>
<line x1="516.0" y1="41.5" x2="520.1" y2="32.9" stroke="#10109a" stroke-width="2.2"/>
<line x1="516.0" y1="41.5" x2="521.0" y2="37.5" stroke="#10109a" stroke-width="2.2"/>
<line x1="516.0" y1="41.5" x2="524.9" y2="47.4" stroke="#10109a" stroke-width="2.2"/>
<line x1="429.8" y1="76.0" x2="420.9" y2="70.0" stroke="#10109a" stroke-width="2.2"/>
<line x1="429.8" y1="76.0" x2="434.1" y2="67.5" stroke="#10109a" stroke-width="2.2"/>
<line x1="458.2" y1="79.7" x2="449.1" y2="74.0" stroke="#10109a" stroke-width="2.2"/>
<line x1="460.0" y1="89.7" x2="450.9" y2="83.5" stroke="#10109a" stroke-width="2.2"/>
<line x1="429.8" y1="76.0" x2="435.9" y2="76.6" stroke="#10109a" stroke-width="2.2"/>
<line x1="429.8" y1="76.0" x2="424.7" y2="80.0" stroke="#10109a" stroke-width="2.2"/>
<line x1="429.8" y1="76.0" x2="425.6" y2="84.2" stroke="#10109a" stroke-width="2.2"/>
<line x1="429.8" y1="76.0" x2="438.9" y2="82.0" stroke="#10109a" stroke-width="2.2"/>
<line x1="460.0" y1="89.7" x2="454.0" y2="88.9" stroke="#10109a" stroke-width="2.2"/>
<line x1="460.0" y1="89.7" x2="454.8" y2="93.7" stroke="#10109a" stroke-width="2.2"/>
<line x1="460.0" y1="89.7" x2="455.6" y2="98.0" stroke="#10109a" stroke-width="2.2"/>
<line x1="484.7" y1="76.2" x2="475.5" y2="70.0" stroke="#10109a" stroke-width="2.2"/>
<line x1="458.2" y1="79.7" x2="462.2" y2="71.8" stroke="#10109a" stroke-width="2.2"/>
<line x1="458.2" y1="79.7" x2="463.1" y2="76.3" stroke="#10109a" stroke-width="2.2"/>
<line x1="484.7" y1="76.2" x2="476.4" y2="74.6" stroke="#10109a" stroke-width="2.2"/>
<line x1="486.7" y1="85.2" x2="478.3" y2="83.8" stroke="#10109a" stroke-width="2.2"/>
<line x1="458.2" y1="79.7" x2="464.0" y2="81.0" stroke="#10109a" stroke-width="2.2"/>
<line x1="484.7" y1="76.2" x2="489.0" y2="67.7" stroke="#10109a" stroke-width="2.2"/>
<line x1="484.7" y1="76.2" x2="489.8" y2="72.2" stroke="#10109a" stroke-width="2.2"/>
<line x1="514.7" y1="90.2" x2="505.7" y2="84.0" stroke="#10109a" stroke-width="2.2"/>
<line x1="484.7" y1="76.2" x2="490.7" y2="77.0" stroke="#10109a" stroke-width="2.2"/>
<line x1="486.7" y1="85.2" x2="480.9" y2="84.5" stroke="#10109a" stroke-width="2.2"/>
<line x1="460.0" y1="89.7" x2="467.5" y2="86.7" stroke="#10109a" stroke-width="2.2"/>
<line x1="486.7" y1="85.2" x2="481.5" y2="89.2" stroke="#10109a" stroke-width="2.2"/>
<line x1="460.0" y1="89.7" x2="468.1" y2="91.4" stroke="#10109a" stroke-width="2.2"/>
<line x1="486.7" y1="85.2" x2="482.2" y2="93.7" stroke="#10109a" stroke-width="2.2"/>
<line x1="514.7" y1="90.2" x2="508.5" y2="89.4" stroke="#10109a" stroke-width="2.2"/>
<line x1="486.7" y1="85.2" x2="494.5" y2="86.9" stroke="#10109a" stroke-width="2.2"/>
<line x1="514.7" y1="90.2" x2="509.3" y2="94.0" stroke="#10109a" stroke-width="2.2"/>
<line x1="486.7" y1="85.2" x2="495.3" y2="91.5" stroke="#10109a" stroke-width="2.2"/>
<line x1="514.7" y1="90.2" x2="510.4" y2="98.1" stroke="#10109a" stroke-width="2.2"/>
<line x1="514.7" y1="90.2" x2="518.8" y2="81.6" stroke="#10109a" stroke-width="2.2"/>
<line x1="514.7" y1="90.2" x2="519.8" y2="86.2" stroke="#10109a" stroke-width="2.2"/>
<line x1="514.7" y1="90.2" x2="523.6" y2="96.1" stroke="#10109a" stroke-width="2.2"/>
<line x1="428.5" y1="124.7" x2="419.6" y2="118.7" stroke="#10109a" stroke-width="2.2"/>
<line x1="428.5" y1="124.7" x2="432.8" y2="116.2" stroke="#10109a" stroke-width="2.2"/>
<line x1="456.9" y1="128.4" x2="447.8" y2="122.7" stroke="#10109a" stroke-width="2.2"/>
<line x1="458.7" y1="138.4" x2="449.6" y2="132.2" stroke="#10109a" stroke-width="2.2"/>
<line x1="428.5" y1="124.7" x2="434.5" y2="125.3" stroke="#10109a" stroke-width="2.2"/>
<line x1="428.5" y1="124.7" x2="423.4" y2="128.7" stroke="#10109a" stroke-width="2.2"/>
<line x1="428.5" y1="124.7" x2="424.4" y2="132.9" stroke="#10109a" stroke-width="2.2"/>
<line x1="428.5" y1="124.7" x2="437.6" y2="130.8" stroke="#10109a" stroke-width="2.2"/>
<line x1="458.7" y1="138.4" x2="452.7" y2="137.6" stroke="#10109a" stroke-width="2.2"/>
<line x1="458.7" y1="138.4" x2="453.4" y2="142.4" stroke="#10109a" stroke-width="2.2"/>
<line x1="458.7" y1="138.4" x2="454.3" y2="146.7" stroke="#10109a" stroke-width="2.2"/>
<line x1="483.4" y1="124.9" x2="474.2" y2="118.7" stroke="#10109a" stroke-width="2.2"/>
<line x1="456.9" y1="128.4" x2="460.9" y2="120.5" stroke="#10109a" stroke-width="2.2"/>
<line x1="456.9" y1="128.4" x2="461.8" y2="125.0" stroke="#10109a" stroke-width="2.2"/>
<line x1="483.4" y1="124.9" x2="475.1" y2="123.2" stroke="#10109a" stroke-width="2.2"/>
<line x1="485.4" y1="133.9" x2="477.0" y2="132.4" stroke="#10109a" stroke-width="2.2"/>
<line x1="456.9" y1="128.4" x2="462.8" y2="129.7" stroke="#10109a" stroke-width="2.2"/>
<line x1="483.4" y1="124.9" x2="487.7" y2="116.4" stroke="#10109a" stroke-width="2.2"/>
<line x1="483.4" y1="124.9" x2="488.5" y2="121.0" stroke="#10109a" stroke-width="2.2"/>
<line x1="513.4" y1="138.9" x2="504.4" y2="132.7" stroke="#10109a" stroke-width="2.2"/>
<line x1="483.4" y1="124.9" x2="489.4" y2="125.7" stroke="#10109a" stroke-width="2.2"/>
<line x1="485.4" y1="133.9" x2="479.6" y2="133.2" stroke="#10109a" stroke-width="2.2"/>
<line x1="458.7" y1="138.4" x2="466.2" y2="135.4" stroke="#10109a" stroke-width="2.2"/>
<line x1="485.4" y1="133.9" x2="480.2" y2="137.9" stroke="#10109a" stroke-width="2.2"/>
<line x1="458.7" y1="138.4" x2="466.9" y2="140.1" stroke="#10109a" stroke-width="2.2"/>
<line x1="485.4" y1="133.9" x2="480.9" y2="142.4" stroke="#10109a" stroke-width="2.2"/>
<line x1="513.4" y1="138.9" x2="507.2" y2="138.1" stroke="#10109a" stroke-width="2.2"/>
<line x1="485.4" y1="133.9" x2="493.2" y2="135.6" stroke="#10109a" stroke-width="2.2"/>
<line x1="513.4" y1="138.9" x2="508.0" y2="142.7" stroke="#10109a" stroke-width="2.2"/>
<line x1="485.4" y1="133.9" x2="494.0" y2="140.2" stroke="#10109a" stroke-width="2.2"/>
<line x1="513.4" y1="138.9" x2="509.1" y2="146.8" stroke="#10109a" stroke-width="2.2"/>
<line x1="513.4" y1="138.9" x2="517.5" y2="130.3" stroke="#10109a" stroke-width="2.2"/>
<line x1="513.4" y1="138.9" x2="518.5" y2="134.9" stroke="#10109a" stroke-width="2.2"/>
<line x1="513.4" y1="138.9" x2="522.3" y2="144.8" stroke="#10109a" stroke-width="2.2"/>
<line x1="486.7" y1="60.8" x2="490.0" y2="60.0" stroke="#10109a" stroke-width="2.2"/>
<line x1="486.7" y1="60.8" x2="482.9" y2="57.1" stroke="#10109a" stroke-width="2.2"/>
<line x1="486.7" y1="60.8" x2="490.8" y2="64.6" stroke="#10109a" stroke-width="2.2"/>
<line x1="486.7" y1="60.8" x2="482.1" y2="52.6" stroke="#10109a" stroke-width="2.2"/>
<line x1="486.7" y1="60.8" x2="491.7" y2="69.2" stroke="#10109a" stroke-width="2.2"/>
<line x1="486.7" y1="60.8" x2="476.5" y2="62.3" stroke="#10109a" stroke-width="2.2"/>
<line x1="458.2" y1="103.6" x2="454.7" y2="105.0" stroke="#10109a" stroke-width="2.2"/>
<line x1="458.2" y1="103.6" x2="453.9" y2="100.6" stroke="#10109a" stroke-width="2.2"/>
<line x1="458.2" y1="103.6" x2="461.6" y2="108.0" stroke="#10109a" stroke-width="2.2"/>
<line x1="458.2" y1="103.6" x2="453.1" y2="95.8" stroke="#10109a" stroke-width="2.2"/>
<line x1="458.2" y1="103.6" x2="467.9" y2="102.9" stroke="#10109a" stroke-width="2.2"/>
<line x1="458.2" y1="103.6" x2="462.5" y2="112.6" stroke="#10109a" stroke-width="2.2"/>
<circle cx="413.3" cy="15.2" r="3.75" fill="url(#gS)" stroke="#b0a010" stroke-width="0.6"/>
<circle cx="439.6" cy="10.3" r="3.75" fill="url(#gS)" stroke="#b0a010" stroke-width="0.6"/>
<circle cx="441.3" cy="19.6" r="3.75" fill="url(#gS)" stroke="#b0a010" stroke-width="0.6"/>
<circle cx="443.2" cy="28.5" r="3.75" fill="url(#gS)" stroke="#b0a010" stroke-width="0.6"/>
<circle cx="420.9" cy="35.2" r="3.75" fill="url(#gS)" stroke="#b0a010" stroke-width="0.6"/>
<circle cx="422.8" cy="43.8" r="3.75" fill="url(#gS)" stroke="#b0a010" stroke-width="0.6"/>
<circle cx="449.3" cy="39.4" r="3.75" fill="url(#gS)" stroke="#b0a010" stroke-width="0.6"/>
<circle cx="450.8" cy="48.9" r="3.75" fill="url(#gS)" stroke="#b0a010" stroke-width="0.6"/>
<circle cx="452.5" cy="57.6" r="3.75" fill="url(#gS)" stroke="#b0a010" stroke-width="0.6"/>
<circle cx="467.6" cy="15.1" r="3.75" fill="url(#gS)" stroke="#b0a010" stroke-width="0.6"/>
<circle cx="469.4" cy="24.2" r="3.75" fill="url(#gS)" stroke="#b0a010" stroke-width="0.6"/>
<circle cx="471.2" cy="33.6" r="3.75" fill="url(#gS)" stroke="#b0a010" stroke-width="0.6"/>
<circle cx="494.6" cy="10.4" r="3.75" fill="url(#gS)" stroke="#b0a010" stroke-width="0.6"/>
<circle cx="496.2" cy="19.6" r="3.75" fill="url(#gS)" stroke="#b0a010" stroke-width="0.6"/>
<circle cx="498.0" cy="29.0" r="3.75" fill="url(#gS)" stroke="#b0a010" stroke-width="0.6"/>
<circle cx="476.4" cy="35.0" r="3.75" fill="url(#gS)" stroke="#b0a010" stroke-width="0.6"/>
<circle cx="477.6" cy="44.4" r="3.75" fill="url(#gS)" stroke="#b0a010" stroke-width="0.6"/>
<circle cx="479.0" cy="53.5" r="3.75" fill="url(#gS)" stroke="#b0a010" stroke-width="0.6"/>
<circle cx="503.6" cy="39.9" r="3.75" fill="url(#gS)" stroke="#b0a010" stroke-width="0.6"/>
<circle cx="505.2" cy="49.0" r="3.75" fill="url(#gS)" stroke="#b0a010" stroke-width="0.6"/>
<circle cx="507.4" cy="57.2" r="3.75" fill="url(#gS)" stroke="#b0a010" stroke-width="0.6"/>
<circle cx="524.2" cy="24.3" r="3.75" fill="url(#gS)" stroke="#b0a010" stroke-width="0.6"/>
<circle cx="526.1" cy="33.6" r="3.75" fill="url(#gS)" stroke="#b0a010" stroke-width="0.6"/>
<circle cx="533.8" cy="53.2" r="3.75" fill="url(#gS)" stroke="#b0a010" stroke-width="0.6"/>
<circle cx="412.0" cy="63.9" r="3.75" fill="url(#gS)" stroke="#b0a010" stroke-width="0.6"/>
<circle cx="438.3" cy="59.0" r="3.75" fill="url(#gS)" stroke="#b0a010" stroke-width="0.6"/>
<circle cx="440.0" cy="68.3" r="3.75" fill="url(#gS)" stroke="#b0a010" stroke-width="0.6"/>
<circle cx="441.9" cy="77.2" r="3.75" fill="url(#gS)" stroke="#b0a010" stroke-width="0.6"/>
<circle cx="419.6" cy="83.9" r="3.75" fill="url(#gS)" stroke="#b0a010" stroke-width="0.6"/>
<circle cx="421.5" cy="92.5" r="3.75" fill="url(#gS)" stroke="#b0a010" stroke-width="0.6"/>
<circle cx="448.0" cy="88.1" r="3.75" fill="url(#gS)" stroke="#b0a010" stroke-width="0.6"/>
<circle cx="449.5" cy="97.6" r="3.75" fill="url(#gS)" stroke="#b0a010" stroke-width="0.6"/>
<circle cx="451.2" cy="106.3" r="3.75" fill="url(#gS)" stroke="#b0a010" stroke-width="0.6"/>
<circle cx="466.3" cy="63.8" r="3.75" fill="url(#gS)" stroke="#b0a010" stroke-width="0.6"/>
<circle cx="468.1" cy="72.9" r="3.75" fill="url(#gS)" stroke="#b0a010" stroke-width="0.6"/>
<circle cx="469.9" cy="82.3" r="3.75" fill="url(#gS)" stroke="#b0a010" stroke-width="0.6"/>
<circle cx="493.3" cy="59.1" r="3.75" fill="url(#gS)" stroke="#b0a010" stroke-width="0.6"/>
<circle cx="494.9" cy="68.3" r="3.75" fill="url(#gS)" stroke="#b0a010" stroke-width="0.6"/>
<circle cx="496.7" cy="77.7" r="3.75" fill="url(#gS)" stroke="#b0a010" stroke-width="0.6"/>
<circle cx="475.1" cy="83.7" r="3.75" fill="url(#gS)" stroke="#b0a010" stroke-width="0.6"/>
<circle cx="476.3" cy="93.1" r="3.75" fill="url(#gS)" stroke="#b0a010" stroke-width="0.6"/>
<circle cx="477.7" cy="102.2" r="3.75" fill="url(#gS)" stroke="#b0a010" stroke-width="0.6"/>
<circle cx="502.3" cy="88.6" r="3.75" fill="url(#gS)" stroke="#b0a010" stroke-width="0.6"/>
<circle cx="503.9" cy="97.7" r="3.75" fill="url(#gS)" stroke="#b0a010" stroke-width="0.6"/>
<circle cx="506.1" cy="105.9" r="3.75" fill="url(#gS)" stroke="#b0a010" stroke-width="0.6"/>
<circle cx="522.9" cy="73.0" r="3.75" fill="url(#gS)" stroke="#b0a010" stroke-width="0.6"/>
<circle cx="524.8" cy="82.3" r="3.75" fill="url(#gS)" stroke="#b0a010" stroke-width="0.6"/>
<circle cx="532.5" cy="101.9" r="3.75" fill="url(#gS)" stroke="#b0a010" stroke-width="0.6"/>
<circle cx="410.7" cy="112.6" r="3.75" fill="url(#gS)" stroke="#b0a010" stroke-width="0.6"/>
<circle cx="437.0" cy="107.7" r="3.75" fill="url(#gS)" stroke="#b0a010" stroke-width="0.6"/>
<circle cx="438.7" cy="117.0" r="3.75" fill="url(#gS)" stroke="#b0a010" stroke-width="0.6"/>
<circle cx="440.6" cy="125.9" r="3.75" fill="url(#gS)" stroke="#b0a010" stroke-width="0.6"/>
<circle cx="418.3" cy="132.6" r="3.75" fill="url(#gS)" stroke="#b0a010" stroke-width="0.6"/>
<circle cx="420.2" cy="141.2" r="3.75" fill="url(#gS)" stroke="#b0a010" stroke-width="0.6"/>
<circle cx="446.7" cy="136.8" r="3.75" fill="url(#gS)" stroke="#b0a010" stroke-width="0.6"/>
<circle cx="448.2" cy="146.3" r="3.75" fill="url(#gS)" stroke="#b0a010" stroke-width="0.6"/>
<circle cx="449.9" cy="155.0" r="3.75" fill="url(#gS)" stroke="#b0a010" stroke-width="0.6"/>
<circle cx="465.0" cy="112.5" r="3.75" fill="url(#gS)" stroke="#b0a010" stroke-width="0.6"/>
<circle cx="466.8" cy="121.6" r="3.75" fill="url(#gS)" stroke="#b0a010" stroke-width="0.6"/>
<circle cx="468.6" cy="131.0" r="3.75" fill="url(#gS)" stroke="#b0a010" stroke-width="0.6"/>
<circle cx="492.0" cy="107.8" r="3.75" fill="url(#gS)" stroke="#b0a010" stroke-width="0.6"/>
<circle cx="493.6" cy="117.0" r="3.75" fill="url(#gS)" stroke="#b0a010" stroke-width="0.6"/>
<circle cx="495.4" cy="126.4" r="3.75" fill="url(#gS)" stroke="#b0a010" stroke-width="0.6"/>
<circle cx="473.8" cy="132.4" r="3.75" fill="url(#gS)" stroke="#b0a010" stroke-width="0.6"/>
<circle cx="475.0" cy="141.8" r="3.75" fill="url(#gS)" stroke="#b0a010" stroke-width="0.6"/>
<circle cx="476.4" cy="150.9" r="3.75" fill="url(#gS)" stroke="#b0a010" stroke-width="0.6"/>
<circle cx="501.0" cy="137.3" r="3.75" fill="url(#gS)" stroke="#b0a010" stroke-width="0.6"/>
<circle cx="502.6" cy="146.4" r="3.75" fill="url(#gS)" stroke="#b0a010" stroke-width="0.6"/>
<circle cx="504.8" cy="154.6" r="3.75" fill="url(#gS)" stroke="#b0a010" stroke-width="0.6"/>
<circle cx="521.6" cy="121.7" r="3.75" fill="url(#gS)" stroke="#b0a010" stroke-width="0.6"/>
<circle cx="523.5" cy="131.0" r="3.75" fill="url(#gS)" stroke="#b0a010" stroke-width="0.6"/>
<circle cx="531.2" cy="150.6" r="3.75" fill="url(#gS)" stroke="#b0a010" stroke-width="0.6"/>
<circle cx="431.1" cy="27.3" r="5.1" fill="url(#gCr)"/>
<circle cx="459.5" cy="31.0" r="5.1" fill="url(#gCr)"/>
<circle cx="461.3" cy="41.0" r="5.1" fill="url(#gCr)"/>
<circle cx="486.0" cy="27.5" r="5.1" fill="url(#gCr)"/>
<circle cx="488.0" cy="36.5" r="5.1" fill="url(#gCr)"/>
<circle cx="516.0" cy="41.5" r="5.1" fill="url(#gCr)"/>
<circle cx="429.8" cy="76.0" r="5.1" fill="url(#gCr)"/>
<circle cx="458.2" cy="79.7" r="5.1" fill="url(#gCr)"/>
<circle cx="460.0" cy="89.7" r="5.1" fill="url(#gCr)"/>
<circle cx="484.7" cy="76.2" r="5.1" fill="url(#gCr)"/>
<circle cx="486.7" cy="85.2" r="5.1" fill="url(#gCr)"/>
<circle cx="514.7" cy="90.2" r="5.1" fill="url(#gCr)"/>
<circle cx="428.5" cy="124.7" r="5.1" fill="url(#gCr)"/>
<circle cx="456.9" cy="128.4" r="5.1" fill="url(#gCr)"/>
<circle cx="458.7" cy="138.4" r="5.1" fill="url(#gCr)"/>
<circle cx="483.4" cy="124.9" r="5.1" fill="url(#gCr)"/>
<circle cx="485.4" cy="133.9" r="5.1" fill="url(#gCr)"/>
<circle cx="513.4" cy="138.9" r="5.1" fill="url(#gCr)"/>
<circle cx="486.7" cy="60.8" r="5.1" fill="url(#gCr)"/>
<circle cx="458.2" cy="103.6" r="5.1" fill="url(#gCr)"/>
<line x1="431.1" y1="21.3" x2="431.1" y2="31.3" stroke="#22e022" stroke-width="2"/>
<polygon points="431.1,36.8 427.8,31.3 434.4,31.3" fill="#22e022"/>
<line x1="459.5" y1="25.0" x2="459.5" y2="35.0" stroke="#22e022" stroke-width="2"/>
<polygon points="459.5,40.5 456.2,35.0 462.8,35.0" fill="#22e022"/>
<line x1="461.3" y1="35.0" x2="461.3" y2="45.0" stroke="#22e022" stroke-width="2"/>
<polygon points="461.3,50.5 458.0,45.0 464.6,45.0" fill="#22e022"/>
<line x1="486.0" y1="21.5" x2="486.0" y2="31.5" stroke="#22e022" stroke-width="2"/>
<polygon points="486.0,37.0 482.7,31.5 489.3,31.5" fill="#22e022"/>
<line x1="488.0" y1="33.5" x2="488.0" y2="43.5" stroke="#22e022" stroke-width="2"/>
<polygon points="488.0,49.0 484.7,43.5 491.3,43.5" fill="#22e022"/>
<line x1="516.0" y1="35.5" x2="516.0" y2="45.5" stroke="#22e022" stroke-width="2"/>
<polygon points="516.0,51.0 512.7,45.5 519.3,45.5" fill="#22e022"/>
<line x1="429.8" y1="82.0" x2="429.8" y2="72.0" stroke="#ff6a1c" stroke-width="2"/>
<polygon points="429.8,66.5 426.5,72.0 433.1,72.0" fill="#ff6a1c"/>
<line x1="458.2" y1="85.7" x2="458.2" y2="75.7" stroke="#ff6a1c" stroke-width="2"/>
<polygon points="458.2,70.2 454.9,75.7 461.5,75.7" fill="#ff6a1c"/>
<line x1="460.0" y1="95.7" x2="460.0" y2="85.7" stroke="#ff6a1c" stroke-width="2"/>
<polygon points="460.0,80.2 456.7,85.7 463.3,85.7" fill="#ff6a1c"/>
<line x1="484.7" y1="82.2" x2="484.7" y2="72.2" stroke="#ff6a1c" stroke-width="2"/>
<polygon points="484.7,66.7 481.4,72.2 488.0,72.2" fill="#ff6a1c"/>
<line x1="486.7" y1="94.2" x2="486.7" y2="84.2" stroke="#ff6a1c" stroke-width="2"/>
<polygon points="486.7,78.7 483.4,84.2 490.0,84.2" fill="#ff6a1c"/>
<line x1="514.7" y1="96.2" x2="514.7" y2="86.2" stroke="#ff6a1c" stroke-width="2"/>
<polygon points="514.7,80.7 511.4,86.2 518.0,86.2" fill="#ff6a1c"/>
<line x1="428.5" y1="118.7" x2="428.5" y2="128.7" stroke="#22e022" stroke-width="2"/>
<polygon points="428.5,134.2 425.2,128.7 431.8,128.7" fill="#22e022"/>
<line x1="456.9" y1="122.4" x2="456.9" y2="132.4" stroke="#22e022" stroke-width="2"/>
<polygon points="456.9,137.9 453.6,132.4 460.2,132.4" fill="#22e022"/>
<line x1="458.7" y1="132.4" x2="458.7" y2="142.4" stroke="#22e022" stroke-width="2"/>
<polygon points="458.7,147.9 455.4,142.4 462.0,142.4" fill="#22e022"/>
<line x1="483.4" y1="118.9" x2="483.4" y2="128.9" stroke="#22e022" stroke-width="2"/>
<polygon points="483.4,134.4 480.1,128.9 486.7,128.9" fill="#22e022"/>
<line x1="485.4" y1="130.9" x2="485.4" y2="140.9" stroke="#22e022" stroke-width="2"/>
<polygon points="485.4,146.4 482.1,140.9 488.7,140.9" fill="#22e022"/>
<line x1="513.4" y1="132.9" x2="513.4" y2="142.9" stroke="#22e022" stroke-width="2"/>
<polygon points="513.4,148.4 510.1,142.9 516.7,142.9" fill="#22e022"/>
<line x1="486.7" y1="54.8" x2="486.7" y2="64.8" stroke="#22e022" stroke-width="2"/>
<polygon points="486.7,70.3 483.4,64.8 490.0,64.8" fill="#22e022"/>
<line x1="458.2" y1="109.6" x2="458.2" y2="99.6" stroke="#ff6a1c" stroke-width="2"/>
<polygon points="458.2,94.1 454.9,99.6 461.5,99.6" fill="#ff6a1c"/>
</g>
<g transform="translate(1.30,357.40)">
<line x1="431.1" y1="27.3" x2="428.5" y2="124.7" stroke="#c4c4c4" stroke-width="1"/>
<line x1="461.3" y1="41.0" x2="458.7" y2="138.4" stroke="#c4c4c4" stroke-width="1"/>
<line x1="486.0" y1="27.5" x2="483.4" y2="124.9" stroke="#c4c4c4" stroke-width="1"/>
<line x1="516.0" y1="41.5" x2="513.4" y2="138.9" stroke="#c4c4c4" stroke-width="1"/>
<polygon points="431.1,27.3 461.3,41.0 516.0,41.5 486.0,27.5" fill="none" stroke="#c8c8c8" stroke-width="0.9"/>
<polygon points="428.5,124.7 458.7,138.4 513.4,138.9 483.4,124.9" fill="none" stroke="#c8c8c8" stroke-width="0.9"/>
<line x1="422.2" y1="21.2" x2="413.3" y2="15.2" stroke="#e0e000" stroke-width="2.2"/>
<line x1="435.4" y1="18.8" x2="439.6" y2="10.3" stroke="#e0e000" stroke-width="2.2"/>
<line x1="450.4" y1="25.3" x2="441.3" y2="19.6" stroke="#e0e000" stroke-width="2.2"/>
<line x1="452.2" y1="34.8" x2="443.2" y2="28.5" stroke="#e0e000" stroke-width="2.2"/>
<line x1="437.1" y1="27.9" x2="443.2" y2="28.5" stroke="#e0e000" stroke-width="2.2"/>
<line x1="426.0" y1="31.2" x2="420.9" y2="35.2" stroke="#e0e000" stroke-width="2.2"/>
<line x1="427.0" y1="35.5" x2="422.8" y2="43.8" stroke="#e0e000" stroke-width="2.2"/>
<line x1="440.2" y1="33.4" x2="449.3" y2="39.4" stroke="#e0e000" stroke-width="2.2"/>
<line x1="455.3" y1="40.2" x2="449.3" y2="39.4" stroke="#e0e000" stroke-width="2.2"/>
<line x1="456.1" y1="45.0" x2="450.8" y2="48.9" stroke="#e0e000" stroke-width="2.2"/>
<line x1="456.9" y1="49.3" x2="452.5" y2="57.6" stroke="#e0e000" stroke-width="2.2"/>
<line x1="476.8" y1="21.3" x2="467.6" y2="15.1" stroke="#e0e000" stroke-width="2.2"/>
<line x1="463.6" y1="23.1" x2="467.6" y2="15.1" stroke="#e0e000" stroke-width="2.2"/>
<line x1="464.4" y1="27.6" x2="469.4" y2="24.2" stroke="#e0e000" stroke-width="2.2"/>
<line x1="477.7" y1="25.9" x2="469.4" y2="24.2" stroke="#e0e000" stroke-width="2.2"/>
<line x1="479.6" y1="35.0" x2="471.2" y2="33.6" stroke="#e0e000" stroke-width="2.2"/>
<line x1="465.4" y1="32.3" x2="471.2" y2="33.6" stroke="#e0e000" stroke-width="2.2"/>
<line x1="490.3" y1="18.9" x2="494.6" y2="10.4" stroke="#e0e000" stroke-width="2.2"/>
<line x1="491.1" y1="23.6" x2="496.2" y2="19.6" stroke="#e0e000" stroke-width="2.2"/>
<line x1="507.0" y1="35.2" x2="498.0" y2="29.0" stroke="#e0e000" stroke-width="2.2"/>
<line x1="492.0" y1="28.2" x2="498.0" y2="29.0" stroke="#e0e000" stroke-width="2.2"/>
<line x1="482.2" y1="35.8" x2="476.4" y2="35.0" stroke="#e0e000" stroke-width="2.2"/>
<line x1="468.9" y1="38.0" x2="476.4" y2="35.0" stroke="#e0e000" stroke-width="2.2"/>
<line x1="482.8" y1="40.5" x2="477.6" y2="44.4" stroke="#e0e000" stroke-width="2.2"/>
<line x1="469.5" y1="42.7" x2="477.6" y2="44.4" stroke="#e0e000" stroke-width="2.2"/>
<line x1="483.5" y1="45.0" x2="479.0" y2="53.5" stroke="#e0e000" stroke-width="2.2"/>
<line x1="509.8" y1="40.7" x2="503.6" y2="39.9" stroke="#e0e000" stroke-width="2.2"/>
<line x1="495.8" y1="38.2" x2="503.6" y2="39.9" stroke="#e0e000" stroke-width="2.2"/>
<line x1="510.6" y1="45.2" x2="505.2" y2="49.0" stroke="#e0e000" stroke-width="2.2"/>
<line x1="496.6" y1="42.8" x2="505.2" y2="49.0" stroke="#e0e000" stroke-width="2.2"/>
<line x1="511.7" y1="49.4" x2="507.4" y2="57.2" stroke="#e0e000" stroke-width="2.2"/>
<line x1="520.1" y1="32.9" x2="524.2" y2="24.3" stroke="#e0e000" stroke-width="2.2"/>
<line x1="521.0" y1="37.5" x2="526.1" y2="33.6" stroke="#e0e000" stroke-width="2.2"/>
<line x1="524.9" y1="47.4" x2="533.8" y2="53.2" stroke="#e0e000" stroke-width="2.2"/>
<line x1="420.9" y1="70.0" x2="412.0" y2="63.9" stroke="#e0e000" stroke-width="2.2"/>
<line x1="434.1" y1="67.5" x2="438.3" y2="59.0" stroke="#e0e000" stroke-width="2.2"/>
<line x1="449.1" y1="74.0" x2="440.0" y2="68.3" stroke="#e0e000" stroke-width="2.2"/>
<line x1="450.9" y1="83.5" x2="441.9" y2="77.2" stroke="#e0e000" stroke-width="2.2"/>
<line x1="435.9" y1="76.6" x2="441.9" y2="77.2" stroke="#e0e000" stroke-width="2.2"/>
<line x1="424.7" y1="80.0" x2="419.6" y2="83.9" stroke="#e0e000" stroke-width="2.2"/>
<line x1="425.6" y1="84.2" x2="421.5" y2="92.5" stroke="#e0e000" stroke-width="2.2"/>
<line x1="438.9" y1="82.0" x2="448.0" y2="88.1" stroke="#e0e000" stroke-width="2.2"/>
<line x1="454.0" y1="88.9" x2="448.0" y2="88.1" stroke="#e0e000" stroke-width="2.2"/>
<line x1="454.8" y1="93.7" x2="449.5" y2="97.6" stroke="#e0e000" stroke-width="2.2"/>
<line x1="455.6" y1="98.0" x2="451.2" y2="106.3" stroke="#e0e000" stroke-width="2.2"/>
<line x1="475.5" y1="70.0" x2="466.3" y2="63.8" stroke="#e0e000" stroke-width="2.2"/>
<line x1="462.2" y1="71.8" x2="466.3" y2="63.8" stroke="#e0e000" stroke-width="2.2"/>
<line x1="463.1" y1="76.3" x2="468.1" y2="72.9" stroke="#e0e000" stroke-width="2.2"/>
<line x1="476.4" y1="74.6" x2="468.1" y2="72.9" stroke="#e0e000" stroke-width="2.2"/>
<line x1="478.3" y1="83.8" x2="469.9" y2="82.3" stroke="#e0e000" stroke-width="2.2"/>
<line x1="464.0" y1="81.0" x2="469.9" y2="82.3" stroke="#e0e000" stroke-width="2.2"/>
<line x1="489.0" y1="67.7" x2="493.3" y2="59.1" stroke="#e0e000" stroke-width="2.2"/>
<line x1="489.8" y1="72.2" x2="494.9" y2="68.3" stroke="#e0e000" stroke-width="2.2"/>
<line x1="505.7" y1="84.0" x2="496.7" y2="77.7" stroke="#e0e000" stroke-width="2.2"/>
<line x1="490.7" y1="77.0" x2="496.7" y2="77.7" stroke="#e0e000" stroke-width="2.2"/>
<line x1="480.9" y1="84.5" x2="475.1" y2="83.7" stroke="#e0e000" stroke-width="2.2"/>
<line x1="467.5" y1="86.7" x2="475.1" y2="83.7" stroke="#e0e000" stroke-width="2.2"/>
<line x1="481.5" y1="89.2" x2="476.3" y2="93.1" stroke="#e0e000" stroke-width="2.2"/>
<line x1="468.1" y1="91.4" x2="476.3" y2="93.1" stroke="#e0e000" stroke-width="2.2"/>
<line x1="482.2" y1="93.7" x2="477.7" y2="102.2" stroke="#e0e000" stroke-width="2.2"/>
<line x1="508.5" y1="89.4" x2="502.3" y2="88.6" stroke="#e0e000" stroke-width="2.2"/>
<line x1="494.5" y1="86.9" x2="502.3" y2="88.6" stroke="#e0e000" stroke-width="2.2"/>
<line x1="509.3" y1="94.0" x2="503.9" y2="97.7" stroke="#e0e000" stroke-width="2.2"/>
<line x1="495.3" y1="91.5" x2="503.9" y2="97.7" stroke="#e0e000" stroke-width="2.2"/>
<line x1="510.4" y1="98.1" x2="506.1" y2="105.9" stroke="#e0e000" stroke-width="2.2"/>
<line x1="518.8" y1="81.6" x2="522.9" y2="73.0" stroke="#e0e000" stroke-width="2.2"/>
<line x1="519.8" y1="86.2" x2="524.8" y2="82.3" stroke="#e0e000" stroke-width="2.2"/>
<line x1="523.6" y1="96.1" x2="532.5" y2="101.9" stroke="#e0e000" stroke-width="2.2"/>
<line x1="419.6" y1="118.7" x2="410.7" y2="112.6" stroke="#e0e000" stroke-width="2.2"/>
<line x1="432.8" y1="116.2" x2="437.0" y2="107.7" stroke="#e0e000" stroke-width="2.2"/>
<line x1="447.8" y1="122.7" x2="438.7" y2="117.0" stroke="#e0e000" stroke-width="2.2"/>
<line x1="449.6" y1="132.2" x2="440.6" y2="125.9" stroke="#e0e000" stroke-width="2.2"/>
<line x1="434.5" y1="125.3" x2="440.6" y2="125.9" stroke="#e0e000" stroke-width="2.2"/>
<line x1="423.4" y1="128.7" x2="418.3" y2="132.6" stroke="#e0e000" stroke-width="2.2"/>
<line x1="424.4" y1="132.9" x2="420.2" y2="141.2" stroke="#e0e000" stroke-width="2.2"/>
<line x1="437.6" y1="130.8" x2="446.7" y2="136.8" stroke="#e0e000" stroke-width="2.2"/>
<line x1="452.7" y1="137.6" x2="446.7" y2="136.8" stroke="#e0e000" stroke-width="2.2"/>
<line x1="453.4" y1="142.4" x2="448.2" y2="146.3" stroke="#e0e000" stroke-width="2.2"/>
<line x1="454.3" y1="146.7" x2="449.9" y2="155.0" stroke="#e0e000" stroke-width="2.2"/>
<line x1="474.2" y1="118.7" x2="465.0" y2="112.5" stroke="#e0e000" stroke-width="2.2"/>
<line x1="460.9" y1="120.5" x2="465.0" y2="112.5" stroke="#e0e000" stroke-width="2.2"/>
<line x1="461.8" y1="125.0" x2="466.8" y2="121.6" stroke="#e0e000" stroke-width="2.2"/>
<line x1="475.1" y1="123.2" x2="466.8" y2="121.6" stroke="#e0e000" stroke-width="2.2"/>
<line x1="477.0" y1="132.4" x2="468.6" y2="131.0" stroke="#e0e000" stroke-width="2.2"/>
<line x1="462.8" y1="129.7" x2="468.6" y2="131.0" stroke="#e0e000" stroke-width="2.2"/>
<line x1="487.7" y1="116.4" x2="492.0" y2="107.8" stroke="#e0e000" stroke-width="2.2"/>
<line x1="488.5" y1="121.0" x2="493.6" y2="117.0" stroke="#e0e000" stroke-width="2.2"/>
<line x1="504.4" y1="132.7" x2="495.4" y2="126.4" stroke="#e0e000" stroke-width="2.2"/>
<line x1="489.4" y1="125.7" x2="495.4" y2="126.4" stroke="#e0e000" stroke-width="2.2"/>
<line x1="479.6" y1="133.2" x2="473.8" y2="132.4" stroke="#e0e000" stroke-width="2.2"/>
<line x1="466.2" y1="135.4" x2="473.8" y2="132.4" stroke="#e0e000" stroke-width="2.2"/>
<line x1="480.2" y1="137.9" x2="475.0" y2="141.8" stroke="#e0e000" stroke-width="2.2"/>
<line x1="466.9" y1="140.1" x2="475.0" y2="141.8" stroke="#e0e000" stroke-width="2.2"/>
<line x1="480.9" y1="142.4" x2="476.4" y2="150.9" stroke="#e0e000" stroke-width="2.2"/>
<line x1="507.2" y1="138.1" x2="501.0" y2="137.3" stroke="#e0e000" stroke-width="2.2"/>
<line x1="493.2" y1="135.6" x2="501.0" y2="137.3" stroke="#e0e000" stroke-width="2.2"/>
<line x1="508.0" y1="142.7" x2="502.6" y2="146.4" stroke="#e0e000" stroke-width="2.2"/>
<line x1="494.0" y1="140.2" x2="502.6" y2="146.4" stroke="#e0e000" stroke-width="2.2"/>
<line x1="509.1" y1="146.8" x2="504.8" y2="154.6" stroke="#e0e000" stroke-width="2.2"/>
<line x1="517.5" y1="130.3" x2="521.6" y2="121.7" stroke="#e0e000" stroke-width="2.2"/>
<line x1="518.5" y1="134.9" x2="523.5" y2="131.0" stroke="#e0e000" stroke-width="2.2"/>
<line x1="522.3" y1="144.8" x2="531.2" y2="150.6" stroke="#e0e000" stroke-width="2.2"/>
<line x1="490.0" y1="60.0" x2="493.3" y2="59.1" stroke="#e0e000" stroke-width="2.2"/>
<line x1="482.9" y1="57.1" x2="479.0" y2="53.5" stroke="#e0e000" stroke-width="2.2"/>
<line x1="490.8" y1="64.6" x2="494.9" y2="68.3" stroke="#e0e000" stroke-width="2.2"/>
<line x1="482.1" y1="52.6" x2="477.6" y2="44.4" stroke="#e0e000" stroke-width="2.2"/>
<line x1="491.7" y1="69.2" x2="496.7" y2="77.7" stroke="#e0e000" stroke-width="2.2"/>
<line x1="476.5" y1="62.3" x2="466.3" y2="63.8" stroke="#e0e000" stroke-width="2.2"/>
<line x1="454.7" y1="105.0" x2="451.2" y2="106.3" stroke="#e0e000" stroke-width="2.2"/>
<line x1="453.9" y1="100.6" x2="449.5" y2="97.6" stroke="#e0e000" stroke-width="2.2"/>
<line x1="461.6" y1="108.0" x2="465.0" y2="112.5" stroke="#e0e000" stroke-width="2.2"/>
<line x1="453.1" y1="95.8" x2="448.0" y2="88.1" stroke="#e0e000" stroke-width="2.2"/>
<line x1="467.9" y1="102.9" x2="477.7" y2="102.2" stroke="#e0e000" stroke-width="2.2"/>
<line x1="462.5" y1="112.6" x2="466.8" y2="121.6" stroke="#e0e000" stroke-width="2.2"/>
<line x1="431.1" y1="27.3" x2="422.2" y2="21.2" stroke="#10109a" stroke-width="2.2"/>
<line x1="431.1" y1="27.3" x2="435.4" y2="18.8" stroke="#10109a" stroke-width="2.2"/>
<line x1="459.5" y1="31.0" x2="450.4" y2="25.3" stroke="#10109a" stroke-width="2.2"/>
<line x1="461.3" y1="41.0" x2="452.2" y2="34.8" stroke="#10109a" stroke-width="2.2"/>
<line x1="431.1" y1="27.3" x2="437.1" y2="27.9" stroke="#10109a" stroke-width="2.2"/>
<line x1="431.1" y1="27.3" x2="426.0" y2="31.2" stroke="#10109a" stroke-width="2.2"/>
<line x1="431.1" y1="27.3" x2="427.0" y2="35.5" stroke="#10109a" stroke-width="2.2"/>
<line x1="431.1" y1="27.3" x2="440.2" y2="33.4" stroke="#10109a" stroke-width="2.2"/>
<line x1="461.3" y1="41.0" x2="455.3" y2="40.2" stroke="#10109a" stroke-width="2.2"/>
<line x1="461.3" y1="41.0" x2="456.1" y2="45.0" stroke="#10109a" stroke-width="2.2"/>
<line x1="461.3" y1="41.0" x2="456.9" y2="49.3" stroke="#10109a" stroke-width="2.2"/>
<line x1="486.0" y1="27.5" x2="476.8" y2="21.3" stroke="#10109a" stroke-width="2.2"/>
<line x1="459.5" y1="31.0" x2="463.6" y2="23.1" stroke="#10109a" stroke-width="2.2"/>
<line x1="459.5" y1="31.0" x2="464.4" y2="27.6" stroke="#10109a" stroke-width="2.2"/>
<line x1="486.0" y1="27.5" x2="477.7" y2="25.9" stroke="#10109a" stroke-width="2.2"/>
<line x1="488.0" y1="36.5" x2="479.6" y2="35.0" stroke="#10109a" stroke-width="2.2"/>
<line x1="459.5" y1="31.0" x2="465.4" y2="32.3" stroke="#10109a" stroke-width="2.2"/>
<line x1="486.0" y1="27.5" x2="490.3" y2="18.9" stroke="#10109a" stroke-width="2.2"/>
<line x1="486.0" y1="27.5" x2="491.1" y2="23.6" stroke="#10109a" stroke-width="2.2"/>
<line x1="516.0" y1="41.5" x2="507.0" y2="35.2" stroke="#10109a" stroke-width="2.2"/>
<line x1="486.0" y1="27.5" x2="492.0" y2="28.2" stroke="#10109a" stroke-width="2.2"/>
<line x1="488.0" y1="36.5" x2="482.2" y2="35.8" stroke="#10109a" stroke-width="2.2"/>
<line x1="461.3" y1="41.0" x2="468.9" y2="38.0" stroke="#10109a" stroke-width="2.2"/>
<line x1="488.0" y1="36.5" x2="482.8" y2="40.5" stroke="#10109a" stroke-width="2.2"/>
<line x1="461.3" y1="41.0" x2="469.5" y2="42.7" stroke="#10109a" stroke-width="2.2"/>
<line x1="488.0" y1="36.5" x2="483.5" y2="45.0" stroke="#10109a" stroke-width="2.2"/>
<line x1="516.0" y1="41.5" x2="509.8" y2="40.7" stroke="#10109a" stroke-width="2.2"/>
<line x1="488.0" y1="36.5" x2="495.8" y2="38.2" stroke="#10109a" stroke-width="2.2"/>
<line x1="516.0" y1="41.5" x2="510.6" y2="45.2" stroke="#10109a" stroke-width="2.2"/>
<line x1="488.0" y1="36.5" x2="496.6" y2="42.8" stroke="#10109a" stroke-width="2.2"/>
<line x1="516.0" y1="41.5" x2="511.7" y2="49.4" stroke="#10109a" stroke-width="2.2"/>
<line x1="516.0" y1="41.5" x2="520.1" y2="32.9" stroke="#10109a" stroke-width="2.2"/>
<line x1="516.0" y1="41.5" x2="521.0" y2="37.5" stroke="#10109a" stroke-width="2.2"/>
<line x1="516.0" y1="41.5" x2="524.9" y2="47.4" stroke="#10109a" stroke-width="2.2"/>
<line x1="429.8" y1="76.0" x2="420.9" y2="70.0" stroke="#10109a" stroke-width="2.2"/>
<line x1="429.8" y1="76.0" x2="434.1" y2="67.5" stroke="#10109a" stroke-width="2.2"/>
<line x1="458.2" y1="79.7" x2="449.1" y2="74.0" stroke="#10109a" stroke-width="2.2"/>
<line x1="460.0" y1="89.7" x2="450.9" y2="83.5" stroke="#10109a" stroke-width="2.2"/>
<line x1="429.8" y1="76.0" x2="435.9" y2="76.6" stroke="#10109a" stroke-width="2.2"/>
<line x1="429.8" y1="76.0" x2="424.7" y2="80.0" stroke="#10109a" stroke-width="2.2"/>
<line x1="429.8" y1="76.0" x2="425.6" y2="84.2" stroke="#10109a" stroke-width="2.2"/>
<line x1="429.8" y1="76.0" x2="438.9" y2="82.0" stroke="#10109a" stroke-width="2.2"/>
<line x1="460.0" y1="89.7" x2="454.0" y2="88.9" stroke="#10109a" stroke-width="2.2"/>
<line x1="460.0" y1="89.7" x2="454.8" y2="93.7" stroke="#10109a" stroke-width="2.2"/>
<line x1="460.0" y1="89.7" x2="455.6" y2="98.0" stroke="#10109a" stroke-width="2.2"/>
<line x1="484.7" y1="76.2" x2="475.5" y2="70.0" stroke="#10109a" stroke-width="2.2"/>
<line x1="458.2" y1="79.7" x2="462.2" y2="71.8" stroke="#10109a" stroke-width="2.2"/>
<line x1="458.2" y1="79.7" x2="463.1" y2="76.3" stroke="#10109a" stroke-width="2.2"/>
<line x1="484.7" y1="76.2" x2="476.4" y2="74.6" stroke="#10109a" stroke-width="2.2"/>
<line x1="486.7" y1="85.2" x2="478.3" y2="83.8" stroke="#10109a" stroke-width="2.2"/>
<line x1="458.2" y1="79.7" x2="464.0" y2="81.0" stroke="#10109a" stroke-width="2.2"/>
<line x1="484.7" y1="76.2" x2="489.0" y2="67.7" stroke="#10109a" stroke-width="2.2"/>
<line x1="484.7" y1="76.2" x2="489.8" y2="72.2" stroke="#10109a" stroke-width="2.2"/>
<line x1="514.7" y1="90.2" x2="505.7" y2="84.0" stroke="#10109a" stroke-width="2.2"/>
<line x1="484.7" y1="76.2" x2="490.7" y2="77.0" stroke="#10109a" stroke-width="2.2"/>
<line x1="486.7" y1="85.2" x2="480.9" y2="84.5" stroke="#10109a" stroke-width="2.2"/>
<line x1="460.0" y1="89.7" x2="467.5" y2="86.7" stroke="#10109a" stroke-width="2.2"/>
<line x1="486.7" y1="85.2" x2="481.5" y2="89.2" stroke="#10109a" stroke-width="2.2"/>
<line x1="460.0" y1="89.7" x2="468.1" y2="91.4" stroke="#10109a" stroke-width="2.2"/>
<line x1="486.7" y1="85.2" x2="482.2" y2="93.7" stroke="#10109a" stroke-width="2.2"/>
<line x1="514.7" y1="90.2" x2="508.5" y2="89.4" stroke="#10109a" stroke-width="2.2"/>
<line x1="486.7" y1="85.2" x2="494.5" y2="86.9" stroke="#10109a" stroke-width="2.2"/>
<line x1="514.7" y1="90.2" x2="509.3" y2="94.0" stroke="#10109a" stroke-width="2.2"/>
<line x1="486.7" y1="85.2" x2="495.3" y2="91.5" stroke="#10109a" stroke-width="2.2"/>
<line x1="514.7" y1="90.2" x2="510.4" y2="98.1" stroke="#10109a" stroke-width="2.2"/>
<line x1="514.7" y1="90.2" x2="518.8" y2="81.6" stroke="#10109a" stroke-width="2.2"/>
<line x1="514.7" y1="90.2" x2="519.8" y2="86.2" stroke="#10109a" stroke-width="2.2"/>
<line x1="514.7" y1="90.2" x2="523.6" y2="96.1" stroke="#10109a" stroke-width="2.2"/>
<line x1="428.5" y1="124.7" x2="419.6" y2="118.7" stroke="#10109a" stroke-width="2.2"/>
<line x1="428.5" y1="124.7" x2="432.8" y2="116.2" stroke="#10109a" stroke-width="2.2"/>
<line x1="456.9" y1="128.4" x2="447.8" y2="122.7" stroke="#10109a" stroke-width="2.2"/>
<line x1="458.7" y1="138.4" x2="449.6" y2="132.2" stroke="#10109a" stroke-width="2.2"/>
<line x1="428.5" y1="124.7" x2="434.5" y2="125.3" stroke="#10109a" stroke-width="2.2"/>
<line x1="428.5" y1="124.7" x2="423.4" y2="128.7" stroke="#10109a" stroke-width="2.2"/>
<line x1="428.5" y1="124.7" x2="424.4" y2="132.9" stroke="#10109a" stroke-width="2.2"/>
<line x1="428.5" y1="124.7" x2="437.6" y2="130.8" stroke="#10109a" stroke-width="2.2"/>
<line x1="458.7" y1="138.4" x2="452.7" y2="137.6" stroke="#10109a" stroke-width="2.2"/>
<line x1="458.7" y1="138.4" x2="453.4" y2="142.4" stroke="#10109a" stroke-width="2.2"/>
<line x1="458.7" y1="138.4" x2="454.3" y2="146.7" stroke="#10109a" stroke-width="2.2"/>
<line x1="483.4" y1="124.9" x2="474.2" y2="118.7" stroke="#10109a" stroke-width="2.2"/>
<line x1="456.9" y1="128.4" x2="460.9" y2="120.5" stroke="#10109a" stroke-width="2.2"/>
<line x1="456.9" y1="128.4" x2="461.8" y2="125.0" stroke="#10109a" stroke-width="2.2"/>
<line x1="483.4" y1="124.9" x2="475.1" y2="123.2" stroke="#10109a" stroke-width="2.2"/>
<line x1="485.4" y1="133.9" x2="477.0" y2="132.4" stroke="#10109a" stroke-width="2.2"/>
<line x1="456.9" y1="128.4" x2="462.8" y2="129.7" stroke="#10109a" stroke-width="2.2"/>
<line x1="483.4" y1="124.9" x2="487.7" y2="116.4" stroke="#10109a" stroke-width="2.2"/>
<line x1="483.4" y1="124.9" x2="488.5" y2="121.0" stroke="#10109a" stroke-width="2.2"/>
<line x1="513.4" y1="138.9" x2="504.4" y2="132.7" stroke="#10109a" stroke-width="2.2"/>
<line x1="483.4" y1="124.9" x2="489.4" y2="125.7" stroke="#10109a" stroke-width="2.2"/>
<line x1="485.4" y1="133.9" x2="479.6" y2="133.2" stroke="#10109a" stroke-width="2.2"/>
<line x1="458.7" y1="138.4" x2="466.2" y2="135.4" stroke="#10109a" stroke-width="2.2"/>
<line x1="485.4" y1="133.9" x2="480.2" y2="137.9" stroke="#10109a" stroke-width="2.2"/>
<line x1="458.7" y1="138.4" x2="466.9" y2="140.1" stroke="#10109a" stroke-width="2.2"/>
<line x1="485.4" y1="133.9" x2="480.9" y2="142.4" stroke="#10109a" stroke-width="2.2"/>
<line x1="513.4" y1="138.9" x2="507.2" y2="138.1" stroke="#10109a" stroke-width="2.2"/>
<line x1="485.4" y1="133.9" x2="493.2" y2="135.6" stroke="#10109a" stroke-width="2.2"/>
<line x1="513.4" y1="138.9" x2="508.0" y2="142.7" stroke="#10109a" stroke-width="2.2"/>
<line x1="485.4" y1="133.9" x2="494.0" y2="140.2" stroke="#10109a" stroke-width="2.2"/>
<line x1="513.4" y1="138.9" x2="509.1" y2="146.8" stroke="#10109a" stroke-width="2.2"/>
<line x1="513.4" y1="138.9" x2="517.5" y2="130.3" stroke="#10109a" stroke-width="2.2"/>
<line x1="513.4" y1="138.9" x2="518.5" y2="134.9" stroke="#10109a" stroke-width="2.2"/>
<line x1="513.4" y1="138.9" x2="522.3" y2="144.8" stroke="#10109a" stroke-width="2.2"/>
<line x1="486.7" y1="60.8" x2="490.0" y2="60.0" stroke="#10109a" stroke-width="2.2"/>
<line x1="486.7" y1="60.8" x2="482.9" y2="57.1" stroke="#10109a" stroke-width="2.2"/>
<line x1="486.7" y1="60.8" x2="490.8" y2="64.6" stroke="#10109a" stroke-width="2.2"/>
<line x1="486.7" y1="60.8" x2="482.1" y2="52.6" stroke="#10109a" stroke-width="2.2"/>
<line x1="486.7" y1="60.8" x2="491.7" y2="69.2" stroke="#10109a" stroke-width="2.2"/>
<line x1="486.7" y1="60.8" x2="476.5" y2="62.3" stroke="#10109a" stroke-width="2.2"/>
<line x1="458.2" y1="103.6" x2="454.7" y2="105.0" stroke="#10109a" stroke-width="2.2"/>
<line x1="458.2" y1="103.6" x2="453.9" y2="100.6" stroke="#10109a" stroke-width="2.2"/>
<line x1="458.2" y1="103.6" x2="461.6" y2="108.0" stroke="#10109a" stroke-width="2.2"/>
<line x1="458.2" y1="103.6" x2="453.1" y2="95.8" stroke="#10109a" stroke-width="2.2"/>
<line x1="458.2" y1="103.6" x2="467.9" y2="102.9" stroke="#10109a" stroke-width="2.2"/>
<line x1="458.2" y1="103.6" x2="462.5" y2="112.6" stroke="#10109a" stroke-width="2.2"/>
<circle cx="413.3" cy="15.2" r="3.75" fill="url(#gS)" stroke="#b0a010" stroke-width="0.6"/>
<circle cx="439.6" cy="10.3" r="3.75" fill="url(#gS)" stroke="#b0a010" stroke-width="0.6"/>
<circle cx="441.3" cy="19.6" r="3.75" fill="url(#gS)" stroke="#b0a010" stroke-width="0.6"/>
<circle cx="443.2" cy="28.5" r="3.75" fill="url(#gS)" stroke="#b0a010" stroke-width="0.6"/>
<circle cx="420.9" cy="35.2" r="3.75" fill="url(#gS)" stroke="#b0a010" stroke-width="0.6"/>
<circle cx="422.8" cy="43.8" r="3.75" fill="url(#gS)" stroke="#b0a010" stroke-width="0.6"/>
<circle cx="449.3" cy="39.4" r="3.75" fill="url(#gS)" stroke="#b0a010" stroke-width="0.6"/>
<circle cx="450.8" cy="48.9" r="3.75" fill="url(#gS)" stroke="#b0a010" stroke-width="0.6"/>
<circle cx="452.5" cy="57.6" r="3.75" fill="url(#gS)" stroke="#b0a010" stroke-width="0.6"/>
<circle cx="467.6" cy="15.1" r="3.75" fill="url(#gS)" stroke="#b0a010" stroke-width="0.6"/>
<circle cx="469.4" cy="24.2" r="3.75" fill="url(#gS)" stroke="#b0a010" stroke-width="0.6"/>
<circle cx="471.2" cy="33.6" r="3.75" fill="url(#gS)" stroke="#b0a010" stroke-width="0.6"/>
<circle cx="494.6" cy="10.4" r="3.75" fill="url(#gS)" stroke="#b0a010" stroke-width="0.6"/>
<circle cx="496.2" cy="19.6" r="3.75" fill="url(#gS)" stroke="#b0a010" stroke-width="0.6"/>
<circle cx="498.0" cy="29.0" r="3.75" fill="url(#gS)" stroke="#b0a010" stroke-width="0.6"/>
<circle cx="476.4" cy="35.0" r="3.75" fill="url(#gS)" stroke="#b0a010" stroke-width="0.6"/>
<circle cx="477.6" cy="44.4" r="3.75" fill="url(#gS)" stroke="#b0a010" stroke-width="0.6"/>
<circle cx="479.0" cy="53.5" r="3.75" fill="url(#gS)" stroke="#b0a010" stroke-width="0.6"/>
<circle cx="503.6" cy="39.9" r="3.75" fill="url(#gS)" stroke="#b0a010" stroke-width="0.6"/>
<circle cx="505.2" cy="49.0" r="3.75" fill="url(#gS)" stroke="#b0a010" stroke-width="0.6"/>
<circle cx="507.4" cy="57.2" r="3.75" fill="url(#gS)" stroke="#b0a010" stroke-width="0.6"/>
<circle cx="524.2" cy="24.3" r="3.75" fill="url(#gS)" stroke="#b0a010" stroke-width="0.6"/>
<circle cx="526.1" cy="33.6" r="3.75" fill="url(#gS)" stroke="#b0a010" stroke-width="0.6"/>
<circle cx="533.8" cy="53.2" r="3.75" fill="url(#gS)" stroke="#b0a010" stroke-width="0.6"/>
<circle cx="412.0" cy="63.9" r="3.75" fill="url(#gS)" stroke="#b0a010" stroke-width="0.6"/>
<circle cx="438.3" cy="59.0" r="3.75" fill="url(#gS)" stroke="#b0a010" stroke-width="0.6"/>
<circle cx="440.0" cy="68.3" r="3.75" fill="url(#gS)" stroke="#b0a010" stroke-width="0.6"/>
<circle cx="441.9" cy="77.2" r="3.75" fill="url(#gS)" stroke="#b0a010" stroke-width="0.6"/>
<circle cx="419.6" cy="83.9" r="3.75" fill="url(#gS)" stroke="#b0a010" stroke-width="0.6"/>
<circle cx="421.5" cy="92.5" r="3.75" fill="url(#gS)" stroke="#b0a010" stroke-width="0.6"/>
<circle cx="448.0" cy="88.1" r="3.75" fill="url(#gS)" stroke="#b0a010" stroke-width="0.6"/>
<circle cx="449.5" cy="97.6" r="3.75" fill="url(#gS)" stroke="#b0a010" stroke-width="0.6"/>
<circle cx="451.2" cy="106.3" r="3.75" fill="url(#gS)" stroke="#b0a010" stroke-width="0.6"/>
<circle cx="466.3" cy="63.8" r="3.75" fill="url(#gS)" stroke="#b0a010" stroke-width="0.6"/>
<circle cx="468.1" cy="72.9" r="3.75" fill="url(#gS)" stroke="#b0a010" stroke-width="0.6"/>
<circle cx="469.9" cy="82.3" r="3.75" fill="url(#gS)" stroke="#b0a010" stroke-width="0.6"/>
<circle cx="493.3" cy="59.1" r="3.75" fill="url(#gS)" stroke="#b0a010" stroke-width="0.6"/>
<circle cx="494.9" cy="68.3" r="3.75" fill="url(#gS)" stroke="#b0a010" stroke-width="0.6"/>
<circle cx="496.7" cy="77.7" r="3.75" fill="url(#gS)" stroke="#b0a010" stroke-width="0.6"/>
<circle cx="475.1" cy="83.7" r="3.75" fill="url(#gS)" stroke="#b0a010" stroke-width="0.6"/>
<circle cx="476.3" cy="93.1" r="3.75" fill="url(#gS)" stroke="#b0a010" stroke-width="0.6"/>
<circle cx="477.7" cy="102.2" r="3.75" fill="url(#gS)" stroke="#b0a010" stroke-width="0.6"/>
<circle cx="502.3" cy="88.6" r="3.75" fill="url(#gS)" stroke="#b0a010" stroke-width="0.6"/>
<circle cx="503.9" cy="97.7" r="3.75" fill="url(#gS)" stroke="#b0a010" stroke-width="0.6"/>
<circle cx="506.1" cy="105.9" r="3.75" fill="url(#gS)" stroke="#b0a010" stroke-width="0.6"/>
<circle cx="522.9" cy="73.0" r="3.75" fill="url(#gS)" stroke="#b0a010" stroke-width="0.6"/>
<circle cx="524.8" cy="82.3" r="3.75" fill="url(#gS)" stroke="#b0a010" stroke-width="0.6"/>
<circle cx="532.5" cy="101.9" r="3.75" fill="url(#gS)" stroke="#b0a010" stroke-width="0.6"/>
<circle cx="410.7" cy="112.6" r="3.75" fill="url(#gS)" stroke="#b0a010" stroke-width="0.6"/>
<circle cx="437.0" cy="107.7" r="3.75" fill="url(#gS)" stroke="#b0a010" stroke-width="0.6"/>
<circle cx="438.7" cy="117.0" r="3.75" fill="url(#gS)" stroke="#b0a010" stroke-width="0.6"/>
<circle cx="440.6" cy="125.9" r="3.75" fill="url(#gS)" stroke="#b0a010" stroke-width="0.6"/>
<circle cx="418.3" cy="132.6" r="3.75" fill="url(#gS)" stroke="#b0a010" stroke-width="0.6"/>
<circle cx="420.2" cy="141.2" r="3.75" fill="url(#gS)" stroke="#b0a010" stroke-width="0.6"/>
<circle cx="446.7" cy="136.8" r="3.75" fill="url(#gS)" stroke="#b0a010" stroke-width="0.6"/>
<circle cx="448.2" cy="146.3" r="3.75" fill="url(#gS)" stroke="#b0a010" stroke-width="0.6"/>
<circle cx="449.9" cy="155.0" r="3.75" fill="url(#gS)" stroke="#b0a010" stroke-width="0.6"/>
<circle cx="465.0" cy="112.5" r="3.75" fill="url(#gS)" stroke="#b0a010" stroke-width="0.6"/>
<circle cx="466.8" cy="121.6" r="3.75" fill="url(#gS)" stroke="#b0a010" stroke-width="0.6"/>
<circle cx="468.6" cy="131.0" r="3.75" fill="url(#gS)" stroke="#b0a010" stroke-width="0.6"/>
<circle cx="492.0" cy="107.8" r="3.75" fill="url(#gS)" stroke="#b0a010" stroke-width="0.6"/>
<circle cx="493.6" cy="117.0" r="3.75" fill="url(#gS)" stroke="#b0a010" stroke-width="0.6"/>
<circle cx="495.4" cy="126.4" r="3.75" fill="url(#gS)" stroke="#b0a010" stroke-width="0.6"/>
<circle cx="473.8" cy="132.4" r="3.75" fill="url(#gS)" stroke="#b0a010" stroke-width="0.6"/>
<circle cx="475.0" cy="141.8" r="3.75" fill="url(#gS)" stroke="#b0a010" stroke-width="0.6"/>
<circle cx="476.4" cy="150.9" r="3.75" fill="url(#gS)" stroke="#b0a010" stroke-width="0.6"/>
<circle cx="501.0" cy="137.3" r="3.75" fill="url(#gS)" stroke="#b0a010" stroke-width="0.6"/>
<circle cx="502.6" cy="146.4" r="3.75" fill="url(#gS)" stroke="#b0a010" stroke-width="0.6"/>
<circle cx="504.8" cy="154.6" r="3.75" fill="url(#gS)" stroke="#b0a010" stroke-width="0.6"/>
<circle cx="521.6" cy="121.7" r="3.75" fill="url(#gS)" stroke="#b0a010" stroke-width="0.6"/>
<circle cx="523.5" cy="131.0" r="3.75" fill="url(#gS)" stroke="#b0a010" stroke-width="0.6"/>
<circle cx="531.2" cy="150.6" r="3.75" fill="url(#gS)" stroke="#b0a010" stroke-width="0.6"/>
<circle cx="431.1" cy="27.3" r="5.1" fill="url(#gCr)"/>
<circle cx="459.5" cy="31.0" r="5.1" fill="url(#gCr)"/>
<circle cx="461.3" cy="41.0" r="5.1" fill="url(#gCr)"/>
<circle cx="486.0" cy="27.5" r="5.1" fill="url(#gCr)"/>
<circle cx="488.0" cy="36.5" r="5.1" fill="url(#gCr)"/>
<circle cx="516.0" cy="41.5" r="5.1" fill="url(#gCr)"/>
<circle cx="429.8" cy="76.0" r="5.1" fill="url(#gCr)"/>
<circle cx="458.2" cy="79.7" r="5.1" fill="url(#gCr)"/>
<circle cx="460.0" cy="89.7" r="5.1" fill="url(#gCr)"/>
<circle cx="484.7" cy="76.2" r="5.1" fill="url(#gCr)"/>
<circle cx="486.7" cy="85.2" r="5.1" fill="url(#gCr)"/>
<circle cx="514.7" cy="90.2" r="5.1" fill="url(#gCr)"/>
<circle cx="428.5" cy="124.7" r="5.1" fill="url(#gCr)"/>
<circle cx="456.9" cy="128.4" r="5.1" fill="url(#gCr)"/>
<circle cx="458.7" cy="138.4" r="5.1" fill="url(#gCr)"/>
<circle cx="483.4" cy="124.9" r="5.1" fill="url(#gCr)"/>
<circle cx="485.4" cy="133.9" r="5.1" fill="url(#gCr)"/>
<circle cx="513.4" cy="138.9" r="5.1" fill="url(#gCr)"/>
<circle cx="486.7" cy="60.8" r="5.1" fill="url(#gCr)"/>
<circle cx="458.2" cy="103.6" r="5.1" fill="url(#gCr)"/>
<line x1="431.1" y1="21.3" x2="431.1" y2="31.3" stroke="#22e022" stroke-width="2"/>
<polygon points="431.1,36.8 427.8,31.3 434.4,31.3" fill="#22e022"/>
<line x1="459.5" y1="37.0" x2="459.5" y2="27.0" stroke="#ff6a1c" stroke-width="2"/>
<polygon points="459.5,21.5 456.2,27.0 462.8,27.0" fill="#ff6a1c"/>
<line x1="461.3" y1="35.0" x2="461.3" y2="45.0" stroke="#22e022" stroke-width="2"/>
<polygon points="461.3,50.5 458.0,45.0 464.6,45.0" fill="#22e022"/>
<line x1="486.0" y1="21.5" x2="486.0" y2="31.5" stroke="#22e022" stroke-width="2"/>
<polygon points="486.0,37.0 482.7,31.5 489.3,31.5" fill="#22e022"/>
<line x1="488.0" y1="45.5" x2="488.0" y2="35.5" stroke="#ff6a1c" stroke-width="2"/>
<polygon points="488.0,30.0 484.7,35.5 491.3,35.5" fill="#ff6a1c"/>
<line x1="516.0" y1="35.5" x2="516.0" y2="45.5" stroke="#22e022" stroke-width="2"/>
<polygon points="516.0,51.0 512.7,45.5 519.3,45.5" fill="#22e022"/>
<line x1="429.8" y1="70.0" x2="429.8" y2="80.0" stroke="#22e022" stroke-width="2"/>
<polygon points="429.8,85.5 426.5,80.0 433.1,80.0" fill="#22e022"/>
<line x1="458.2" y1="85.7" x2="458.2" y2="75.7" stroke="#ff6a1c" stroke-width="2"/>
<polygon points="458.2,70.2 454.9,75.7 461.5,75.7" fill="#ff6a1c"/>
<line x1="460.0" y1="83.7" x2="460.0" y2="93.7" stroke="#22e022" stroke-width="2"/>
<polygon points="460.0,99.2 456.7,93.7 463.3,93.7" fill="#22e022"/>
<line x1="484.7" y1="70.2" x2="484.7" y2="80.2" stroke="#22e022" stroke-width="2"/>
<polygon points="484.7,85.7 481.4,80.2 488.0,80.2" fill="#22e022"/>
<line x1="486.7" y1="94.2" x2="486.7" y2="84.2" stroke="#ff6a1c" stroke-width="2"/>
<polygon points="486.7,78.7 483.4,84.2 490.0,84.2" fill="#ff6a1c"/>
<line x1="514.7" y1="84.2" x2="514.7" y2="94.2" stroke="#22e022" stroke-width="2"/>
<polygon points="514.7,99.7 511.4,94.2 518.0,94.2" fill="#22e022"/>
<line x1="428.5" y1="118.7" x2="428.5" y2="128.7" stroke="#22e022" stroke-width="2"/>
<polygon points="428.5,134.2 425.2,128.7 431.8,128.7" fill="#22e022"/>
<line x1="456.9" y1="134.4" x2="456.9" y2="124.4" stroke="#ff6a1c" stroke-width="2"/>
<polygon points="456.9,118.9 453.6,124.4 460.2,124.4" fill="#ff6a1c"/>
<line x1="458.7" y1="132.4" x2="458.7" y2="142.4" stroke="#22e022" stroke-width="2"/>
<polygon points="458.7,147.9 455.4,142.4 462.0,142.4" fill="#22e022"/>
<line x1="483.4" y1="118.9" x2="483.4" y2="128.9" stroke="#22e022" stroke-width="2"/>
<polygon points="483.4,134.4 480.1,128.9 486.7,128.9" fill="#22e022"/>
<line x1="485.4" y1="142.9" x2="485.4" y2="132.9" stroke="#ff6a1c" stroke-width="2"/>
<polygon points="485.4,127.4 482.1,132.9 488.7,132.9" fill="#ff6a1c"/>
<line x1="513.4" y1="132.9" x2="513.4" y2="142.9" stroke="#22e022" stroke-width="2"/>
<polygon points="513.4,148.4 510.1,142.9 516.7,142.9" fill="#22e022"/>
<line x1="486.7" y1="54.8" x2="486.7" y2="64.8" stroke="#22e022" stroke-width="2"/>
<polygon points="486.7,70.3 483.4,64.8 490.0,64.8" fill="#22e022"/>
<line x1="458.2" y1="97.6" x2="458.2" y2="107.6" stroke="#22e022" stroke-width="2"/>
<polygon points="458.2,113.1 454.9,107.6 461.5,107.6" fill="#22e022"/>
</g>
<text x="379.5" y="33" font-size="29.5" fill="#000">b</text>
<text x="379.5" y="209.2" font-size="29.5" fill="#000">c</text>
<text x="379.5" y="386.2" font-size="29.5" fill="#000">d</text>
<text x="418.3" y="171.8" font-size="16.6" fill="#000" textLength="107.5" lengthAdjust="spacing">Ferromagnetic</text>
<text x="397.2" y="347.4" font-size="16.6" fill="#000" textLength="145.5" lengthAdjust="spacing">Antiferromagnetic-1</text>
<text x="396.6" y="527.7" font-size="16.6" fill="#000" textLength="146.5" lengthAdjust="spacing">Antiferromagnetic-2</text>
</svg></body></html>
